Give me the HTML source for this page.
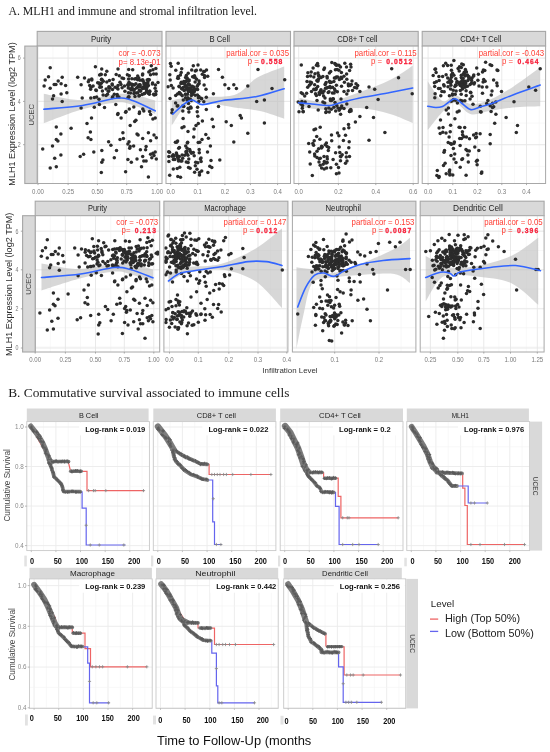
<!DOCTYPE html>
<html><head><meta charset="utf-8"><style>
html,body{margin:0;padding:0;background:#fff;width:550px;height:752px;overflow:hidden}
svg{display:block;filter:blur(0.35px)}
text{font-family:"Liberation Sans",sans-serif}
.serif{font-family:"Liberation Serif",serif}
</style></head><body>
<svg width="550" height="752" viewBox="0 0 550 752" fill="#2b2b2b">
<rect x="0" y="0" width="550" height="752" fill="#fff"/>
<text x="8.4" y="14.9" class="serif" font-size="11.8" fill="#1a1a1a">A. MLH1 and immune and stromal infiltration level.</text>
<rect x="37.2" y="31.4" width="124.8" height="14.700000000000003" fill="#d9d9d9" stroke="#a6a6a6" stroke-width="1.1"/>
<text x="91.1" y="41.8" font-size="8.2" fill="#222" textLength="20.0" lengthAdjust="spacingAndGlyphs">Purity</text>
<rect x="37.2" y="46.1" width="124.8" height="137.4" fill="#fff"/>
<line x1="53.0" y1="46.1" x2="53.0" y2="183.5" stroke="#f3f3f3" stroke-width="0.6"/>
<line x1="83.1" y1="46.1" x2="83.1" y2="183.5" stroke="#f3f3f3" stroke-width="0.6"/>
<line x1="113.2" y1="46.1" x2="113.2" y2="183.5" stroke="#f3f3f3" stroke-width="0.6"/>
<line x1="143.3" y1="46.1" x2="143.3" y2="183.5" stroke="#f3f3f3" stroke-width="0.6"/>
<line x1="37.2" y1="58.1" x2="162.0" y2="58.1" stroke="#f3f3f3" stroke-width="0.6"/>
<line x1="37.2" y1="79.8" x2="162.0" y2="79.8" stroke="#f3f3f3" stroke-width="0.6"/>
<line x1="37.2" y1="101.4" x2="162.0" y2="101.4" stroke="#f3f3f3" stroke-width="0.6"/>
<line x1="37.2" y1="123.1" x2="162.0" y2="123.1" stroke="#f3f3f3" stroke-width="0.6"/>
<line x1="37.2" y1="144.7" x2="162.0" y2="144.7" stroke="#f3f3f3" stroke-width="0.6"/>
<line x1="37.2" y1="166.4" x2="162.0" y2="166.4" stroke="#f3f3f3" stroke-width="0.6"/>
<line x1="38.0" y1="46.1" x2="38.0" y2="183.5" stroke="#e6e6e6" stroke-width="0.9"/>
<line x1="68.1" y1="46.1" x2="68.1" y2="183.5" stroke="#e6e6e6" stroke-width="0.9"/>
<line x1="97.4" y1="46.1" x2="97.4" y2="183.5" stroke="#e6e6e6" stroke-width="0.9"/>
<line x1="126.7" y1="46.1" x2="126.7" y2="183.5" stroke="#e6e6e6" stroke-width="0.9"/>
<line x1="157.2" y1="46.1" x2="157.2" y2="183.5" stroke="#e6e6e6" stroke-width="0.9"/>
<line x1="37.2" y1="58.1" x2="162.0" y2="58.1" stroke="#e6e6e6" stroke-width="0.9"/>
<line x1="37.2" y1="101.4" x2="162.0" y2="101.4" stroke="#e6e6e6" stroke-width="0.9"/>
<line x1="37.2" y1="144.7" x2="162.0" y2="144.7" stroke="#e6e6e6" stroke-width="0.9"/>
<path d="M43.8,93.7 C49.8,94.8 67.9,100.0 80.0,100.0 C92.1,100.0 107.3,94.8 116.5,94.0 C125.7,93.2 128.6,93.9 135.0,95.0 C141.4,96.1 151.8,99.6 155.2,100.5 L155.2,114.0 C151.8,112.7 141.4,107.9 135.0,106.0 C128.6,104.1 125.7,101.8 116.5,102.5 C107.3,103.2 92.1,106.5 80.0,110.0 C67.9,113.5 49.8,121.1 43.8,123.3 Z" fill="#bdbdbd" fill-opacity="0.6"/>
<circle cx="50.2" cy="67.8" r="1.75"/>
<circle cx="48.5" cy="76.7" r="1.75"/>
<circle cx="45.2" cy="80.1" r="1.75"/>
<circle cx="44.1" cy="86.1" r="1.75"/>
<circle cx="50.2" cy="88.2" r="1.75"/>
<circle cx="54.2" cy="84.4" r="1.75"/>
<circle cx="55.9" cy="84.4" r="1.75"/>
<circle cx="58.2" cy="80.9" r="1.75"/>
<circle cx="61.1" cy="83.8" r="1.75"/>
<circle cx="62.2" cy="77.2" r="1.75"/>
<circle cx="65.6" cy="85.5" r="1.75"/>
<circle cx="53.6" cy="95.8" r="1.75"/>
<circle cx="52.5" cy="98.9" r="1.75"/>
<circle cx="61.1" cy="94.1" r="1.75"/>
<circle cx="66.8" cy="92.7" r="1.75"/>
<circle cx="62.2" cy="101.6" r="1.75"/>
<circle cx="77.7" cy="77.2" r="1.75"/>
<circle cx="84.5" cy="78.1" r="1.75"/>
<circle cx="81.1" cy="84.7" r="1.75"/>
<circle cx="88.3" cy="81.7" r="1.75"/>
<circle cx="91.8" cy="80.1" r="1.75"/>
<circle cx="89.7" cy="85.5" r="1.75"/>
<circle cx="93.1" cy="86.1" r="1.75"/>
<circle cx="95.4" cy="66.8" r="1.75"/>
<circle cx="97.7" cy="82.7" r="1.75"/>
<circle cx="82.2" cy="98.1" r="1.75"/>
<circle cx="90.8" cy="98.1" r="1.75"/>
<circle cx="94.3" cy="97.5" r="1.75"/>
<circle cx="96.6" cy="97.0" r="1.75"/>
<circle cx="81.1" cy="107.9" r="1.75"/>
<circle cx="94.3" cy="107.3" r="1.75"/>
<circle cx="99.4" cy="104.4" r="1.75"/>
<circle cx="91.5" cy="118.0" r="1.75"/>
<circle cx="87.0" cy="123.6" r="1.75"/>
<circle cx="56.3" cy="127.0" r="1.75"/>
<circle cx="71.1" cy="128.2" r="1.75"/>
<circle cx="60.9" cy="133.9" r="1.75"/>
<circle cx="90.4" cy="132.0" r="1.75"/>
<circle cx="56.3" cy="139.5" r="1.75"/>
<circle cx="57.9" cy="141.1" r="1.75"/>
<circle cx="88.1" cy="137.7" r="1.75"/>
<circle cx="90.9" cy="139.5" r="1.75"/>
<circle cx="52.5" cy="145.9" r="1.75"/>
<circle cx="42.7" cy="149.1" r="1.75"/>
<circle cx="60.9" cy="155.0" r="1.75"/>
<circle cx="54.7" cy="158.2" r="1.75"/>
<circle cx="50.2" cy="168.0" r="1.75"/>
<circle cx="56.3" cy="166.8" r="1.75"/>
<circle cx="80.2" cy="156.6" r="1.75"/>
<circle cx="83.6" cy="154.3" r="1.75"/>
<circle cx="93.8" cy="152.0" r="1.75"/>
<circle cx="101.8" cy="150.5" r="1.75"/>
<circle cx="108.6" cy="141.8" r="1.75"/>
<circle cx="110.9" cy="145.2" r="1.75"/>
<circle cx="116.5" cy="150.5" r="1.75"/>
<circle cx="114.3" cy="157.7" r="1.75"/>
<circle cx="102.9" cy="160.0" r="1.75"/>
<circle cx="101.8" cy="162.3" r="1.75"/>
<circle cx="101.3" cy="172.5" r="1.75"/>
<circle cx="117.7" cy="114.5" r="1.75"/>
<circle cx="121.1" cy="118.0" r="1.75"/>
<circle cx="125.6" cy="112.3" r="1.75"/>
<circle cx="130.2" cy="125.5" r="1.75"/>
<circle cx="134.7" cy="121.4" r="1.75"/>
<circle cx="135.9" cy="120.2" r="1.75"/>
<circle cx="139.3" cy="113.4" r="1.75"/>
<circle cx="143.8" cy="111.1" r="1.75"/>
<circle cx="150.6" cy="114.5" r="1.75"/>
<circle cx="152.9" cy="119.1" r="1.75"/>
<circle cx="155.2" cy="118.0" r="1.75"/>
<circle cx="122.9" cy="132.7" r="1.75"/>
<circle cx="120.0" cy="139.5" r="1.75"/>
<circle cx="123.4" cy="138.4" r="1.75"/>
<circle cx="137.0" cy="133.9" r="1.75"/>
<circle cx="138.1" cy="135.0" r="1.75"/>
<circle cx="142.7" cy="138.4" r="1.75"/>
<circle cx="148.4" cy="132.7" r="1.75"/>
<circle cx="154.0" cy="135.0" r="1.75"/>
<circle cx="156.3" cy="137.7" r="1.75"/>
<circle cx="129.0" cy="141.8" r="1.75"/>
<circle cx="127.9" cy="144.1" r="1.75"/>
<circle cx="130.2" cy="146.4" r="1.75"/>
<circle cx="133.6" cy="145.9" r="1.75"/>
<circle cx="129.7" cy="148.2" r="1.75"/>
<circle cx="150.6" cy="140.7" r="1.75"/>
<circle cx="146.1" cy="146.4" r="1.75"/>
<circle cx="145.6" cy="149.8" r="1.75"/>
<circle cx="140.4" cy="149.8" r="1.75"/>
<circle cx="142.7" cy="156.6" r="1.75"/>
<circle cx="137.0" cy="158.9" r="1.75"/>
<circle cx="127.9" cy="159.5" r="1.75"/>
<circle cx="131.3" cy="162.3" r="1.75"/>
<circle cx="125.6" cy="171.8" r="1.75"/>
<circle cx="141.5" cy="166.8" r="1.75"/>
<circle cx="143.8" cy="161.1" r="1.75"/>
<circle cx="146.1" cy="161.1" r="1.75"/>
<circle cx="150.6" cy="154.3" r="1.75"/>
<circle cx="152.9" cy="153.2" r="1.75"/>
<circle cx="154.0" cy="155.5" r="1.75"/>
<circle cx="151.8" cy="157.7" r="1.75"/>
<circle cx="155.2" cy="152.0" r="1.75"/>
<circle cx="156.3" cy="158.9" r="1.75"/>
<circle cx="148.4" cy="177.0" r="1.75"/>
<circle cx="101.7" cy="69.1" r="1.75"/>
<circle cx="106.8" cy="71.3" r="1.75"/>
<circle cx="118.0" cy="69.1" r="1.75"/>
<circle cx="128.7" cy="69.4" r="1.75"/>
<circle cx="132.7" cy="69.7" r="1.75"/>
<circle cx="143.4" cy="68.0" r="1.75"/>
<circle cx="151.3" cy="65.7" r="1.75"/>
<circle cx="153.0" cy="69.7" r="1.75"/>
<circle cx="155.8" cy="68.5" r="1.75"/>
<circle cx="150.2" cy="70.8" r="1.75"/>
<circle cx="104.5" cy="107.4" r="1.75"/>
<circle cx="115.8" cy="104.6" r="1.75"/>
<circle cx="126.0" cy="111.4" r="1.75"/>
<circle cx="129.3" cy="109.1" r="1.75"/>
<circle cx="133.8" cy="106.9" r="1.75"/>
<circle cx="139.5" cy="112.0" r="1.75"/>
<circle cx="142.8" cy="109.1" r="1.75"/>
<circle cx="149.6" cy="111.4" r="1.75"/>
<circle cx="118.0" cy="113.6" r="1.75"/>
<circle cx="107.5" cy="94.3" r="1.75"/>
<circle cx="142.8" cy="80.1" r="1.75"/>
<circle cx="127.7" cy="84.8" r="1.75"/>
<circle cx="136.5" cy="92.9" r="1.75"/>
<circle cx="105.3" cy="74.7" r="1.75"/>
<circle cx="146.8" cy="84.4" r="1.75"/>
<circle cx="142.7" cy="74.1" r="1.75"/>
<circle cx="124.9" cy="91.3" r="1.75"/>
<circle cx="112.8" cy="96.7" r="1.75"/>
<circle cx="150.5" cy="74.7" r="1.75"/>
<circle cx="101.4" cy="87.0" r="1.75"/>
<circle cx="152.6" cy="83.1" r="1.75"/>
<circle cx="112.1" cy="84.1" r="1.75"/>
<circle cx="101.6" cy="79.3" r="1.75"/>
<circle cx="124.5" cy="85.9" r="1.75"/>
<circle cx="113.1" cy="79.5" r="1.75"/>
<circle cx="112.3" cy="85.0" r="1.75"/>
<circle cx="116.2" cy="74.5" r="1.75"/>
<circle cx="146.9" cy="87.4" r="1.75"/>
<circle cx="136.0" cy="78.5" r="1.75"/>
<circle cx="155.6" cy="94.6" r="1.75"/>
<circle cx="106.8" cy="82.0" r="1.75"/>
<circle cx="140.4" cy="91.1" r="1.75"/>
<circle cx="152.4" cy="84.1" r="1.75"/>
<circle cx="146.5" cy="90.1" r="1.75"/>
<circle cx="117.0" cy="88.1" r="1.75"/>
<circle cx="149.4" cy="94.3" r="1.75"/>
<circle cx="128.3" cy="88.1" r="1.75"/>
<circle cx="101.9" cy="79.8" r="1.75"/>
<circle cx="144.7" cy="83.9" r="1.75"/>
<circle cx="109.7" cy="87.2" r="1.75"/>
<circle cx="139.4" cy="90.2" r="1.75"/>
<circle cx="121.0" cy="84.5" r="1.75"/>
<circle cx="128.5" cy="92.7" r="1.75"/>
<circle cx="129.2" cy="83.4" r="1.75"/>
<circle cx="127.4" cy="74.7" r="1.75"/>
<circle cx="102.4" cy="90.9" r="1.75"/>
<circle cx="155.1" cy="88.2" r="1.75"/>
<circle cx="122.0" cy="78.1" r="1.75"/>
<circle cx="128.1" cy="97.6" r="1.75"/>
<circle cx="143.1" cy="87.0" r="1.75"/>
<circle cx="148.2" cy="79.6" r="1.75"/>
<circle cx="128.8" cy="96.9" r="1.75"/>
<circle cx="132.4" cy="85.0" r="1.75"/>
<circle cx="115.1" cy="87.2" r="1.75"/>
<circle cx="153.6" cy="74.1" r="1.75"/>
<circle cx="143.9" cy="93.7" r="1.75"/>
<circle cx="149.6" cy="91.8" r="1.75"/>
<circle cx="145.3" cy="86.4" r="1.75"/>
<circle cx="131.4" cy="84.2" r="1.75"/>
<circle cx="103.1" cy="94.9" r="1.75"/>
<circle cx="131.9" cy="78.8" r="1.75"/>
<circle cx="128.3" cy="85.6" r="1.75"/>
<circle cx="120.0" cy="82.3" r="1.75"/>
<circle cx="130.2" cy="89.0" r="1.75"/>
<circle cx="134.3" cy="85.0" r="1.75"/>
<circle cx="101.6" cy="79.5" r="1.75"/>
<circle cx="109.9" cy="88.0" r="1.75"/>
<circle cx="148.2" cy="93.2" r="1.75"/>
<circle cx="144.6" cy="93.6" r="1.75"/>
<circle cx="114.3" cy="94.2" r="1.75"/>
<circle cx="137.7" cy="76.0" r="1.75"/>
<circle cx="100.9" cy="74.3" r="1.75"/>
<circle cx="142.3" cy="80.0" r="1.75"/>
<circle cx="106.1" cy="89.0" r="1.75"/>
<circle cx="119.3" cy="75.7" r="1.75"/>
<circle cx="108.9" cy="86.7" r="1.75"/>
<circle cx="109.4" cy="80.5" r="1.75"/>
<circle cx="139.8" cy="84.9" r="1.75"/>
<circle cx="118.0" cy="85.4" r="1.75"/>
<circle cx="101.3" cy="83.3" r="1.75"/>
<circle cx="123.6" cy="78.5" r="1.75"/>
<circle cx="106.1" cy="95.6" r="1.75"/>
<circle cx="128.6" cy="79.0" r="1.75"/>
<circle cx="133.9" cy="93.6" r="1.75"/>
<circle cx="101.2" cy="74.4" r="1.75"/>
<circle cx="108.2" cy="91.3" r="1.75"/>
<circle cx="109.0" cy="90.9" r="1.75"/>
<circle cx="138.0" cy="87.1" r="1.75"/>
<circle cx="112.4" cy="97.4" r="1.75"/>
<circle cx="144.7" cy="86.4" r="1.75"/>
<circle cx="112.5" cy="89.6" r="1.75"/>
<circle cx="122.1" cy="87.8" r="1.75"/>
<circle cx="118.0" cy="89.1" r="1.75"/>
<circle cx="103.3" cy="81.2" r="1.75"/>
<circle cx="154.2" cy="95.0" r="1.75"/>
<circle cx="117.2" cy="94.6" r="1.75"/>
<circle cx="117.4" cy="96.5" r="1.75"/>
<circle cx="137.6" cy="79.8" r="1.75"/>
<circle cx="138.0" cy="86.8" r="1.75"/>
<circle cx="140.0" cy="84.8" r="1.75"/>
<circle cx="148.8" cy="72.1" r="1.75"/>
<circle cx="132.5" cy="84.4" r="1.75"/>
<circle cx="156.2" cy="74.0" r="1.75"/>
<circle cx="134.6" cy="79.1" r="1.75"/>
<circle cx="131.4" cy="89.8" r="1.75"/>
<circle cx="142.1" cy="94.6" r="1.75"/>
<circle cx="132.0" cy="87.6" r="1.75"/>
<circle cx="149.7" cy="91.4" r="1.75"/>
<circle cx="134.6" cy="92.8" r="1.75"/>
<circle cx="128.8" cy="96.8" r="1.75"/>
<circle cx="139.5" cy="85.3" r="1.75"/>
<circle cx="140.7" cy="91.1" r="1.75"/>
<circle cx="155.4" cy="85.1" r="1.75"/>
<circle cx="134.3" cy="89.5" r="1.75"/>
<circle cx="129.3" cy="75.8" r="1.75"/>
<circle cx="146.4" cy="83.7" r="1.75"/>
<circle cx="149.3" cy="79.8" r="1.75"/>
<circle cx="109.0" cy="87.7" r="1.75"/>
<circle cx="139.5" cy="95.6" r="1.75"/>
<circle cx="143.3" cy="87.9" r="1.75"/>
<circle cx="143.9" cy="83.8" r="1.75"/>
<circle cx="138.8" cy="77.9" r="1.75"/>
<circle cx="143.2" cy="81.2" r="1.75"/>
<circle cx="133.5" cy="90.2" r="1.75"/>
<circle cx="147.2" cy="80.0" r="1.75"/>
<circle cx="158.0" cy="82.5" r="1.75"/>
<circle cx="146.4" cy="91.7" r="1.75"/>
<circle cx="140.2" cy="87.0" r="1.75"/>
<circle cx="156.0" cy="91.3" r="1.75"/>
<circle cx="142.5" cy="75.1" r="1.75"/>
<circle cx="130.5" cy="93.0" r="1.75"/>
<circle cx="139.9" cy="80.3" r="1.75"/>
<circle cx="131.6" cy="84.2" r="1.75"/>
<circle cx="144.9" cy="88.3" r="1.75"/>
<circle cx="148.0" cy="81.1" r="1.75"/>
<circle cx="147.9" cy="83.0" r="1.75"/>
<circle cx="135.0" cy="96.4" r="1.75"/>
<circle cx="138.7" cy="85.2" r="1.75"/>
<circle cx="135.9" cy="83.7" r="1.75"/>
<circle cx="153.6" cy="94.3" r="1.75"/>
<circle cx="145.2" cy="87.1" r="1.75"/>
<circle cx="148.4" cy="85.5" r="1.75"/>
<circle cx="142.5" cy="88.4" r="1.75"/>
<circle cx="138.9" cy="95.9" r="1.75"/>
<circle cx="155.6" cy="93.9" r="1.75"/>
<circle cx="118.9" cy="97.0" r="1.75"/>
<circle cx="145.0" cy="83.3" r="1.75"/>
<circle cx="137.8" cy="92.8" r="1.75"/>
<circle cx="149.7" cy="91.1" r="1.75"/>
<circle cx="139.4" cy="86.2" r="1.75"/>
<circle cx="146.3" cy="85.5" r="1.75"/>
<circle cx="129.0" cy="82.3" r="1.75"/>
<circle cx="136.6" cy="88.0" r="1.75"/>
<circle cx="99.0" cy="99.2" r="1.75"/>
<circle cx="99.6" cy="75.1" r="1.75"/>
<circle cx="90.6" cy="89.3" r="1.75"/>
<circle cx="99.8" cy="87.2" r="1.75"/>
<circle cx="96.3" cy="90.5" r="1.75"/>
<circle cx="91.1" cy="87.2" r="1.75"/>
<circle cx="91.7" cy="78.9" r="1.75"/>
<circle cx="89.0" cy="79.9" r="1.75"/>
<circle cx="99.8" cy="84.5" r="1.75"/>
<circle cx="95.8" cy="90.0" r="1.75"/>
<circle cx="99.3" cy="82.9" r="1.75"/>
<path d="M43.8,109.2 C50.2,108.6 70.4,107.3 82.5,105.5 C94.6,103.7 108.2,99.1 116.5,98.3 C124.8,97.5 126.0,98.4 132.5,100.5 C138.9,102.6 151.4,109.1 155.2,110.8" fill="none" stroke="#3366ff" stroke-width="1.6" stroke-linecap="round"/>
<rect x="37.2" y="46.1" width="124.8" height="137.4" fill="none" stroke="#a8a8a8" stroke-width="1"/>
<text transform="translate(160.5 55.5) scale(0.87 1)" font-size="9" fill="#ff3d33" text-anchor="end">cor = -0.073</text>
<text transform="translate(160.5 64.5) scale(0.87 1)" font-size="9" fill="#ff3333" text-anchor="end">p= 8.13e-01</text>
<text transform="translate(38.0 193.7) scale(0.8 1)" font-size="7.6" fill="#7a7a7a" text-anchor="middle">0.00</text>
<line x1="38.0" y1="183.5" x2="38.0" y2="185.1" stroke="#999" stroke-width="0.8"/>
<text transform="translate(68.1 193.7) scale(0.8 1)" font-size="7.6" fill="#7a7a7a" text-anchor="middle">0.25</text>
<line x1="68.1" y1="183.5" x2="68.1" y2="185.1" stroke="#999" stroke-width="0.8"/>
<text transform="translate(97.4 193.7) scale(0.8 1)" font-size="7.6" fill="#7a7a7a" text-anchor="middle">0.50</text>
<line x1="97.4" y1="183.5" x2="97.4" y2="185.1" stroke="#999" stroke-width="0.8"/>
<text transform="translate(126.7 193.7) scale(0.8 1)" font-size="7.6" fill="#7a7a7a" text-anchor="middle">0.75</text>
<line x1="126.7" y1="183.5" x2="126.7" y2="185.1" stroke="#999" stroke-width="0.8"/>
<text transform="translate(157.2 193.7) scale(0.8 1)" font-size="7.6" fill="#7a7a7a" text-anchor="middle">1.00</text>
<line x1="157.2" y1="183.5" x2="157.2" y2="185.1" stroke="#999" stroke-width="0.8"/>
<rect x="166.0" y="31.4" width="124.5" height="14.700000000000003" fill="#d9d9d9" stroke="#a6a6a6" stroke-width="1.1"/>
<text x="209.6" y="41.8" font-size="8.2" fill="#222" textLength="20.4" lengthAdjust="spacingAndGlyphs">B Cell</text>
<rect x="166.0" y="46.1" width="124.5" height="137.4" fill="#fff"/>
<line x1="184.2" y1="46.1" x2="184.2" y2="183.5" stroke="#f3f3f3" stroke-width="0.6"/>
<line x1="211.2" y1="46.1" x2="211.2" y2="183.5" stroke="#f3f3f3" stroke-width="0.6"/>
<line x1="238.2" y1="46.1" x2="238.2" y2="183.5" stroke="#f3f3f3" stroke-width="0.6"/>
<line x1="265.2" y1="46.1" x2="265.2" y2="183.5" stroke="#f3f3f3" stroke-width="0.6"/>
<line x1="166.0" y1="58.1" x2="290.5" y2="58.1" stroke="#f3f3f3" stroke-width="0.6"/>
<line x1="166.0" y1="79.8" x2="290.5" y2="79.8" stroke="#f3f3f3" stroke-width="0.6"/>
<line x1="166.0" y1="101.4" x2="290.5" y2="101.4" stroke="#f3f3f3" stroke-width="0.6"/>
<line x1="166.0" y1="123.1" x2="290.5" y2="123.1" stroke="#f3f3f3" stroke-width="0.6"/>
<line x1="166.0" y1="144.7" x2="290.5" y2="144.7" stroke="#f3f3f3" stroke-width="0.6"/>
<line x1="166.0" y1="166.4" x2="290.5" y2="166.4" stroke="#f3f3f3" stroke-width="0.6"/>
<line x1="170.7" y1="46.1" x2="170.7" y2="183.5" stroke="#e6e6e6" stroke-width="0.9"/>
<line x1="197.7" y1="46.1" x2="197.7" y2="183.5" stroke="#e6e6e6" stroke-width="0.9"/>
<line x1="224.9" y1="46.1" x2="224.9" y2="183.5" stroke="#e6e6e6" stroke-width="0.9"/>
<line x1="250.4" y1="46.1" x2="250.4" y2="183.5" stroke="#e6e6e6" stroke-width="0.9"/>
<line x1="277.6" y1="46.1" x2="277.6" y2="183.5" stroke="#e6e6e6" stroke-width="0.9"/>
<line x1="166.0" y1="58.1" x2="290.5" y2="58.1" stroke="#e6e6e6" stroke-width="0.9"/>
<line x1="166.0" y1="101.4" x2="290.5" y2="101.4" stroke="#e6e6e6" stroke-width="0.9"/>
<line x1="166.0" y1="144.7" x2="290.5" y2="144.7" stroke="#e6e6e6" stroke-width="0.9"/>
<path d="M171.7,100.5 C175.1,99.9 181.7,97.9 192.1,97.0 C202.5,96.1 223.4,98.1 234.2,94.9 C245.0,91.7 248.6,82.5 256.9,77.8 C265.2,73.1 279.6,68.4 284.2,66.5 L284.2,118.7 C280.2,117.4 268.3,112.9 260.0,111.0 C251.7,109.1 245.5,108.8 234.2,107.4 C222.9,106.0 202.5,99.8 192.1,102.8 C181.7,105.8 175.1,121.7 171.7,125.5 Z" fill="#bdbdbd" fill-opacity="0.6"/>
<circle cx="206.3" cy="109.4" r="1.75"/>
<circle cx="171.2" cy="66.2" r="1.75"/>
<circle cx="201.6" cy="98.8" r="1.75"/>
<circle cx="195.1" cy="77.4" r="1.75"/>
<circle cx="192.6" cy="92.3" r="1.75"/>
<circle cx="191.7" cy="69.9" r="1.75"/>
<circle cx="185.8" cy="81.7" r="1.75"/>
<circle cx="197.2" cy="111.7" r="1.75"/>
<circle cx="206.0" cy="89.2" r="1.75"/>
<circle cx="186.3" cy="75.4" r="1.75"/>
<circle cx="170.4" cy="63.4" r="1.75"/>
<circle cx="187.1" cy="77.9" r="1.75"/>
<circle cx="183.8" cy="106.6" r="1.75"/>
<circle cx="189.5" cy="90.0" r="1.75"/>
<circle cx="178.2" cy="63.2" r="1.75"/>
<circle cx="181.7" cy="68.8" r="1.75"/>
<circle cx="188.9" cy="111.9" r="1.75"/>
<circle cx="195.3" cy="71.1" r="1.75"/>
<circle cx="203.8" cy="101.8" r="1.75"/>
<circle cx="197.6" cy="107.3" r="1.75"/>
<circle cx="198.8" cy="101.5" r="1.75"/>
<circle cx="182.8" cy="111.0" r="1.75"/>
<circle cx="206.5" cy="70.1" r="1.75"/>
<circle cx="198.4" cy="97.8" r="1.75"/>
<circle cx="187.0" cy="88.5" r="1.75"/>
<circle cx="188.1" cy="108.2" r="1.75"/>
<circle cx="188.5" cy="103.6" r="1.75"/>
<circle cx="182.8" cy="106.1" r="1.75"/>
<circle cx="204.1" cy="85.1" r="1.75"/>
<circle cx="191.1" cy="108.0" r="1.75"/>
<circle cx="197.2" cy="86.3" r="1.75"/>
<circle cx="177.7" cy="78.2" r="1.75"/>
<circle cx="196.3" cy="70.3" r="1.75"/>
<circle cx="204.4" cy="75.4" r="1.75"/>
<circle cx="204.5" cy="77.5" r="1.75"/>
<circle cx="206.3" cy="97.3" r="1.75"/>
<circle cx="188.7" cy="87.9" r="1.75"/>
<circle cx="194.4" cy="91.4" r="1.75"/>
<circle cx="181.2" cy="72.4" r="1.75"/>
<circle cx="189.0" cy="108.7" r="1.75"/>
<circle cx="193.3" cy="65.8" r="1.75"/>
<circle cx="201.0" cy="98.3" r="1.75"/>
<circle cx="204.4" cy="71.6" r="1.75"/>
<circle cx="198.0" cy="64.9" r="1.75"/>
<circle cx="194.5" cy="75.7" r="1.75"/>
<circle cx="177.8" cy="105.8" r="1.75"/>
<circle cx="173.1" cy="88.1" r="1.75"/>
<circle cx="202.3" cy="74.2" r="1.75"/>
<circle cx="177.2" cy="106.0" r="1.75"/>
<circle cx="185.5" cy="97.8" r="1.75"/>
<circle cx="170.2" cy="80.1" r="1.75"/>
<circle cx="175.7" cy="95.6" r="1.75"/>
<circle cx="172.2" cy="109.7" r="1.75"/>
<circle cx="170.0" cy="98.5" r="1.75"/>
<circle cx="169.8" cy="74.8" r="1.75"/>
<circle cx="200.7" cy="69.9" r="1.75"/>
<circle cx="191.3" cy="100.6" r="1.75"/>
<circle cx="185.4" cy="89.8" r="1.75"/>
<circle cx="191.0" cy="87.7" r="1.75"/>
<circle cx="193.3" cy="89.9" r="1.75"/>
<circle cx="178.4" cy="78.2" r="1.75"/>
<circle cx="191.8" cy="93.3" r="1.75"/>
<circle cx="194.5" cy="89.9" r="1.75"/>
<circle cx="188.2" cy="73.3" r="1.75"/>
<circle cx="196.6" cy="79.3" r="1.75"/>
<circle cx="194.1" cy="77.3" r="1.75"/>
<circle cx="182.1" cy="89.1" r="1.75"/>
<circle cx="183.8" cy="81.4" r="1.75"/>
<circle cx="193.1" cy="93.9" r="1.75"/>
<circle cx="189.6" cy="84.7" r="1.75"/>
<circle cx="181.0" cy="83.4" r="1.75"/>
<circle cx="183.1" cy="87.5" r="1.75"/>
<circle cx="192.2" cy="86.3" r="1.75"/>
<circle cx="181.3" cy="82.2" r="1.75"/>
<circle cx="195.9" cy="89.3" r="1.75"/>
<circle cx="188.5" cy="90.4" r="1.75"/>
<circle cx="191.1" cy="89.1" r="1.75"/>
<circle cx="195.2" cy="95.2" r="1.75"/>
<circle cx="168.0" cy="86.7" r="1.75"/>
<circle cx="207.7" cy="76.3" r="1.75"/>
<circle cx="187.8" cy="97.7" r="1.75"/>
<circle cx="187.0" cy="100.0" r="1.75"/>
<circle cx="178.1" cy="76.6" r="1.75"/>
<circle cx="185.6" cy="81.3" r="1.75"/>
<circle cx="179.4" cy="93.1" r="1.75"/>
<circle cx="188.9" cy="88.1" r="1.75"/>
<circle cx="184.1" cy="90.4" r="1.75"/>
<circle cx="186.1" cy="81.4" r="1.75"/>
<circle cx="190.6" cy="91.3" r="1.75"/>
<circle cx="187.6" cy="94.3" r="1.75"/>
<circle cx="179.2" cy="86.7" r="1.75"/>
<circle cx="183.3" cy="100.0" r="1.75"/>
<circle cx="190.6" cy="107.1" r="1.75"/>
<circle cx="198.0" cy="84.7" r="1.75"/>
<circle cx="179.3" cy="92.4" r="1.75"/>
<circle cx="185.0" cy="86.6" r="1.75"/>
<circle cx="179.6" cy="93.4" r="1.75"/>
<circle cx="188.3" cy="91.6" r="1.75"/>
<circle cx="189.2" cy="79.9" r="1.75"/>
<circle cx="171.3" cy="85.6" r="1.75"/>
<circle cx="182.6" cy="83.2" r="1.75"/>
<circle cx="193.7" cy="87.1" r="1.75"/>
<circle cx="197.6" cy="89.6" r="1.75"/>
<circle cx="191.8" cy="92.6" r="1.75"/>
<circle cx="192.6" cy="76.7" r="1.75"/>
<circle cx="194.6" cy="89.0" r="1.75"/>
<circle cx="180.2" cy="93.5" r="1.75"/>
<circle cx="189.4" cy="99.6" r="1.75"/>
<circle cx="192.1" cy="91.3" r="1.75"/>
<circle cx="175.6" cy="103.1" r="1.75"/>
<circle cx="197.4" cy="95.0" r="1.75"/>
<circle cx="190.2" cy="99.0" r="1.75"/>
<circle cx="180.9" cy="94.3" r="1.75"/>
<circle cx="187.2" cy="79.0" r="1.75"/>
<circle cx="189.6" cy="91.2" r="1.75"/>
<circle cx="198.9" cy="96.5" r="1.75"/>
<circle cx="175.8" cy="70.3" r="1.75"/>
<circle cx="186.4" cy="86.1" r="1.75"/>
<circle cx="180.4" cy="74.9" r="1.75"/>
<circle cx="185.6" cy="77.6" r="1.75"/>
<circle cx="182.2" cy="95.8" r="1.75"/>
<circle cx="188.7" cy="81.2" r="1.75"/>
<circle cx="179.1" cy="86.3" r="1.75"/>
<circle cx="199.1" cy="83.4" r="1.75"/>
<circle cx="199.1" cy="80.9" r="1.75"/>
<circle cx="185.5" cy="94.3" r="1.75"/>
<circle cx="181.6" cy="88.5" r="1.75"/>
<circle cx="177.5" cy="94.0" r="1.75"/>
<circle cx="195.1" cy="82.1" r="1.75"/>
<circle cx="188.3" cy="84.3" r="1.75"/>
<circle cx="171.9" cy="112.7" r="1.75"/>
<circle cx="191.4" cy="95.4" r="1.75"/>
<circle cx="189.7" cy="89.6" r="1.75"/>
<circle cx="203.6" cy="71.6" r="1.75"/>
<circle cx="184.8" cy="84.2" r="1.75"/>
<circle cx="185.5" cy="94.3" r="1.75"/>
<circle cx="197.8" cy="162.7" r="1.75"/>
<circle cx="187.9" cy="155.2" r="1.75"/>
<circle cx="173.8" cy="156.0" r="1.75"/>
<circle cx="209.8" cy="166.3" r="1.75"/>
<circle cx="173.1" cy="154.8" r="1.75"/>
<circle cx="199.8" cy="142.3" r="1.75"/>
<circle cx="207.5" cy="152.1" r="1.75"/>
<circle cx="199.2" cy="149.4" r="1.75"/>
<circle cx="211.8" cy="167.6" r="1.75"/>
<circle cx="193.7" cy="136.9" r="1.75"/>
<circle cx="188.0" cy="131.4" r="1.75"/>
<circle cx="194.6" cy="172.3" r="1.75"/>
<circle cx="176.8" cy="154.5" r="1.75"/>
<circle cx="189.7" cy="149.4" r="1.75"/>
<circle cx="199.5" cy="175.0" r="1.75"/>
<circle cx="199.3" cy="152.7" r="1.75"/>
<circle cx="210.4" cy="145.9" r="1.75"/>
<circle cx="201.1" cy="161.6" r="1.75"/>
<circle cx="201.7" cy="170.9" r="1.75"/>
<circle cx="178.7" cy="159.8" r="1.75"/>
<circle cx="186.3" cy="162.0" r="1.75"/>
<circle cx="211.0" cy="160.5" r="1.75"/>
<circle cx="169.5" cy="152.3" r="1.75"/>
<circle cx="199.6" cy="172.4" r="1.75"/>
<circle cx="197.0" cy="169.2" r="1.75"/>
<circle cx="169.7" cy="175.3" r="1.75"/>
<circle cx="200.4" cy="159.1" r="1.75"/>
<circle cx="207.9" cy="172.5" r="1.75"/>
<circle cx="173.3" cy="169.1" r="1.75"/>
<circle cx="202.0" cy="139.6" r="1.75"/>
<circle cx="201.0" cy="158.1" r="1.75"/>
<circle cx="177.2" cy="168.6" r="1.75"/>
<circle cx="174.9" cy="159.4" r="1.75"/>
<circle cx="187.7" cy="142.2" r="1.75"/>
<circle cx="193.3" cy="152.4" r="1.75"/>
<circle cx="177.8" cy="176.4" r="1.75"/>
<circle cx="184.6" cy="155.3" r="1.75"/>
<circle cx="168.8" cy="156.6" r="1.75"/>
<circle cx="176.7" cy="142.3" r="1.75"/>
<circle cx="172.1" cy="156.3" r="1.75"/>
<circle cx="180.8" cy="161.1" r="1.75"/>
<circle cx="182.1" cy="155.0" r="1.75"/>
<circle cx="195.7" cy="162.2" r="1.75"/>
<circle cx="190.1" cy="168.3" r="1.75"/>
<circle cx="185.7" cy="146.0" r="1.75"/>
<circle cx="177.6" cy="140.9" r="1.75"/>
<circle cx="186.8" cy="151.3" r="1.75"/>
<circle cx="188.1" cy="162.5" r="1.75"/>
<circle cx="177.5" cy="156.7" r="1.75"/>
<circle cx="194.2" cy="155.8" r="1.75"/>
<circle cx="191.5" cy="153.2" r="1.75"/>
<circle cx="176.4" cy="152.9" r="1.75"/>
<circle cx="168.9" cy="161.4" r="1.75"/>
<circle cx="179.8" cy="167.2" r="1.75"/>
<circle cx="174.1" cy="156.1" r="1.75"/>
<circle cx="186.7" cy="153.2" r="1.75"/>
<circle cx="187.1" cy="148.2" r="1.75"/>
<circle cx="175.4" cy="142.2" r="1.75"/>
<circle cx="179.4" cy="147.6" r="1.75"/>
<circle cx="185.9" cy="151.7" r="1.75"/>
<circle cx="178.7" cy="148.3" r="1.75"/>
<circle cx="168.7" cy="151.7" r="1.75"/>
<circle cx="187.3" cy="142.9" r="1.75"/>
<circle cx="181.9" cy="161.1" r="1.75"/>
<circle cx="178.4" cy="156.7" r="1.75"/>
<circle cx="180.5" cy="177.3" r="1.75"/>
<circle cx="195.3" cy="165.8" r="1.75"/>
<circle cx="178.5" cy="160.9" r="1.75"/>
<circle cx="182.7" cy="158.3" r="1.75"/>
<circle cx="179.3" cy="156.4" r="1.75"/>
<circle cx="177.8" cy="157.7" r="1.75"/>
<circle cx="198.2" cy="142.5" r="1.75"/>
<circle cx="173.3" cy="159.6" r="1.75"/>
<circle cx="190.4" cy="151.6" r="1.75"/>
<circle cx="188.8" cy="158.9" r="1.75"/>
<circle cx="188.5" cy="167.6" r="1.75"/>
<circle cx="183.1" cy="118.4" r="1.75"/>
<circle cx="197.8" cy="116.2" r="1.75"/>
<circle cx="198.3" cy="123.4" r="1.75"/>
<circle cx="184.0" cy="126.8" r="1.75"/>
<circle cx="182.0" cy="127.8" r="1.75"/>
<circle cx="202.4" cy="121.0" r="1.75"/>
<circle cx="194.1" cy="129.1" r="1.75"/>
<circle cx="196.0" cy="125.5" r="1.75"/>
<circle cx="258.0" cy="69.5" r="1.75"/>
<circle cx="284.7" cy="79.7" r="1.75"/>
<circle cx="247.8" cy="86.1" r="1.75"/>
<circle cx="272.0" cy="88.6" r="1.75"/>
<circle cx="256.7" cy="101.4" r="1.75"/>
<circle cx="264.4" cy="100.1" r="1.75"/>
<circle cx="240.2" cy="115.4" r="1.75"/>
<circle cx="241.4" cy="117.9" r="1.75"/>
<circle cx="264.4" cy="123.0" r="1.75"/>
<circle cx="247.8" cy="133.2" r="1.75"/>
<circle cx="233.8" cy="142.1" r="1.75"/>
<circle cx="231.3" cy="125.5" r="1.75"/>
<circle cx="226.2" cy="121.7" r="1.75"/>
<circle cx="224.9" cy="84.8" r="1.75"/>
<circle cx="228.7" cy="88.6" r="1.75"/>
<circle cx="218.5" cy="69.5" r="1.75"/>
<circle cx="222.4" cy="77.2" r="1.75"/>
<circle cx="213.4" cy="93.7" r="1.75"/>
<circle cx="218.5" cy="106.4" r="1.75"/>
<circle cx="212.2" cy="119.2" r="1.75"/>
<circle cx="213.4" cy="126.8" r="1.75"/>
<circle cx="205.8" cy="134.4" r="1.75"/>
<circle cx="208.4" cy="138.3" r="1.75"/>
<circle cx="219.8" cy="159.9" r="1.75"/>
<circle cx="233.8" cy="84.8" r="1.75"/>
<circle cx="236.4" cy="88.6" r="1.75"/>
<path d="M172.8,114.2 C174.5,112.7 179.8,107.4 183.0,105.0 C186.2,102.6 188.9,100.1 192.1,100.0 C195.3,99.9 197.3,104.5 202.4,104.6 C207.5,104.7 213.7,101.8 222.8,100.5 C231.9,99.2 246.7,98.5 256.9,96.5 C267.1,94.5 279.6,90.0 284.2,88.7" fill="none" stroke="#3366ff" stroke-width="1.6" stroke-linecap="round"/>
<rect x="166.0" y="46.1" width="124.5" height="137.4" fill="none" stroke="#a8a8a8" stroke-width="1"/>
<text transform="translate(289.0 55.5) scale(0.87 1)" font-size="9" fill="#ff3d33" text-anchor="end">partial.cor = 0.035</text>
<text transform="translate(283.3 63.7) scale(0.87 1)" font-size="9" fill="#ff3d33" text-anchor="end" xml:space="preserve">p = <tspan font-weight="bold" font-size="7.8" letter-spacing="1.2" fill="#f8203a" stroke="#f8203a" stroke-width="0.3">0.558</tspan></text>
<text transform="translate(170.7 193.7) scale(0.8 1)" font-size="7.6" fill="#7a7a7a" text-anchor="middle">0.0</text>
<line x1="170.7" y1="183.5" x2="170.7" y2="185.1" stroke="#999" stroke-width="0.8"/>
<text transform="translate(197.7 193.7) scale(0.8 1)" font-size="7.6" fill="#7a7a7a" text-anchor="middle">0.1</text>
<line x1="197.7" y1="183.5" x2="197.7" y2="185.1" stroke="#999" stroke-width="0.8"/>
<text transform="translate(224.9 193.7) scale(0.8 1)" font-size="7.6" fill="#7a7a7a" text-anchor="middle">0.2</text>
<line x1="224.9" y1="183.5" x2="224.9" y2="185.1" stroke="#999" stroke-width="0.8"/>
<text transform="translate(250.4 193.7) scale(0.8 1)" font-size="7.6" fill="#7a7a7a" text-anchor="middle">0.3</text>
<line x1="250.4" y1="183.5" x2="250.4" y2="185.1" stroke="#999" stroke-width="0.8"/>
<text transform="translate(277.6 193.7) scale(0.8 1)" font-size="7.6" fill="#7a7a7a" text-anchor="middle">0.4</text>
<line x1="277.6" y1="183.5" x2="277.6" y2="185.1" stroke="#999" stroke-width="0.8"/>
<rect x="294.0" y="31.4" width="124.19999999999999" height="14.700000000000003" fill="#d9d9d9" stroke="#a6a6a6" stroke-width="1.1"/>
<text x="337.3" y="41.8" font-size="8.2" fill="#222" textLength="40.2" lengthAdjust="spacingAndGlyphs">CD8+ T cell</text>
<rect x="294.0" y="46.1" width="124.19999999999999" height="137.4" fill="#fff"/>
<line x1="318.6" y1="46.1" x2="318.6" y2="183.5" stroke="#f3f3f3" stroke-width="0.6"/>
<line x1="358.2" y1="46.1" x2="358.2" y2="183.5" stroke="#f3f3f3" stroke-width="0.6"/>
<line x1="397.9" y1="46.1" x2="397.9" y2="183.5" stroke="#f3f3f3" stroke-width="0.6"/>
<line x1="294.0" y1="58.1" x2="418.2" y2="58.1" stroke="#f3f3f3" stroke-width="0.6"/>
<line x1="294.0" y1="79.8" x2="418.2" y2="79.8" stroke="#f3f3f3" stroke-width="0.6"/>
<line x1="294.0" y1="101.4" x2="418.2" y2="101.4" stroke="#f3f3f3" stroke-width="0.6"/>
<line x1="294.0" y1="123.1" x2="418.2" y2="123.1" stroke="#f3f3f3" stroke-width="0.6"/>
<line x1="294.0" y1="144.7" x2="418.2" y2="144.7" stroke="#f3f3f3" stroke-width="0.6"/>
<line x1="294.0" y1="166.4" x2="418.2" y2="166.4" stroke="#f3f3f3" stroke-width="0.6"/>
<line x1="298.7" y1="46.1" x2="298.7" y2="183.5" stroke="#e6e6e6" stroke-width="0.9"/>
<line x1="338.4" y1="46.1" x2="338.4" y2="183.5" stroke="#e6e6e6" stroke-width="0.9"/>
<line x1="375.8" y1="46.1" x2="375.8" y2="183.5" stroke="#e6e6e6" stroke-width="0.9"/>
<line x1="413.2" y1="46.1" x2="413.2" y2="183.5" stroke="#e6e6e6" stroke-width="0.9"/>
<line x1="294.0" y1="58.1" x2="418.2" y2="58.1" stroke="#e6e6e6" stroke-width="0.9"/>
<line x1="294.0" y1="101.4" x2="418.2" y2="101.4" stroke="#e6e6e6" stroke-width="0.9"/>
<line x1="294.0" y1="144.7" x2="418.2" y2="144.7" stroke="#e6e6e6" stroke-width="0.9"/>
<path d="M299.5,98.0 C304.2,98.7 317.4,103.0 327.5,102.0 C337.6,101.0 349.6,95.7 360.0,92.0 C370.4,88.3 381.2,84.4 390.0,80.0 C398.8,75.6 408.9,68.1 412.7,65.7 L412.7,123.0 C408.9,121.5 398.8,116.5 390.0,114.0 C381.2,111.5 370.4,108.7 360.0,108.0 C349.6,107.3 337.6,110.2 327.5,110.0 C317.4,109.8 304.2,107.5 299.5,107.0 Z" fill="#bdbdbd" fill-opacity="0.6"/>
<circle cx="313.8" cy="89.2" r="1.75"/>
<circle cx="321.5" cy="92.2" r="1.75"/>
<circle cx="336.3" cy="65.3" r="1.75"/>
<circle cx="300.8" cy="103.9" r="1.75"/>
<circle cx="315.0" cy="73.7" r="1.75"/>
<circle cx="357.7" cy="85.5" r="1.75"/>
<circle cx="348.5" cy="85.8" r="1.75"/>
<circle cx="337.1" cy="69.5" r="1.75"/>
<circle cx="336.8" cy="105.4" r="1.75"/>
<circle cx="330.3" cy="99.1" r="1.75"/>
<circle cx="338.9" cy="65.2" r="1.75"/>
<circle cx="344.0" cy="91.6" r="1.75"/>
<circle cx="317.5" cy="63.6" r="1.75"/>
<circle cx="350.2" cy="85.6" r="1.75"/>
<circle cx="341.7" cy="105.9" r="1.75"/>
<circle cx="341.4" cy="108.1" r="1.75"/>
<circle cx="322.9" cy="102.0" r="1.75"/>
<circle cx="325.8" cy="108.8" r="1.75"/>
<circle cx="351.0" cy="66.9" r="1.75"/>
<circle cx="307.9" cy="72.8" r="1.75"/>
<circle cx="356.0" cy="83.8" r="1.75"/>
<circle cx="336.3" cy="77.1" r="1.75"/>
<circle cx="329.4" cy="81.3" r="1.75"/>
<circle cx="320.4" cy="91.3" r="1.75"/>
<circle cx="333.9" cy="107.2" r="1.75"/>
<circle cx="339.6" cy="108.4" r="1.75"/>
<circle cx="349.7" cy="111.5" r="1.75"/>
<circle cx="338.9" cy="70.2" r="1.75"/>
<circle cx="349.9" cy="110.2" r="1.75"/>
<circle cx="352.5" cy="90.5" r="1.75"/>
<circle cx="341.4" cy="72.6" r="1.75"/>
<circle cx="348.2" cy="90.7" r="1.75"/>
<circle cx="316.5" cy="65.2" r="1.75"/>
<circle cx="349.5" cy="111.5" r="1.75"/>
<circle cx="305.1" cy="102.0" r="1.75"/>
<circle cx="323.8" cy="69.5" r="1.75"/>
<circle cx="317.0" cy="100.4" r="1.75"/>
<circle cx="350.6" cy="64.2" r="1.75"/>
<circle cx="335.6" cy="64.2" r="1.75"/>
<circle cx="341.7" cy="78.5" r="1.75"/>
<circle cx="351.1" cy="111.0" r="1.75"/>
<circle cx="329.3" cy="111.9" r="1.75"/>
<circle cx="318.0" cy="65.8" r="1.75"/>
<circle cx="334.8" cy="63.6" r="1.75"/>
<circle cx="311.4" cy="82.4" r="1.75"/>
<circle cx="335.4" cy="69.8" r="1.75"/>
<circle cx="302.5" cy="105.4" r="1.75"/>
<circle cx="318.2" cy="109.9" r="1.75"/>
<circle cx="352.0" cy="80.9" r="1.75"/>
<circle cx="326.7" cy="88.0" r="1.75"/>
<circle cx="337.3" cy="91.8" r="1.75"/>
<circle cx="332.4" cy="93.0" r="1.75"/>
<circle cx="354.6" cy="87.4" r="1.75"/>
<circle cx="325.0" cy="98.0" r="1.75"/>
<circle cx="313.8" cy="77.1" r="1.75"/>
<circle cx="356.7" cy="88.1" r="1.75"/>
<circle cx="331.8" cy="62.6" r="1.75"/>
<circle cx="324.1" cy="91.0" r="1.75"/>
<circle cx="301.2" cy="92.8" r="1.75"/>
<circle cx="336.7" cy="65.0" r="1.75"/>
<circle cx="336.4" cy="85.3" r="1.75"/>
<circle cx="339.4" cy="79.6" r="1.75"/>
<circle cx="341.0" cy="98.9" r="1.75"/>
<circle cx="301.3" cy="65.0" r="1.75"/>
<circle cx="339.2" cy="110.2" r="1.75"/>
<circle cx="314.6" cy="84.8" r="1.75"/>
<circle cx="334.4" cy="78.0" r="1.75"/>
<circle cx="321.1" cy="77.6" r="1.75"/>
<circle cx="321.4" cy="91.8" r="1.75"/>
<circle cx="317.4" cy="80.9" r="1.75"/>
<circle cx="344.8" cy="63.3" r="1.75"/>
<circle cx="333.0" cy="98.8" r="1.75"/>
<circle cx="318.0" cy="73.1" r="1.75"/>
<circle cx="346.6" cy="73.9" r="1.75"/>
<circle cx="310.9" cy="83.8" r="1.75"/>
<circle cx="340.5" cy="67.1" r="1.75"/>
<circle cx="318.7" cy="78.7" r="1.75"/>
<circle cx="348.3" cy="83.9" r="1.75"/>
<circle cx="349.6" cy="70.5" r="1.75"/>
<circle cx="319.5" cy="94.5" r="1.75"/>
<circle cx="351.3" cy="84.6" r="1.75"/>
<circle cx="313.1" cy="68.0" r="1.75"/>
<circle cx="330.7" cy="71.5" r="1.75"/>
<circle cx="346.8" cy="103.9" r="1.75"/>
<circle cx="310.6" cy="75.9" r="1.75"/>
<circle cx="346.8" cy="94.1" r="1.75"/>
<circle cx="346.8" cy="79.3" r="1.75"/>
<circle cx="307.5" cy="76.6" r="1.75"/>
<circle cx="327.2" cy="78.1" r="1.75"/>
<circle cx="319.1" cy="92.7" r="1.75"/>
<circle cx="316.0" cy="89.5" r="1.75"/>
<circle cx="330.1" cy="82.5" r="1.75"/>
<circle cx="348.9" cy="85.6" r="1.75"/>
<circle cx="346.5" cy="66.9" r="1.75"/>
<circle cx="302.6" cy="93.8" r="1.75"/>
<circle cx="331.4" cy="82.2" r="1.75"/>
<circle cx="324.5" cy="67.9" r="1.75"/>
<circle cx="318.7" cy="75.7" r="1.75"/>
<circle cx="322.8" cy="93.0" r="1.75"/>
<circle cx="325.5" cy="88.3" r="1.75"/>
<circle cx="318.0" cy="81.1" r="1.75"/>
<circle cx="326.1" cy="82.5" r="1.75"/>
<circle cx="337.6" cy="77.1" r="1.75"/>
<circle cx="343.9" cy="76.2" r="1.75"/>
<circle cx="335.6" cy="78.0" r="1.75"/>
<circle cx="341.5" cy="86.2" r="1.75"/>
<circle cx="329.0" cy="91.7" r="1.75"/>
<circle cx="318.7" cy="75.6" r="1.75"/>
<circle cx="304.7" cy="96.0" r="1.75"/>
<circle cx="318.0" cy="79.7" r="1.75"/>
<circle cx="324.7" cy="102.9" r="1.75"/>
<circle cx="307.7" cy="87.2" r="1.75"/>
<circle cx="321.0" cy="89.8" r="1.75"/>
<circle cx="307.0" cy="81.4" r="1.75"/>
<circle cx="333.4" cy="99.0" r="1.75"/>
<circle cx="341.0" cy="77.3" r="1.75"/>
<circle cx="325.5" cy="84.0" r="1.75"/>
<circle cx="311.2" cy="72.0" r="1.75"/>
<circle cx="332.6" cy="87.2" r="1.75"/>
<circle cx="323.6" cy="95.9" r="1.75"/>
<circle cx="315.0" cy="89.7" r="1.75"/>
<circle cx="325.1" cy="84.5" r="1.75"/>
<circle cx="329.9" cy="86.6" r="1.75"/>
<circle cx="327.7" cy="87.4" r="1.75"/>
<circle cx="344.4" cy="82.2" r="1.75"/>
<circle cx="335.1" cy="90.5" r="1.75"/>
<circle cx="321.5" cy="92.2" r="1.75"/>
<circle cx="316.4" cy="95.4" r="1.75"/>
<circle cx="316.9" cy="80.6" r="1.75"/>
<circle cx="328.2" cy="92.5" r="1.75"/>
<circle cx="334.1" cy="93.0" r="1.75"/>
<circle cx="322.9" cy="76.4" r="1.75"/>
<circle cx="330.5" cy="87.7" r="1.75"/>
<circle cx="315.5" cy="93.8" r="1.75"/>
<circle cx="327.0" cy="76.4" r="1.75"/>
<circle cx="329.4" cy="73.1" r="1.75"/>
<circle cx="316.2" cy="88.6" r="1.75"/>
<circle cx="309.4" cy="85.3" r="1.75"/>
<circle cx="311.5" cy="91.6" r="1.75"/>
<circle cx="317.7" cy="86.6" r="1.75"/>
<circle cx="310.0" cy="81.9" r="1.75"/>
<circle cx="334.5" cy="89.1" r="1.75"/>
<circle cx="306.6" cy="93.3" r="1.75"/>
<circle cx="333.9" cy="81.6" r="1.75"/>
<circle cx="335.7" cy="111.1" r="1.75"/>
<circle cx="309.0" cy="106.5" r="1.75"/>
<circle cx="303.2" cy="111.4" r="1.75"/>
<circle cx="325.8" cy="112.4" r="1.75"/>
<circle cx="331.3" cy="109.3" r="1.75"/>
<circle cx="328.8" cy="107.9" r="1.75"/>
<circle cx="302.3" cy="108.2" r="1.75"/>
<circle cx="298.2" cy="102.0" r="1.75"/>
<circle cx="330.5" cy="100.6" r="1.75"/>
<circle cx="301.9" cy="101.4" r="1.75"/>
<circle cx="335.0" cy="102.5" r="1.75"/>
<circle cx="299.0" cy="111.8" r="1.75"/>
<circle cx="303.1" cy="111.8" r="1.75"/>
<circle cx="326.3" cy="111.7" r="1.75"/>
<circle cx="338.0" cy="108.1" r="1.75"/>
<circle cx="331.5" cy="100.5" r="1.75"/>
<circle cx="339.8" cy="152.5" r="1.75"/>
<circle cx="337.5" cy="133.1" r="1.75"/>
<circle cx="339.0" cy="172.9" r="1.75"/>
<circle cx="308.7" cy="143.6" r="1.75"/>
<circle cx="330.8" cy="167.7" r="1.75"/>
<circle cx="316.7" cy="136.6" r="1.75"/>
<circle cx="317.0" cy="157.6" r="1.75"/>
<circle cx="339.2" cy="146.9" r="1.75"/>
<circle cx="322.2" cy="147.0" r="1.75"/>
<circle cx="321.4" cy="148.1" r="1.75"/>
<circle cx="309.7" cy="152.0" r="1.75"/>
<circle cx="348.8" cy="147.8" r="1.75"/>
<circle cx="338.9" cy="135.7" r="1.75"/>
<circle cx="336.4" cy="164.3" r="1.75"/>
<circle cx="335.6" cy="152.8" r="1.75"/>
<circle cx="327.3" cy="158.9" r="1.75"/>
<circle cx="345.5" cy="135.2" r="1.75"/>
<circle cx="310.2" cy="163.9" r="1.75"/>
<circle cx="346.3" cy="152.8" r="1.75"/>
<circle cx="325.5" cy="162.5" r="1.75"/>
<circle cx="314.2" cy="140.8" r="1.75"/>
<circle cx="314.8" cy="156.1" r="1.75"/>
<circle cx="319.9" cy="139.2" r="1.75"/>
<circle cx="336.4" cy="173.8" r="1.75"/>
<circle cx="319.0" cy="161.9" r="1.75"/>
<circle cx="324.2" cy="169.0" r="1.75"/>
<circle cx="331.7" cy="140.8" r="1.75"/>
<circle cx="315.6" cy="129.1" r="1.75"/>
<circle cx="327.1" cy="146.4" r="1.75"/>
<circle cx="313.6" cy="145.3" r="1.75"/>
<circle cx="320.2" cy="165.2" r="1.75"/>
<circle cx="312.3" cy="175.6" r="1.75"/>
<circle cx="327.1" cy="156.8" r="1.75"/>
<circle cx="326.6" cy="168.1" r="1.75"/>
<circle cx="342.2" cy="154.7" r="1.75"/>
<circle cx="327.2" cy="162.6" r="1.75"/>
<circle cx="326.4" cy="142.9" r="1.75"/>
<circle cx="320.2" cy="127.3" r="1.75"/>
<circle cx="317.0" cy="151.3" r="1.75"/>
<circle cx="323.1" cy="164.2" r="1.75"/>
<circle cx="314.0" cy="129.7" r="1.75"/>
<circle cx="325.2" cy="144.7" r="1.75"/>
<circle cx="324.0" cy="156.5" r="1.75"/>
<circle cx="326.2" cy="163.0" r="1.75"/>
<circle cx="331.5" cy="135.0" r="1.75"/>
<circle cx="321.6" cy="168.0" r="1.75"/>
<circle cx="319.2" cy="158.7" r="1.75"/>
<circle cx="321.6" cy="146.2" r="1.75"/>
<circle cx="333.1" cy="159.4" r="1.75"/>
<circle cx="320.3" cy="158.2" r="1.75"/>
<circle cx="312.8" cy="143.5" r="1.75"/>
<circle cx="328.3" cy="150.4" r="1.75"/>
<circle cx="314.6" cy="154.0" r="1.75"/>
<circle cx="324.3" cy="161.6" r="1.75"/>
<circle cx="328.7" cy="147.5" r="1.75"/>
<circle cx="318.6" cy="148.8" r="1.75"/>
<circle cx="340.6" cy="156.3" r="1.75"/>
<circle cx="338.5" cy="167.4" r="1.75"/>
<circle cx="348.8" cy="127.8" r="1.75"/>
<circle cx="349.2" cy="141.7" r="1.75"/>
<circle cx="347.0" cy="160.9" r="1.75"/>
<circle cx="340.8" cy="156.8" r="1.75"/>
<circle cx="345.5" cy="163.3" r="1.75"/>
<circle cx="340.5" cy="160.7" r="1.75"/>
<circle cx="349.5" cy="156.6" r="1.75"/>
<circle cx="344.0" cy="128.7" r="1.75"/>
<circle cx="343.4" cy="140.6" r="1.75"/>
<circle cx="346.3" cy="156.9" r="1.75"/>
<circle cx="391.7" cy="68.7" r="1.75"/>
<circle cx="398.5" cy="77.8" r="1.75"/>
<circle cx="412.2" cy="93.7" r="1.75"/>
<circle cx="369.0" cy="86.9" r="1.75"/>
<circle cx="374.7" cy="89.2" r="1.75"/>
<circle cx="378.1" cy="99.4" r="1.75"/>
<circle cx="359.9" cy="116.5" r="1.75"/>
<circle cx="373.5" cy="117.6" r="1.75"/>
<circle cx="384.9" cy="132.4" r="1.75"/>
<circle cx="369.0" cy="140.3" r="1.75"/>
<circle cx="348.5" cy="124.4" r="1.75"/>
<circle cx="355.4" cy="122.1" r="1.75"/>
<circle cx="359.9" cy="91.5" r="1.75"/>
<circle cx="350.8" cy="109.6" r="1.75"/>
<circle cx="366.7" cy="107.4" r="1.75"/>
<circle cx="344.0" cy="108.5" r="1.75"/>
<circle cx="340.6" cy="114.2" r="1.75"/>
<path d="M298.5,102.8 C300.4,103.0 306.2,103.4 310.0,103.8 C313.8,104.2 317.7,104.7 321.0,105.0 C324.3,105.3 326.9,105.8 330.0,105.5 C333.1,105.2 334.2,104.3 339.5,103.0 C344.8,101.7 353.6,99.2 362.0,97.5 C370.4,95.8 381.6,94.1 390.0,92.5 C398.4,90.9 408.9,88.8 412.7,88.0" fill="none" stroke="#3366ff" stroke-width="1.6" stroke-linecap="round"/>
<rect x="294.0" y="46.1" width="124.19999999999999" height="137.4" fill="none" stroke="#a8a8a8" stroke-width="1"/>
<text transform="translate(416.7 55.5) scale(0.87 1)" font-size="9" fill="#ff3d33" text-anchor="end">partial.cor = 0.115</text>
<text transform="translate(413.3 63.7) scale(0.87 1)" font-size="9" fill="#ff3d33" text-anchor="end" xml:space="preserve">p =  <tspan font-weight="bold" font-size="7.8" letter-spacing="1.2" fill="#f8203a" stroke="#f8203a" stroke-width="0.3">0.0512</tspan></text>
<text transform="translate(298.7 193.7) scale(0.8 1)" font-size="7.6" fill="#7a7a7a" text-anchor="middle">0.0</text>
<line x1="298.7" y1="183.5" x2="298.7" y2="185.1" stroke="#999" stroke-width="0.8"/>
<text transform="translate(338.4 193.7) scale(0.8 1)" font-size="7.6" fill="#7a7a7a" text-anchor="middle">0.2</text>
<line x1="338.4" y1="183.5" x2="338.4" y2="185.1" stroke="#999" stroke-width="0.8"/>
<text transform="translate(375.8 193.7) scale(0.8 1)" font-size="7.6" fill="#7a7a7a" text-anchor="middle">0.4</text>
<line x1="375.8" y1="183.5" x2="375.8" y2="185.1" stroke="#999" stroke-width="0.8"/>
<text transform="translate(413.2 193.7) scale(0.8 1)" font-size="7.6" fill="#7a7a7a" text-anchor="middle">0.6</text>
<line x1="413.2" y1="183.5" x2="413.2" y2="185.1" stroke="#999" stroke-width="0.8"/>
<rect x="422.2" y="31.4" width="123.40000000000003" height="14.700000000000003" fill="#d9d9d9" stroke="#a6a6a6" stroke-width="1.1"/>
<text x="460.2" y="41.8" font-size="8.2" fill="#222" textLength="41.1" lengthAdjust="spacingAndGlyphs">CD4+ T Cell</text>
<rect x="422.2" y="46.1" width="123.40000000000003" height="137.4" fill="#fff"/>
<line x1="440.4" y1="46.1" x2="440.4" y2="183.5" stroke="#f3f3f3" stroke-width="0.6"/>
<line x1="465.1" y1="46.1" x2="465.1" y2="183.5" stroke="#f3f3f3" stroke-width="0.6"/>
<line x1="489.8" y1="46.1" x2="489.8" y2="183.5" stroke="#f3f3f3" stroke-width="0.6"/>
<line x1="514.5" y1="46.1" x2="514.5" y2="183.5" stroke="#f3f3f3" stroke-width="0.6"/>
<line x1="539.2" y1="46.1" x2="539.2" y2="183.5" stroke="#f3f3f3" stroke-width="0.6"/>
<line x1="422.2" y1="58.1" x2="545.6" y2="58.1" stroke="#f3f3f3" stroke-width="0.6"/>
<line x1="422.2" y1="79.8" x2="545.6" y2="79.8" stroke="#f3f3f3" stroke-width="0.6"/>
<line x1="422.2" y1="101.4" x2="545.6" y2="101.4" stroke="#f3f3f3" stroke-width="0.6"/>
<line x1="422.2" y1="123.1" x2="545.6" y2="123.1" stroke="#f3f3f3" stroke-width="0.6"/>
<line x1="422.2" y1="144.7" x2="545.6" y2="144.7" stroke="#f3f3f3" stroke-width="0.6"/>
<line x1="422.2" y1="166.4" x2="545.6" y2="166.4" stroke="#f3f3f3" stroke-width="0.6"/>
<line x1="428.1" y1="46.1" x2="428.1" y2="183.5" stroke="#e6e6e6" stroke-width="0.9"/>
<line x1="452.8" y1="46.1" x2="452.8" y2="183.5" stroke="#e6e6e6" stroke-width="0.9"/>
<line x1="477.5" y1="46.1" x2="477.5" y2="183.5" stroke="#e6e6e6" stroke-width="0.9"/>
<line x1="501.8" y1="46.1" x2="501.8" y2="183.5" stroke="#e6e6e6" stroke-width="0.9"/>
<line x1="526.5" y1="46.1" x2="526.5" y2="183.5" stroke="#e6e6e6" stroke-width="0.9"/>
<line x1="422.2" y1="58.1" x2="545.6" y2="58.1" stroke="#e6e6e6" stroke-width="0.9"/>
<line x1="422.2" y1="101.4" x2="545.6" y2="101.4" stroke="#e6e6e6" stroke-width="0.9"/>
<line x1="422.2" y1="144.7" x2="545.6" y2="144.7" stroke="#e6e6e6" stroke-width="0.9"/>
<path d="M427.7,81.2 C430.2,84.5 437.9,98.7 442.5,101.0 C447.1,103.3 450.3,94.4 455.0,94.9 C459.7,95.4 465.0,103.2 470.9,104.0 C476.8,104.8 483.2,102.2 490.2,99.4 C497.2,96.6 504.6,92.2 512.9,86.9 C521.2,81.6 535.7,70.8 540.2,67.6 L540.2,106.2 C535.7,106.4 521.2,106.6 512.9,107.4 C504.6,108.2 497.2,109.7 490.2,110.8 C483.2,111.9 476.8,115.5 470.9,114.2 C465.0,112.9 459.7,103.2 455.0,102.8 C450.3,102.4 447.1,107.4 442.5,111.9 C437.9,116.5 430.2,127.1 427.7,130.1 Z" fill="#bdbdbd" fill-opacity="0.6"/>
<circle cx="447.6" cy="65.6" r="1.75"/>
<circle cx="458.1" cy="68.4" r="1.75"/>
<circle cx="436.4" cy="81.7" r="1.75"/>
<circle cx="492.6" cy="103.2" r="1.75"/>
<circle cx="482.5" cy="72.0" r="1.75"/>
<circle cx="467.4" cy="74.9" r="1.75"/>
<circle cx="443.4" cy="65.7" r="1.75"/>
<circle cx="446.2" cy="110.1" r="1.75"/>
<circle cx="486.7" cy="103.6" r="1.75"/>
<circle cx="484.8" cy="70.4" r="1.75"/>
<circle cx="452.5" cy="93.9" r="1.75"/>
<circle cx="480.3" cy="106.2" r="1.75"/>
<circle cx="490.1" cy="64.7" r="1.75"/>
<circle cx="472.0" cy="96.3" r="1.75"/>
<circle cx="465.4" cy="69.6" r="1.75"/>
<circle cx="463.3" cy="64.8" r="1.75"/>
<circle cx="493.7" cy="106.7" r="1.75"/>
<circle cx="468.1" cy="76.2" r="1.75"/>
<circle cx="492.0" cy="90.9" r="1.75"/>
<circle cx="490.2" cy="105.8" r="1.75"/>
<circle cx="465.6" cy="82.4" r="1.75"/>
<circle cx="471.5" cy="83.3" r="1.75"/>
<circle cx="442.6" cy="76.5" r="1.75"/>
<circle cx="485.6" cy="62.3" r="1.75"/>
<circle cx="435.1" cy="93.8" r="1.75"/>
<circle cx="450.5" cy="88.9" r="1.75"/>
<circle cx="463.1" cy="78.5" r="1.75"/>
<circle cx="497.8" cy="70.6" r="1.75"/>
<circle cx="459.2" cy="70.9" r="1.75"/>
<circle cx="473.8" cy="74.9" r="1.75"/>
<circle cx="455.5" cy="100.3" r="1.75"/>
<circle cx="453.2" cy="90.2" r="1.75"/>
<circle cx="491.7" cy="65.5" r="1.75"/>
<circle cx="436.1" cy="72.4" r="1.75"/>
<circle cx="482.5" cy="93.2" r="1.75"/>
<circle cx="447.7" cy="77.9" r="1.75"/>
<circle cx="443.7" cy="84.8" r="1.75"/>
<circle cx="434.8" cy="97.7" r="1.75"/>
<circle cx="491.1" cy="111.6" r="1.75"/>
<circle cx="480.5" cy="111.8" r="1.75"/>
<circle cx="433.2" cy="75.6" r="1.75"/>
<circle cx="495.8" cy="101.9" r="1.75"/>
<circle cx="459.1" cy="110.9" r="1.75"/>
<circle cx="473.0" cy="104.2" r="1.75"/>
<circle cx="451.4" cy="70.3" r="1.75"/>
<circle cx="461.3" cy="67.4" r="1.75"/>
<circle cx="457.2" cy="111.9" r="1.75"/>
<circle cx="453.9" cy="60.5" r="1.75"/>
<circle cx="435.0" cy="69.2" r="1.75"/>
<circle cx="483.7" cy="79.6" r="1.75"/>
<circle cx="451.2" cy="65.2" r="1.75"/>
<circle cx="496.8" cy="82.9" r="1.75"/>
<circle cx="445.7" cy="63.2" r="1.75"/>
<circle cx="435.6" cy="69.1" r="1.75"/>
<circle cx="476.7" cy="68.1" r="1.75"/>
<circle cx="434.7" cy="86.5" r="1.75"/>
<circle cx="448.4" cy="113.9" r="1.75"/>
<circle cx="440.1" cy="88.6" r="1.75"/>
<circle cx="483.1" cy="82.1" r="1.75"/>
<circle cx="497.2" cy="85.8" r="1.75"/>
<circle cx="448.0" cy="82.2" r="1.75"/>
<circle cx="434.4" cy="82.7" r="1.75"/>
<circle cx="448.4" cy="108.0" r="1.75"/>
<circle cx="486.8" cy="86.9" r="1.75"/>
<circle cx="467.5" cy="86.2" r="1.75"/>
<circle cx="460.3" cy="90.5" r="1.75"/>
<circle cx="462.3" cy="101.0" r="1.75"/>
<circle cx="462.0" cy="87.0" r="1.75"/>
<circle cx="471.6" cy="80.5" r="1.75"/>
<circle cx="470.1" cy="84.5" r="1.75"/>
<circle cx="471.8" cy="78.2" r="1.75"/>
<circle cx="464.2" cy="72.2" r="1.75"/>
<circle cx="455.6" cy="85.1" r="1.75"/>
<circle cx="464.9" cy="100.8" r="1.75"/>
<circle cx="478.4" cy="74.3" r="1.75"/>
<circle cx="452.4" cy="95.0" r="1.75"/>
<circle cx="464.4" cy="74.1" r="1.75"/>
<circle cx="464.9" cy="76.0" r="1.75"/>
<circle cx="451.4" cy="74.9" r="1.75"/>
<circle cx="457.4" cy="103.0" r="1.75"/>
<circle cx="463.8" cy="84.1" r="1.75"/>
<circle cx="485.1" cy="81.3" r="1.75"/>
<circle cx="458.5" cy="82.9" r="1.75"/>
<circle cx="464.2" cy="82.5" r="1.75"/>
<circle cx="474.5" cy="82.7" r="1.75"/>
<circle cx="465.6" cy="86.8" r="1.75"/>
<circle cx="451.4" cy="77.2" r="1.75"/>
<circle cx="459.5" cy="66.7" r="1.75"/>
<circle cx="460.2" cy="85.6" r="1.75"/>
<circle cx="461.4" cy="84.4" r="1.75"/>
<circle cx="463.5" cy="82.2" r="1.75"/>
<circle cx="466.4" cy="72.0" r="1.75"/>
<circle cx="469.1" cy="78.0" r="1.75"/>
<circle cx="464.9" cy="81.3" r="1.75"/>
<circle cx="455.8" cy="78.7" r="1.75"/>
<circle cx="473.4" cy="76.3" r="1.75"/>
<circle cx="448.0" cy="86.7" r="1.75"/>
<circle cx="462.6" cy="85.3" r="1.75"/>
<circle cx="450.4" cy="79.8" r="1.75"/>
<circle cx="469.0" cy="76.8" r="1.75"/>
<circle cx="466.1" cy="90.8" r="1.75"/>
<circle cx="461.3" cy="75.3" r="1.75"/>
<circle cx="479.0" cy="86.0" r="1.75"/>
<circle cx="462.0" cy="82.0" r="1.75"/>
<circle cx="450.6" cy="82.9" r="1.75"/>
<circle cx="462.0" cy="78.3" r="1.75"/>
<circle cx="461.2" cy="94.2" r="1.75"/>
<circle cx="464.4" cy="84.2" r="1.75"/>
<circle cx="470.5" cy="92.3" r="1.75"/>
<circle cx="469.0" cy="78.7" r="1.75"/>
<circle cx="441.9" cy="91.4" r="1.75"/>
<circle cx="460.6" cy="82.1" r="1.75"/>
<circle cx="464.9" cy="81.4" r="1.75"/>
<circle cx="453.9" cy="99.4" r="1.75"/>
<circle cx="444.2" cy="91.7" r="1.75"/>
<circle cx="470.1" cy="99.1" r="1.75"/>
<circle cx="462.5" cy="89.1" r="1.75"/>
<circle cx="450.9" cy="85.3" r="1.75"/>
<circle cx="439.1" cy="80.5" r="1.75"/>
<circle cx="459.7" cy="84.2" r="1.75"/>
<circle cx="455.2" cy="94.3" r="1.75"/>
<circle cx="444.2" cy="86.1" r="1.75"/>
<circle cx="456.1" cy="85.3" r="1.75"/>
<circle cx="460.6" cy="100.5" r="1.75"/>
<circle cx="449.4" cy="95.7" r="1.75"/>
<circle cx="474.0" cy="84.0" r="1.75"/>
<circle cx="453.9" cy="75.2" r="1.75"/>
<circle cx="451.4" cy="101.3" r="1.75"/>
<circle cx="438.5" cy="88.6" r="1.75"/>
<circle cx="453.1" cy="100.1" r="1.75"/>
<circle cx="463.2" cy="74.3" r="1.75"/>
<circle cx="454.9" cy="86.6" r="1.75"/>
<circle cx="461.3" cy="77.5" r="1.75"/>
<circle cx="457.2" cy="81.4" r="1.75"/>
<circle cx="464.8" cy="87.2" r="1.75"/>
<circle cx="462.3" cy="80.3" r="1.75"/>
<circle cx="467.9" cy="80.5" r="1.75"/>
<circle cx="451.7" cy="81.6" r="1.75"/>
<circle cx="456.8" cy="82.6" r="1.75"/>
<circle cx="440.8" cy="95.8" r="1.75"/>
<circle cx="466.2" cy="95.5" r="1.75"/>
<circle cx="456.1" cy="91.0" r="1.75"/>
<circle cx="462.0" cy="85.2" r="1.75"/>
<circle cx="477.9" cy="80.3" r="1.75"/>
<circle cx="465.7" cy="71.2" r="1.75"/>
<circle cx="465.6" cy="83.6" r="1.75"/>
<circle cx="449.9" cy="80.3" r="1.75"/>
<circle cx="438.9" cy="76.6" r="1.75"/>
<circle cx="461.7" cy="64.0" r="1.75"/>
<circle cx="470.8" cy="92.8" r="1.75"/>
<circle cx="452.5" cy="73.2" r="1.75"/>
<circle cx="446.1" cy="74.8" r="1.75"/>
<circle cx="449.9" cy="173.7" r="1.75"/>
<circle cx="454.7" cy="153.9" r="1.75"/>
<circle cx="477.3" cy="160.2" r="1.75"/>
<circle cx="450.2" cy="131.8" r="1.75"/>
<circle cx="451.0" cy="155.6" r="1.75"/>
<circle cx="481.8" cy="171.9" r="1.75"/>
<circle cx="454.4" cy="142.0" r="1.75"/>
<circle cx="473.6" cy="135.0" r="1.75"/>
<circle cx="454.9" cy="118.8" r="1.75"/>
<circle cx="444.5" cy="150.4" r="1.75"/>
<circle cx="467.9" cy="154.9" r="1.75"/>
<circle cx="452.8" cy="175.1" r="1.75"/>
<circle cx="464.7" cy="127.4" r="1.75"/>
<circle cx="439.1" cy="176.4" r="1.75"/>
<circle cx="481.4" cy="173.2" r="1.75"/>
<circle cx="463.8" cy="136.7" r="1.75"/>
<circle cx="440.2" cy="133.5" r="1.75"/>
<circle cx="446.2" cy="173.7" r="1.75"/>
<circle cx="477.1" cy="164.7" r="1.75"/>
<circle cx="442.8" cy="132.3" r="1.75"/>
<circle cx="449.8" cy="174.9" r="1.75"/>
<circle cx="443.5" cy="165.4" r="1.75"/>
<circle cx="467.3" cy="150.8" r="1.75"/>
<circle cx="480.1" cy="133.7" r="1.75"/>
<circle cx="460.1" cy="127.5" r="1.75"/>
<circle cx="440.5" cy="119.9" r="1.75"/>
<circle cx="450.6" cy="125.3" r="1.75"/>
<circle cx="438.8" cy="177.6" r="1.75"/>
<circle cx="449.3" cy="171.4" r="1.75"/>
<circle cx="468.3" cy="161.9" r="1.75"/>
<circle cx="466.1" cy="175.2" r="1.75"/>
<circle cx="476.4" cy="161.2" r="1.75"/>
<circle cx="461.8" cy="159.6" r="1.75"/>
<circle cx="469.3" cy="151.1" r="1.75"/>
<circle cx="459.1" cy="127.3" r="1.75"/>
<circle cx="474.8" cy="147.1" r="1.75"/>
<circle cx="439.1" cy="128.1" r="1.75"/>
<circle cx="476.2" cy="133.4" r="1.75"/>
<circle cx="454.0" cy="158.9" r="1.75"/>
<circle cx="475.6" cy="137.7" r="1.75"/>
<circle cx="453.8" cy="143.4" r="1.75"/>
<circle cx="437.3" cy="170.6" r="1.75"/>
<circle cx="436.9" cy="175.6" r="1.75"/>
<circle cx="443.0" cy="127.4" r="1.75"/>
<circle cx="462.6" cy="134.8" r="1.75"/>
<circle cx="456.0" cy="162.6" r="1.75"/>
<circle cx="444.0" cy="152.3" r="1.75"/>
<circle cx="460.2" cy="167.2" r="1.75"/>
<circle cx="466.0" cy="149.6" r="1.75"/>
<circle cx="469.5" cy="138.8" r="1.75"/>
<circle cx="445.1" cy="163.3" r="1.75"/>
<circle cx="459.7" cy="138.5" r="1.75"/>
<circle cx="462.6" cy="158.7" r="1.75"/>
<circle cx="460.1" cy="145.5" r="1.75"/>
<circle cx="446.0" cy="133.0" r="1.75"/>
<circle cx="453.4" cy="148.4" r="1.75"/>
<circle cx="451.4" cy="144.3" r="1.75"/>
<circle cx="461.5" cy="138.5" r="1.75"/>
<circle cx="449.7" cy="169.9" r="1.75"/>
<circle cx="450.5" cy="143.6" r="1.75"/>
<circle cx="462.4" cy="131.8" r="1.75"/>
<circle cx="466.4" cy="137.1" r="1.75"/>
<circle cx="449.1" cy="137.0" r="1.75"/>
<circle cx="448.2" cy="142.5" r="1.75"/>
<circle cx="540.2" cy="68.7" r="1.75"/>
<circle cx="535.6" cy="90.3" r="1.75"/>
<circle cx="528.8" cy="86.9" r="1.75"/>
<circle cx="514.0" cy="101.7" r="1.75"/>
<circle cx="501.5" cy="91.5" r="1.75"/>
<circle cx="506.1" cy="117.6" r="1.75"/>
<circle cx="517.5" cy="125.5" r="1.75"/>
<circle cx="516.3" cy="132.4" r="1.75"/>
<circle cx="490.2" cy="134.6" r="1.75"/>
<circle cx="494.7" cy="123.3" r="1.75"/>
<circle cx="495.9" cy="114.2" r="1.75"/>
<circle cx="497.0" cy="69.9" r="1.75"/>
<circle cx="493.6" cy="80.1" r="1.75"/>
<circle cx="491.3" cy="94.9" r="1.75"/>
<circle cx="487.9" cy="100.5" r="1.75"/>
<circle cx="481.1" cy="111.9" r="1.75"/>
<circle cx="492.5" cy="107.4" r="1.75"/>
<circle cx="483.4" cy="69.9" r="1.75"/>
<circle cx="482.2" cy="86.9" r="1.75"/>
<circle cx="490.2" cy="143.7" r="1.75"/>
<circle cx="476.5" cy="136.9" r="1.75"/>
<circle cx="478.8" cy="150.5" r="1.75"/>
<path d="M427.7,106.2 C429.1,106.4 433.5,107.5 436.0,107.5 C438.5,107.5 440.3,107.4 442.5,106.5 C444.7,105.6 446.9,103.3 449.0,102.0 C451.1,100.7 452.8,98.5 455.0,98.7 C457.2,99.0 459.4,101.7 462.0,103.5 C464.6,105.3 467.9,109.0 470.9,109.6 C473.9,110.2 476.8,107.9 480.0,107.0 C483.2,106.1 484.7,106.0 490.2,104.0 C495.7,102.0 504.6,98.1 512.9,94.9 C521.2,91.7 535.7,86.7 540.2,85.0" fill="none" stroke="#3366ff" stroke-width="1.6" stroke-linecap="round"/>
<rect x="422.2" y="46.1" width="123.40000000000003" height="137.4" fill="none" stroke="#a8a8a8" stroke-width="1"/>
<text transform="translate(544.1 55.5) scale(0.87 1)" font-size="9" fill="#ff3d33" text-anchor="end">partial.cor = -0.043</text>
<text transform="translate(539.6 63.7) scale(0.87 1)" font-size="9" fill="#ff3d33" text-anchor="end" xml:space="preserve">p =  <tspan font-weight="bold" font-size="7.8" letter-spacing="1.2" fill="#f8203a" stroke="#f8203a" stroke-width="0.3">0.464</tspan></text>
<text transform="translate(428.1 193.7) scale(0.8 1)" font-size="7.6" fill="#7a7a7a" text-anchor="middle">0.0</text>
<line x1="428.1" y1="183.5" x2="428.1" y2="185.1" stroke="#999" stroke-width="0.8"/>
<text transform="translate(452.8 193.7) scale(0.8 1)" font-size="7.6" fill="#7a7a7a" text-anchor="middle">0.1</text>
<line x1="452.8" y1="183.5" x2="452.8" y2="185.1" stroke="#999" stroke-width="0.8"/>
<text transform="translate(477.5 193.7) scale(0.8 1)" font-size="7.6" fill="#7a7a7a" text-anchor="middle">0.2</text>
<line x1="477.5" y1="183.5" x2="477.5" y2="185.1" stroke="#999" stroke-width="0.8"/>
<text transform="translate(501.8 193.7) scale(0.8 1)" font-size="7.6" fill="#7a7a7a" text-anchor="middle">0.3</text>
<line x1="501.8" y1="183.5" x2="501.8" y2="185.1" stroke="#999" stroke-width="0.8"/>
<text transform="translate(526.5 193.7) scale(0.8 1)" font-size="7.6" fill="#7a7a7a" text-anchor="middle">0.4</text>
<line x1="526.5" y1="183.5" x2="526.5" y2="185.1" stroke="#999" stroke-width="0.8"/>
<rect x="24.8" y="46.1" width="12.400000000000002" height="137.4" fill="#d9d9d9" stroke="#a6a6a6" stroke-width="1.1"/>
<text x="33.6" y="114.8" font-size="7.6" fill="#444" text-anchor="middle" transform="rotate(-90 33.6 114.8)">UCEC</text>
<line x1="23.0" y1="58.1" x2="24.8" y2="58.1" stroke="#999" stroke-width="0.8"/>
<text x="19.2" y="60.5" font-size="6.6" fill="#7a7a7a" text-anchor="middle" transform="translate(19.2 0) scale(0.8 1) translate(-19.2 0)">6</text>
<line x1="23.0" y1="101.4" x2="24.8" y2="101.4" stroke="#999" stroke-width="0.8"/>
<text x="19.2" y="103.8" font-size="6.6" fill="#7a7a7a" text-anchor="middle" transform="translate(19.2 0) scale(0.8 1) translate(-19.2 0)">4</text>
<line x1="23.0" y1="144.7" x2="24.8" y2="144.7" stroke="#999" stroke-width="0.8"/>
<text x="19.2" y="147.1" font-size="6.6" fill="#7a7a7a" text-anchor="middle" transform="translate(19.2 0) scale(0.8 1) translate(-19.2 0)">2</text>
<rect x="35.2" y="201.2" width="124.49999999999999" height="14.5" fill="#d9d9d9" stroke="#a6a6a6" stroke-width="1.1"/>
<text x="88.0" y="211.4" font-size="8.2" fill="#222" textLength="19.0" lengthAdjust="spacingAndGlyphs">Purity</text>
<rect x="35.2" y="215.7" width="124.49999999999999" height="136.3" fill="#fff"/>
<line x1="50.3" y1="215.7" x2="50.3" y2="352.0" stroke="#f3f3f3" stroke-width="0.6"/>
<line x1="80.5" y1="215.7" x2="80.5" y2="352.0" stroke="#f3f3f3" stroke-width="0.6"/>
<line x1="110.7" y1="215.7" x2="110.7" y2="352.0" stroke="#f3f3f3" stroke-width="0.6"/>
<line x1="140.9" y1="215.7" x2="140.9" y2="352.0" stroke="#f3f3f3" stroke-width="0.6"/>
<line x1="35.2" y1="231.2" x2="159.7" y2="231.2" stroke="#f3f3f3" stroke-width="0.6"/>
<line x1="35.2" y1="250.5" x2="159.7" y2="250.5" stroke="#f3f3f3" stroke-width="0.6"/>
<line x1="35.2" y1="269.8" x2="159.7" y2="269.8" stroke="#f3f3f3" stroke-width="0.6"/>
<line x1="35.2" y1="289.1" x2="159.7" y2="289.1" stroke="#f3f3f3" stroke-width="0.6"/>
<line x1="35.2" y1="308.4" x2="159.7" y2="308.4" stroke="#f3f3f3" stroke-width="0.6"/>
<line x1="35.2" y1="327.7" x2="159.7" y2="327.7" stroke="#f3f3f3" stroke-width="0.6"/>
<line x1="35.2" y1="347.0" x2="159.7" y2="347.0" stroke="#f3f3f3" stroke-width="0.6"/>
<line x1="65.4" y1="215.7" x2="65.4" y2="352.0" stroke="#e6e6e6" stroke-width="0.9"/>
<line x1="95.5" y1="215.7" x2="95.5" y2="352.0" stroke="#e6e6e6" stroke-width="0.9"/>
<line x1="124.3" y1="215.7" x2="124.3" y2="352.0" stroke="#e6e6e6" stroke-width="0.9"/>
<line x1="153.8" y1="215.7" x2="153.8" y2="352.0" stroke="#e6e6e6" stroke-width="0.9"/>
<line x1="35.2" y1="231.2" x2="159.7" y2="231.2" stroke="#e6e6e6" stroke-width="0.9"/>
<line x1="35.2" y1="269.8" x2="159.7" y2="269.8" stroke="#e6e6e6" stroke-width="0.9"/>
<line x1="35.2" y1="308.8" x2="159.7" y2="308.8" stroke="#e6e6e6" stroke-width="0.9"/>
<line x1="35.2" y1="348.0" x2="159.7" y2="348.0" stroke="#e6e6e6" stroke-width="0.9"/>
<path d="M41.5,263.5 C47.6,264.4 65.8,269.0 78.0,269.0 C90.2,269.0 105.3,264.2 114.5,263.5 C123.7,262.8 126.6,263.5 133.0,264.5 C139.4,265.5 149.7,268.7 153.0,269.5 L153.0,281.0 C149.7,280.0 139.4,276.6 133.0,275.0 C126.6,273.4 123.7,270.8 114.5,271.5 C105.3,272.2 90.2,275.8 78.0,279.0 C65.8,282.2 47.6,288.6 41.5,290.5 Z" fill="#bdbdbd" fill-opacity="0.6"/>
<circle cx="47.3" cy="239.7" r="1.75"/>
<circle cx="45.6" cy="247.7" r="1.75"/>
<circle cx="42.4" cy="250.8" r="1.75"/>
<circle cx="41.3" cy="256.2" r="1.75"/>
<circle cx="47.3" cy="258.1" r="1.75"/>
<circle cx="51.3" cy="254.6" r="1.75"/>
<circle cx="53.0" cy="254.6" r="1.75"/>
<circle cx="55.3" cy="251.5" r="1.75"/>
<circle cx="58.2" cy="254.1" r="1.75"/>
<circle cx="59.3" cy="248.1" r="1.75"/>
<circle cx="62.7" cy="255.6" r="1.75"/>
<circle cx="50.7" cy="264.9" r="1.75"/>
<circle cx="49.6" cy="267.7" r="1.75"/>
<circle cx="58.2" cy="263.4" r="1.75"/>
<circle cx="63.9" cy="262.1" r="1.75"/>
<circle cx="59.3" cy="270.2" r="1.75"/>
<circle cx="74.7" cy="248.1" r="1.75"/>
<circle cx="81.5" cy="249.0" r="1.75"/>
<circle cx="78.1" cy="254.9" r="1.75"/>
<circle cx="85.2" cy="252.2" r="1.75"/>
<circle cx="88.7" cy="250.8" r="1.75"/>
<circle cx="86.6" cy="255.6" r="1.75"/>
<circle cx="90.0" cy="256.2" r="1.75"/>
<circle cx="92.3" cy="238.8" r="1.75"/>
<circle cx="94.6" cy="253.1" r="1.75"/>
<circle cx="79.2" cy="267.0" r="1.75"/>
<circle cx="87.7" cy="267.0" r="1.75"/>
<circle cx="91.2" cy="266.5" r="1.75"/>
<circle cx="93.5" cy="266.0" r="1.75"/>
<circle cx="78.1" cy="275.8" r="1.75"/>
<circle cx="91.2" cy="275.3" r="1.75"/>
<circle cx="96.3" cy="272.7" r="1.75"/>
<circle cx="88.4" cy="284.9" r="1.75"/>
<circle cx="84.0" cy="290.0" r="1.75"/>
<circle cx="53.4" cy="293.1" r="1.75"/>
<circle cx="68.1" cy="294.1" r="1.75"/>
<circle cx="58.0" cy="299.3" r="1.75"/>
<circle cx="87.3" cy="297.6" r="1.75"/>
<circle cx="53.4" cy="304.3" r="1.75"/>
<circle cx="55.0" cy="305.8" r="1.75"/>
<circle cx="85.0" cy="302.7" r="1.75"/>
<circle cx="87.8" cy="304.3" r="1.75"/>
<circle cx="49.6" cy="310.1" r="1.75"/>
<circle cx="39.9" cy="313.0" r="1.75"/>
<circle cx="58.0" cy="318.3" r="1.75"/>
<circle cx="51.8" cy="321.2" r="1.75"/>
<circle cx="47.3" cy="330.0" r="1.75"/>
<circle cx="53.4" cy="329.0" r="1.75"/>
<circle cx="77.2" cy="319.8" r="1.75"/>
<circle cx="80.6" cy="317.7" r="1.75"/>
<circle cx="90.7" cy="315.6" r="1.75"/>
<circle cx="98.7" cy="314.3" r="1.75"/>
<circle cx="105.4" cy="306.4" r="1.75"/>
<circle cx="107.7" cy="309.5" r="1.75"/>
<circle cx="113.3" cy="314.3" r="1.75"/>
<circle cx="111.1" cy="320.8" r="1.75"/>
<circle cx="99.8" cy="322.8" r="1.75"/>
<circle cx="98.7" cy="324.9" r="1.75"/>
<circle cx="98.2" cy="334.1" r="1.75"/>
<circle cx="114.5" cy="281.8" r="1.75"/>
<circle cx="117.9" cy="284.9" r="1.75"/>
<circle cx="122.4" cy="279.8" r="1.75"/>
<circle cx="126.9" cy="291.7" r="1.75"/>
<circle cx="131.4" cy="288.0" r="1.75"/>
<circle cx="132.6" cy="286.9" r="1.75"/>
<circle cx="136.0" cy="280.8" r="1.75"/>
<circle cx="140.5" cy="278.7" r="1.75"/>
<circle cx="147.2" cy="281.8" r="1.75"/>
<circle cx="149.5" cy="285.9" r="1.75"/>
<circle cx="151.8" cy="284.9" r="1.75"/>
<circle cx="119.7" cy="298.2" r="1.75"/>
<circle cx="116.8" cy="304.3" r="1.75"/>
<circle cx="120.2" cy="303.3" r="1.75"/>
<circle cx="133.7" cy="299.3" r="1.75"/>
<circle cx="134.8" cy="300.3" r="1.75"/>
<circle cx="139.4" cy="303.3" r="1.75"/>
<circle cx="145.0" cy="298.2" r="1.75"/>
<circle cx="150.6" cy="300.3" r="1.75"/>
<circle cx="152.9" cy="302.7" r="1.75"/>
<circle cx="125.7" cy="306.4" r="1.75"/>
<circle cx="124.6" cy="308.5" r="1.75"/>
<circle cx="126.9" cy="310.6" r="1.75"/>
<circle cx="130.3" cy="310.1" r="1.75"/>
<circle cx="126.4" cy="312.2" r="1.75"/>
<circle cx="147.2" cy="305.4" r="1.75"/>
<circle cx="142.8" cy="310.6" r="1.75"/>
<circle cx="142.3" cy="313.6" r="1.75"/>
<circle cx="137.1" cy="313.6" r="1.75"/>
<circle cx="139.4" cy="319.8" r="1.75"/>
<circle cx="133.7" cy="321.8" r="1.75"/>
<circle cx="124.6" cy="322.4" r="1.75"/>
<circle cx="128.0" cy="324.9" r="1.75"/>
<circle cx="122.4" cy="333.5" r="1.75"/>
<circle cx="138.2" cy="329.0" r="1.75"/>
<circle cx="140.5" cy="323.8" r="1.75"/>
<circle cx="142.8" cy="323.8" r="1.75"/>
<circle cx="147.2" cy="317.7" r="1.75"/>
<circle cx="149.5" cy="316.7" r="1.75"/>
<circle cx="150.6" cy="318.8" r="1.75"/>
<circle cx="148.4" cy="320.8" r="1.75"/>
<circle cx="151.8" cy="315.6" r="1.75"/>
<circle cx="152.9" cy="321.8" r="1.75"/>
<circle cx="145.0" cy="338.2" r="1.75"/>
<circle cx="98.6" cy="240.8" r="1.75"/>
<circle cx="103.7" cy="242.8" r="1.75"/>
<circle cx="114.8" cy="240.8" r="1.75"/>
<circle cx="125.4" cy="241.1" r="1.75"/>
<circle cx="129.4" cy="241.4" r="1.75"/>
<circle cx="140.1" cy="239.8" r="1.75"/>
<circle cx="147.9" cy="237.8" r="1.75"/>
<circle cx="149.6" cy="241.4" r="1.75"/>
<circle cx="152.4" cy="240.3" r="1.75"/>
<circle cx="146.8" cy="242.4" r="1.75"/>
<circle cx="101.4" cy="275.4" r="1.75"/>
<circle cx="112.6" cy="272.9" r="1.75"/>
<circle cx="122.8" cy="279.0" r="1.75"/>
<circle cx="126.0" cy="276.9" r="1.75"/>
<circle cx="130.5" cy="274.9" r="1.75"/>
<circle cx="136.2" cy="279.5" r="1.75"/>
<circle cx="139.5" cy="276.9" r="1.75"/>
<circle cx="146.2" cy="279.0" r="1.75"/>
<circle cx="114.8" cy="281.0" r="1.75"/>
<circle cx="131.6" cy="261.3" r="1.75"/>
<circle cx="141.2" cy="265.7" r="1.75"/>
<circle cx="138.1" cy="265.2" r="1.75"/>
<circle cx="98.5" cy="255.3" r="1.75"/>
<circle cx="149.4" cy="259.3" r="1.75"/>
<circle cx="147.1" cy="247.7" r="1.75"/>
<circle cx="123.0" cy="250.6" r="1.75"/>
<circle cx="127.2" cy="257.7" r="1.75"/>
<circle cx="97.6" cy="249.9" r="1.75"/>
<circle cx="112.5" cy="265.1" r="1.75"/>
<circle cx="139.6" cy="248.7" r="1.75"/>
<circle cx="141.3" cy="248.3" r="1.75"/>
<circle cx="131.3" cy="248.0" r="1.75"/>
<circle cx="97.0" cy="264.1" r="1.75"/>
<circle cx="108.6" cy="249.9" r="1.75"/>
<circle cx="151.6" cy="264.1" r="1.75"/>
<circle cx="113.0" cy="266.1" r="1.75"/>
<circle cx="126.9" cy="259.9" r="1.75"/>
<circle cx="108.3" cy="265.6" r="1.75"/>
<circle cx="135.4" cy="266.2" r="1.75"/>
<circle cx="146.7" cy="251.7" r="1.75"/>
<circle cx="117.0" cy="248.8" r="1.75"/>
<circle cx="105.0" cy="246.7" r="1.75"/>
<circle cx="113.7" cy="258.3" r="1.75"/>
<circle cx="97.1" cy="259.9" r="1.75"/>
<circle cx="115.7" cy="252.0" r="1.75"/>
<circle cx="142.5" cy="255.7" r="1.75"/>
<circle cx="114.5" cy="255.7" r="1.75"/>
<circle cx="136.2" cy="246.5" r="1.75"/>
<circle cx="151.2" cy="245.7" r="1.75"/>
<circle cx="138.7" cy="263.5" r="1.75"/>
<circle cx="97.9" cy="262.3" r="1.75"/>
<circle cx="117.3" cy="257.8" r="1.75"/>
<circle cx="97.4" cy="246.3" r="1.75"/>
<circle cx="107.0" cy="265.9" r="1.75"/>
<circle cx="107.8" cy="261.6" r="1.75"/>
<circle cx="148.7" cy="265.6" r="1.75"/>
<circle cx="116.1" cy="252.9" r="1.75"/>
<circle cx="126.1" cy="262.0" r="1.75"/>
<circle cx="102.9" cy="261.5" r="1.75"/>
<circle cx="141.3" cy="263.9" r="1.75"/>
<circle cx="98.9" cy="265.7" r="1.75"/>
<circle cx="102.0" cy="252.6" r="1.75"/>
<circle cx="130.9" cy="265.1" r="1.75"/>
<circle cx="115.8" cy="265.3" r="1.75"/>
<circle cx="127.3" cy="252.0" r="1.75"/>
<circle cx="114.5" cy="249.1" r="1.75"/>
<circle cx="101.2" cy="248.5" r="1.75"/>
<circle cx="135.3" cy="266.8" r="1.75"/>
<circle cx="105.9" cy="246.3" r="1.75"/>
<circle cx="151.9" cy="256.8" r="1.75"/>
<circle cx="119.5" cy="250.4" r="1.75"/>
<circle cx="130.0" cy="263.1" r="1.75"/>
<circle cx="122.3" cy="254.4" r="1.75"/>
<circle cx="100.0" cy="265.1" r="1.75"/>
<circle cx="98.7" cy="255.9" r="1.75"/>
<circle cx="143.6" cy="248.1" r="1.75"/>
<circle cx="137.7" cy="265.8" r="1.75"/>
<circle cx="132.0" cy="262.3" r="1.75"/>
<circle cx="102.8" cy="254.7" r="1.75"/>
<circle cx="105.2" cy="263.5" r="1.75"/>
<circle cx="113.3" cy="255.1" r="1.75"/>
<circle cx="152.6" cy="263.7" r="1.75"/>
<circle cx="151.3" cy="255.1" r="1.75"/>
<circle cx="124.1" cy="261.0" r="1.75"/>
<circle cx="123.6" cy="251.6" r="1.75"/>
<circle cx="119.4" cy="248.4" r="1.75"/>
<circle cx="117.9" cy="266.7" r="1.75"/>
<circle cx="150.4" cy="258.8" r="1.75"/>
<circle cx="124.7" cy="252.6" r="1.75"/>
<circle cx="101.9" cy="251.1" r="1.75"/>
<circle cx="140.5" cy="264.0" r="1.75"/>
<circle cx="117.0" cy="262.3" r="1.75"/>
<circle cx="140.1" cy="260.3" r="1.75"/>
<circle cx="133.9" cy="261.7" r="1.75"/>
<circle cx="117.1" cy="260.5" r="1.75"/>
<circle cx="112.5" cy="255.8" r="1.75"/>
<circle cx="139.8" cy="260.2" r="1.75"/>
<circle cx="113.3" cy="265.7" r="1.75"/>
<circle cx="133.1" cy="257.8" r="1.75"/>
<circle cx="97.5" cy="257.1" r="1.75"/>
<circle cx="110.9" cy="259.8" r="1.75"/>
<circle cx="122.7" cy="262.9" r="1.75"/>
<circle cx="133.0" cy="262.5" r="1.75"/>
<circle cx="116.3" cy="259.2" r="1.75"/>
<circle cx="138.0" cy="263.2" r="1.75"/>
<circle cx="116.4" cy="263.5" r="1.75"/>
<circle cx="145.4" cy="260.2" r="1.75"/>
<circle cx="157.7" cy="254.1" r="1.75"/>
<circle cx="122.5" cy="255.3" r="1.75"/>
<circle cx="144.3" cy="265.0" r="1.75"/>
<circle cx="145.2" cy="253.7" r="1.75"/>
<circle cx="129.0" cy="248.0" r="1.75"/>
<circle cx="133.9" cy="252.8" r="1.75"/>
<circle cx="137.2" cy="249.1" r="1.75"/>
<circle cx="129.4" cy="251.2" r="1.75"/>
<circle cx="122.4" cy="249.5" r="1.75"/>
<circle cx="124.3" cy="249.5" r="1.75"/>
<circle cx="140.5" cy="256.6" r="1.75"/>
<circle cx="121.2" cy="258.9" r="1.75"/>
<circle cx="137.6" cy="264.2" r="1.75"/>
<circle cx="132.7" cy="254.9" r="1.75"/>
<circle cx="127.6" cy="256.8" r="1.75"/>
<circle cx="139.7" cy="257.0" r="1.75"/>
<circle cx="132.1" cy="259.2" r="1.75"/>
<circle cx="135.6" cy="257.4" r="1.75"/>
<circle cx="125.1" cy="257.2" r="1.75"/>
<circle cx="124.5" cy="251.4" r="1.75"/>
<circle cx="136.3" cy="267.7" r="1.75"/>
<circle cx="144.9" cy="256.1" r="1.75"/>
<circle cx="132.9" cy="261.5" r="1.75"/>
<circle cx="148.8" cy="262.8" r="1.75"/>
<circle cx="132.8" cy="257.1" r="1.75"/>
<circle cx="131.3" cy="254.5" r="1.75"/>
<circle cx="126.0" cy="254.7" r="1.75"/>
<circle cx="112.7" cy="249.4" r="1.75"/>
<circle cx="139.0" cy="251.0" r="1.75"/>
<circle cx="140.2" cy="248.9" r="1.75"/>
<circle cx="130.9" cy="258.3" r="1.75"/>
<circle cx="124.1" cy="252.1" r="1.75"/>
<circle cx="157.7" cy="252.3" r="1.75"/>
<circle cx="127.5" cy="252.9" r="1.75"/>
<circle cx="135.0" cy="255.9" r="1.75"/>
<circle cx="144.8" cy="260.5" r="1.75"/>
<circle cx="130.6" cy="254.1" r="1.75"/>
<circle cx="120.2" cy="247.8" r="1.75"/>
<circle cx="127.1" cy="260.1" r="1.75"/>
<circle cx="135.9" cy="260.5" r="1.75"/>
<circle cx="144.3" cy="255.2" r="1.75"/>
<circle cx="156.2" cy="253.2" r="1.75"/>
<circle cx="128.3" cy="253.7" r="1.75"/>
<circle cx="146.3" cy="255.3" r="1.75"/>
<circle cx="127.1" cy="258.5" r="1.75"/>
<circle cx="146.3" cy="255.5" r="1.75"/>
<circle cx="132.1" cy="262.1" r="1.75"/>
<circle cx="144.7" cy="261.3" r="1.75"/>
<circle cx="126.9" cy="257.6" r="1.75"/>
<circle cx="138.4" cy="246.1" r="1.75"/>
<circle cx="147.0" cy="256.6" r="1.75"/>
<circle cx="131.2" cy="268.6" r="1.75"/>
<circle cx="136.2" cy="252.1" r="1.75"/>
<circle cx="134.1" cy="259.2" r="1.75"/>
<circle cx="143.0" cy="255.8" r="1.75"/>
<circle cx="125.9" cy="252.2" r="1.75"/>
<circle cx="92.6" cy="258.7" r="1.75"/>
<circle cx="93.8" cy="246.4" r="1.75"/>
<circle cx="94.0" cy="251.0" r="1.75"/>
<circle cx="91.3" cy="251.9" r="1.75"/>
<circle cx="88.5" cy="256.8" r="1.75"/>
<circle cx="90.5" cy="252.6" r="1.75"/>
<circle cx="93.8" cy="258.4" r="1.75"/>
<circle cx="85.4" cy="249.8" r="1.75"/>
<circle cx="90.4" cy="266.6" r="1.75"/>
<circle cx="95.5" cy="257.2" r="1.75"/>
<circle cx="85.1" cy="263.1" r="1.75"/>
<path d="M41.5,277.5 C48.0,276.9 68.3,275.7 80.5,274.0 C92.7,272.3 106.2,268.2 114.5,267.5 C122.8,266.8 124.1,267.8 130.5,269.5 C136.9,271.2 149.2,276.4 153.0,277.8" fill="none" stroke="#3366ff" stroke-width="1.6" stroke-linecap="round"/>
<rect x="35.2" y="215.7" width="124.49999999999999" height="136.3" fill="none" stroke="#a8a8a8" stroke-width="1"/>
<text transform="translate(158.2 225.1) scale(0.87 1)" font-size="9" fill="#ff3d33" text-anchor="end">cor = -0.073</text>
<text transform="translate(157.0 233.3) scale(0.87 1)" font-size="9" fill="#ff3d33" text-anchor="end" xml:space="preserve">p=  <tspan font-weight="bold" font-size="7.8" letter-spacing="1.2" fill="#f8203a" stroke="#f8203a" stroke-width="0.3">0.213</tspan></text>
<text transform="translate(35.2 362.2) scale(0.8 1)" font-size="7.6" fill="#7a7a7a" text-anchor="middle">0.00</text>
<line x1="35.2" y1="352.0" x2="35.2" y2="353.6" stroke="#999" stroke-width="0.8"/>
<text transform="translate(65.4 362.2) scale(0.8 1)" font-size="7.6" fill="#7a7a7a" text-anchor="middle">0.25</text>
<line x1="65.4" y1="352.0" x2="65.4" y2="353.6" stroke="#999" stroke-width="0.8"/>
<text transform="translate(95.5 362.2) scale(0.8 1)" font-size="7.6" fill="#7a7a7a" text-anchor="middle">0.50</text>
<line x1="95.5" y1="352.0" x2="95.5" y2="353.6" stroke="#999" stroke-width="0.8"/>
<text transform="translate(124.3 362.2) scale(0.8 1)" font-size="7.6" fill="#7a7a7a" text-anchor="middle">0.75</text>
<line x1="124.3" y1="352.0" x2="124.3" y2="353.6" stroke="#999" stroke-width="0.8"/>
<text transform="translate(153.8 362.2) scale(0.8 1)" font-size="7.6" fill="#7a7a7a" text-anchor="middle">1.00</text>
<line x1="153.8" y1="352.0" x2="153.8" y2="353.6" stroke="#999" stroke-width="0.8"/>
<rect x="163.9" y="201.2" width="123.99999999999997" height="14.5" fill="#d9d9d9" stroke="#a6a6a6" stroke-width="1.1"/>
<text x="204.3" y="211.4" font-size="8.2" fill="#222" textLength="41.7" lengthAdjust="spacingAndGlyphs">Macrophage</text>
<rect x="163.9" y="215.7" width="123.99999999999997" height="136.3" fill="#fff"/>
<line x1="183.9" y1="215.7" x2="183.9" y2="352.0" stroke="#f3f3f3" stroke-width="0.6"/>
<line x1="212.7" y1="215.7" x2="212.7" y2="352.0" stroke="#f3f3f3" stroke-width="0.6"/>
<line x1="241.5" y1="215.7" x2="241.5" y2="352.0" stroke="#f3f3f3" stroke-width="0.6"/>
<line x1="270.3" y1="215.7" x2="270.3" y2="352.0" stroke="#f3f3f3" stroke-width="0.6"/>
<line x1="163.9" y1="231.2" x2="287.9" y2="231.2" stroke="#f3f3f3" stroke-width="0.6"/>
<line x1="163.9" y1="250.5" x2="287.9" y2="250.5" stroke="#f3f3f3" stroke-width="0.6"/>
<line x1="163.9" y1="269.8" x2="287.9" y2="269.8" stroke="#f3f3f3" stroke-width="0.6"/>
<line x1="163.9" y1="289.1" x2="287.9" y2="289.1" stroke="#f3f3f3" stroke-width="0.6"/>
<line x1="163.9" y1="308.4" x2="287.9" y2="308.4" stroke="#f3f3f3" stroke-width="0.6"/>
<line x1="163.9" y1="327.7" x2="287.9" y2="327.7" stroke="#f3f3f3" stroke-width="0.6"/>
<line x1="163.9" y1="347.0" x2="287.9" y2="347.0" stroke="#f3f3f3" stroke-width="0.6"/>
<line x1="169.5" y1="215.7" x2="169.5" y2="352.0" stroke="#e6e6e6" stroke-width="0.9"/>
<line x1="198.3" y1="215.7" x2="198.3" y2="352.0" stroke="#e6e6e6" stroke-width="0.9"/>
<line x1="228.8" y1="215.7" x2="228.8" y2="352.0" stroke="#e6e6e6" stroke-width="0.9"/>
<line x1="258.0" y1="215.7" x2="258.0" y2="352.0" stroke="#e6e6e6" stroke-width="0.9"/>
<line x1="286.8" y1="215.7" x2="286.8" y2="352.0" stroke="#e6e6e6" stroke-width="0.9"/>
<line x1="163.9" y1="231.2" x2="287.9" y2="231.2" stroke="#e6e6e6" stroke-width="0.9"/>
<line x1="163.9" y1="269.8" x2="287.9" y2="269.8" stroke="#e6e6e6" stroke-width="0.9"/>
<line x1="163.9" y1="308.8" x2="287.9" y2="308.8" stroke="#e6e6e6" stroke-width="0.9"/>
<line x1="163.9" y1="348.0" x2="287.9" y2="348.0" stroke="#e6e6e6" stroke-width="0.9"/>
<path d="M168.5,274.0 C171.5,272.9 178.0,269.0 186.7,267.3 C195.4,265.6 209.4,267.1 220.8,264.0 C232.2,260.9 244.8,254.9 255.0,249.0 C265.2,243.1 277.5,232.0 282.0,228.6 L282.0,308.0 C277.5,303.5 265.2,287.4 255.0,281.0 C244.8,274.6 232.2,270.8 220.8,269.5 C209.4,268.2 195.4,270.8 186.7,273.0 C178.0,275.2 171.5,281.3 168.5,283.0 Z" fill="#bdbdbd" fill-opacity="0.6"/>
<circle cx="181.5" cy="239.9" r="1.75"/>
<circle cx="172.6" cy="256.7" r="1.75"/>
<circle cx="188.3" cy="256.0" r="1.75"/>
<circle cx="166.4" cy="258.8" r="1.75"/>
<circle cx="169.6" cy="267.0" r="1.75"/>
<circle cx="176.2" cy="272.0" r="1.75"/>
<circle cx="177.1" cy="246.8" r="1.75"/>
<circle cx="167.7" cy="252.8" r="1.75"/>
<circle cx="181.1" cy="266.7" r="1.75"/>
<circle cx="179.9" cy="249.3" r="1.75"/>
<circle cx="181.5" cy="243.1" r="1.75"/>
<circle cx="181.5" cy="249.2" r="1.75"/>
<circle cx="188.5" cy="264.9" r="1.75"/>
<circle cx="180.6" cy="246.8" r="1.75"/>
<circle cx="181.9" cy="259.3" r="1.75"/>
<circle cx="174.2" cy="250.4" r="1.75"/>
<circle cx="186.9" cy="252.4" r="1.75"/>
<circle cx="181.1" cy="268.5" r="1.75"/>
<circle cx="167.6" cy="272.1" r="1.75"/>
<circle cx="185.1" cy="250.2" r="1.75"/>
<circle cx="171.3" cy="245.0" r="1.75"/>
<circle cx="184.5" cy="232.9" r="1.75"/>
<circle cx="184.5" cy="257.5" r="1.75"/>
<circle cx="173.2" cy="251.4" r="1.75"/>
<circle cx="175.4" cy="253.9" r="1.75"/>
<circle cx="184.2" cy="248.5" r="1.75"/>
<circle cx="185.7" cy="264.9" r="1.75"/>
<circle cx="176.2" cy="261.5" r="1.75"/>
<circle cx="174.2" cy="256.5" r="1.75"/>
<circle cx="181.5" cy="273.5" r="1.75"/>
<circle cx="177.6" cy="254.6" r="1.75"/>
<circle cx="178.2" cy="254.4" r="1.75"/>
<circle cx="170.5" cy="272.9" r="1.75"/>
<circle cx="173.6" cy="250.7" r="1.75"/>
<circle cx="173.0" cy="262.2" r="1.75"/>
<circle cx="198.8" cy="283.3" r="1.75"/>
<circle cx="184.9" cy="259.1" r="1.75"/>
<circle cx="177.8" cy="246.9" r="1.75"/>
<circle cx="183.2" cy="255.2" r="1.75"/>
<circle cx="192.7" cy="253.5" r="1.75"/>
<circle cx="170.9" cy="239.4" r="1.75"/>
<circle cx="165.9" cy="261.5" r="1.75"/>
<circle cx="180.4" cy="245.6" r="1.75"/>
<circle cx="167.2" cy="258.6" r="1.75"/>
<circle cx="175.5" cy="258.1" r="1.75"/>
<circle cx="177.9" cy="248.9" r="1.75"/>
<circle cx="165.9" cy="257.2" r="1.75"/>
<circle cx="178.7" cy="257.7" r="1.75"/>
<circle cx="184.7" cy="264.4" r="1.75"/>
<circle cx="174.5" cy="261.3" r="1.75"/>
<circle cx="165.9" cy="262.2" r="1.75"/>
<circle cx="177.8" cy="265.2" r="1.75"/>
<circle cx="185.0" cy="247.5" r="1.75"/>
<circle cx="177.1" cy="266.1" r="1.75"/>
<circle cx="174.2" cy="256.7" r="1.75"/>
<circle cx="173.7" cy="261.4" r="1.75"/>
<circle cx="180.1" cy="248.5" r="1.75"/>
<circle cx="168.0" cy="235.9" r="1.75"/>
<circle cx="184.0" cy="251.9" r="1.75"/>
<circle cx="173.1" cy="251.2" r="1.75"/>
<circle cx="171.5" cy="262.2" r="1.75"/>
<circle cx="182.4" cy="235.6" r="1.75"/>
<circle cx="177.8" cy="257.0" r="1.75"/>
<circle cx="175.7" cy="257.0" r="1.75"/>
<circle cx="189.8" cy="258.9" r="1.75"/>
<circle cx="186.5" cy="265.3" r="1.75"/>
<circle cx="167.3" cy="272.2" r="1.75"/>
<circle cx="179.5" cy="253.4" r="1.75"/>
<circle cx="184.0" cy="276.4" r="1.75"/>
<circle cx="172.5" cy="249.8" r="1.75"/>
<circle cx="180.6" cy="239.8" r="1.75"/>
<circle cx="170.1" cy="256.5" r="1.75"/>
<circle cx="183.4" cy="261.0" r="1.75"/>
<circle cx="184.0" cy="266.0" r="1.75"/>
<circle cx="174.9" cy="252.9" r="1.75"/>
<circle cx="175.8" cy="253.1" r="1.75"/>
<circle cx="185.9" cy="264.0" r="1.75"/>
<circle cx="165.9" cy="260.5" r="1.75"/>
<circle cx="170.5" cy="245.8" r="1.75"/>
<circle cx="187.2" cy="268.2" r="1.75"/>
<circle cx="186.4" cy="262.3" r="1.75"/>
<circle cx="191.0" cy="245.6" r="1.75"/>
<circle cx="184.0" cy="249.9" r="1.75"/>
<circle cx="173.7" cy="241.1" r="1.75"/>
<circle cx="188.9" cy="272.4" r="1.75"/>
<circle cx="184.3" cy="250.7" r="1.75"/>
<circle cx="179.4" cy="246.4" r="1.75"/>
<circle cx="176.2" cy="270.0" r="1.75"/>
<circle cx="189.6" cy="262.3" r="1.75"/>
<circle cx="183.7" cy="255.0" r="1.75"/>
<circle cx="180.7" cy="254.6" r="1.75"/>
<circle cx="181.6" cy="250.3" r="1.75"/>
<circle cx="185.3" cy="254.0" r="1.75"/>
<circle cx="179.6" cy="254.9" r="1.75"/>
<circle cx="189.1" cy="264.5" r="1.75"/>
<circle cx="172.4" cy="247.5" r="1.75"/>
<circle cx="182.2" cy="257.1" r="1.75"/>
<circle cx="176.4" cy="258.1" r="1.75"/>
<circle cx="189.9" cy="255.3" r="1.75"/>
<circle cx="188.3" cy="251.7" r="1.75"/>
<circle cx="176.4" cy="259.0" r="1.75"/>
<circle cx="177.6" cy="251.6" r="1.75"/>
<circle cx="170.5" cy="253.1" r="1.75"/>
<circle cx="175.2" cy="256.1" r="1.75"/>
<circle cx="185.6" cy="260.9" r="1.75"/>
<circle cx="186.4" cy="258.1" r="1.75"/>
<circle cx="181.3" cy="261.9" r="1.75"/>
<circle cx="183.3" cy="265.5" r="1.75"/>
<circle cx="174.2" cy="260.1" r="1.75"/>
<circle cx="179.6" cy="267.4" r="1.75"/>
<circle cx="184.2" cy="251.0" r="1.75"/>
<circle cx="181.2" cy="262.7" r="1.75"/>
<circle cx="178.6" cy="267.7" r="1.75"/>
<circle cx="180.1" cy="244.6" r="1.75"/>
<circle cx="180.4" cy="263.4" r="1.75"/>
<circle cx="172.5" cy="262.6" r="1.75"/>
<circle cx="165.9" cy="274.7" r="1.75"/>
<circle cx="168.2" cy="251.8" r="1.75"/>
<circle cx="175.9" cy="243.3" r="1.75"/>
<circle cx="180.3" cy="247.8" r="1.75"/>
<circle cx="168.6" cy="235.1" r="1.75"/>
<circle cx="183.0" cy="266.8" r="1.75"/>
<circle cx="176.1" cy="258.1" r="1.75"/>
<circle cx="189.4" cy="259.8" r="1.75"/>
<circle cx="186.3" cy="265.4" r="1.75"/>
<circle cx="183.4" cy="261.1" r="1.75"/>
<circle cx="186.6" cy="258.3" r="1.75"/>
<circle cx="179.1" cy="249.7" r="1.75"/>
<circle cx="165.9" cy="247.9" r="1.75"/>
<circle cx="175.9" cy="265.8" r="1.75"/>
<circle cx="175.7" cy="238.3" r="1.75"/>
<circle cx="183.0" cy="267.6" r="1.75"/>
<circle cx="180.5" cy="259.0" r="1.75"/>
<circle cx="180.2" cy="255.7" r="1.75"/>
<circle cx="188.2" cy="248.8" r="1.75"/>
<circle cx="172.9" cy="243.0" r="1.75"/>
<circle cx="209.9" cy="247.2" r="1.75"/>
<circle cx="204.5" cy="245.1" r="1.75"/>
<circle cx="215.3" cy="259.5" r="1.75"/>
<circle cx="213.5" cy="245.3" r="1.75"/>
<circle cx="208.4" cy="246.4" r="1.75"/>
<circle cx="213.6" cy="258.6" r="1.75"/>
<circle cx="218.9" cy="257.7" r="1.75"/>
<circle cx="210.8" cy="259.4" r="1.75"/>
<circle cx="195.4" cy="254.9" r="1.75"/>
<circle cx="193.9" cy="249.2" r="1.75"/>
<circle cx="196.0" cy="263.7" r="1.75"/>
<circle cx="193.7" cy="263.0" r="1.75"/>
<circle cx="217.6" cy="250.9" r="1.75"/>
<circle cx="214.6" cy="241.3" r="1.75"/>
<circle cx="196.6" cy="240.2" r="1.75"/>
<circle cx="194.8" cy="240.1" r="1.75"/>
<circle cx="214.5" cy="242.2" r="1.75"/>
<circle cx="208.4" cy="246.8" r="1.75"/>
<circle cx="196.4" cy="250.5" r="1.75"/>
<circle cx="197.7" cy="264.4" r="1.75"/>
<circle cx="203.0" cy="254.8" r="1.75"/>
<circle cx="207.7" cy="255.7" r="1.75"/>
<circle cx="205.5" cy="246.8" r="1.75"/>
<circle cx="196.6" cy="262.2" r="1.75"/>
<circle cx="198.0" cy="251.2" r="1.75"/>
<circle cx="214.0" cy="254.4" r="1.75"/>
<circle cx="217.6" cy="260.2" r="1.75"/>
<circle cx="206.4" cy="243.0" r="1.75"/>
<circle cx="208.4" cy="251.8" r="1.75"/>
<circle cx="215.4" cy="253.3" r="1.75"/>
<circle cx="211.1" cy="260.3" r="1.75"/>
<circle cx="205.2" cy="261.0" r="1.75"/>
<circle cx="223.7" cy="240.7" r="1.75"/>
<circle cx="224.9" cy="276.5" r="1.75"/>
<circle cx="220.9" cy="249.9" r="1.75"/>
<circle cx="182.9" cy="239.6" r="1.75"/>
<circle cx="190.4" cy="275.8" r="1.75"/>
<circle cx="189.9" cy="233.3" r="1.75"/>
<circle cx="186.2" cy="237.1" r="1.75"/>
<circle cx="206.2" cy="271.4" r="1.75"/>
<circle cx="225.4" cy="237.5" r="1.75"/>
<circle cx="191.0" cy="239.3" r="1.75"/>
<circle cx="224.4" cy="274.8" r="1.75"/>
<circle cx="199.7" cy="280.7" r="1.75"/>
<circle cx="199.8" cy="271.8" r="1.75"/>
<circle cx="197.7" cy="251.2" r="1.75"/>
<circle cx="229.6" cy="275.1" r="1.75"/>
<circle cx="204.3" cy="276.4" r="1.75"/>
<circle cx="207.9" cy="272.9" r="1.75"/>
<circle cx="171.2" cy="239.6" r="1.75"/>
<circle cx="173.9" cy="263.2" r="1.75"/>
<circle cx="212.3" cy="240.8" r="1.75"/>
<circle cx="198.8" cy="238.7" r="1.75"/>
<circle cx="210.3" cy="272.0" r="1.75"/>
<circle cx="172.5" cy="282.0" r="1.75"/>
<circle cx="208.9" cy="239.2" r="1.75"/>
<circle cx="177.2" cy="319.3" r="1.75"/>
<circle cx="177.5" cy="295.1" r="1.75"/>
<circle cx="182.3" cy="320.1" r="1.75"/>
<circle cx="169.1" cy="302.1" r="1.75"/>
<circle cx="179.4" cy="305.1" r="1.75"/>
<circle cx="188.5" cy="322.9" r="1.75"/>
<circle cx="166.1" cy="319.5" r="1.75"/>
<circle cx="168.3" cy="308.6" r="1.75"/>
<circle cx="191.0" cy="312.7" r="1.75"/>
<circle cx="185.4" cy="311.2" r="1.75"/>
<circle cx="196.6" cy="315.2" r="1.75"/>
<circle cx="205.0" cy="320.3" r="1.75"/>
<circle cx="177.3" cy="315.9" r="1.75"/>
<circle cx="178.0" cy="329.2" r="1.75"/>
<circle cx="171.7" cy="323.4" r="1.75"/>
<circle cx="192.2" cy="325.2" r="1.75"/>
<circle cx="169.4" cy="327.2" r="1.75"/>
<circle cx="187.1" cy="325.7" r="1.75"/>
<circle cx="172.0" cy="316.8" r="1.75"/>
<circle cx="189.8" cy="316.3" r="1.75"/>
<circle cx="182.0" cy="311.4" r="1.75"/>
<circle cx="178.8" cy="315.5" r="1.75"/>
<circle cx="201.1" cy="314.1" r="1.75"/>
<circle cx="176.0" cy="305.7" r="1.75"/>
<circle cx="183.7" cy="317.0" r="1.75"/>
<circle cx="176.0" cy="299.6" r="1.75"/>
<circle cx="195.9" cy="313.8" r="1.75"/>
<circle cx="174.3" cy="317.6" r="1.75"/>
<circle cx="172.9" cy="312.8" r="1.75"/>
<circle cx="165.9" cy="309.8" r="1.75"/>
<circle cx="165.9" cy="322.4" r="1.75"/>
<circle cx="179.5" cy="312.3" r="1.75"/>
<circle cx="179.8" cy="301.8" r="1.75"/>
<circle cx="179.5" cy="314.5" r="1.75"/>
<circle cx="186.8" cy="307.7" r="1.75"/>
<circle cx="175.2" cy="313.7" r="1.75"/>
<circle cx="181.3" cy="315.3" r="1.75"/>
<circle cx="181.7" cy="322.4" r="1.75"/>
<circle cx="181.6" cy="317.6" r="1.75"/>
<circle cx="178.2" cy="301.1" r="1.75"/>
<circle cx="184.1" cy="310.7" r="1.75"/>
<circle cx="178.5" cy="303.0" r="1.75"/>
<circle cx="193.8" cy="324.8" r="1.75"/>
<circle cx="176.8" cy="319.5" r="1.75"/>
<circle cx="187.4" cy="333.7" r="1.75"/>
<circle cx="181.4" cy="323.7" r="1.75"/>
<circle cx="172.8" cy="312.5" r="1.75"/>
<circle cx="178.1" cy="311.8" r="1.75"/>
<circle cx="170.4" cy="320.1" r="1.75"/>
<circle cx="172.0" cy="306.6" r="1.75"/>
<circle cx="178.6" cy="327.7" r="1.75"/>
<circle cx="189.0" cy="313.2" r="1.75"/>
<circle cx="170.6" cy="301.5" r="1.75"/>
<circle cx="179.9" cy="322.1" r="1.75"/>
<circle cx="186.6" cy="313.6" r="1.75"/>
<circle cx="173.1" cy="318.9" r="1.75"/>
<circle cx="190.0" cy="314.5" r="1.75"/>
<circle cx="183.8" cy="311.7" r="1.75"/>
<circle cx="178.0" cy="327.8" r="1.75"/>
<circle cx="175.1" cy="327.1" r="1.75"/>
<circle cx="205.3" cy="282.2" r="1.75"/>
<circle cx="191.0" cy="297.0" r="1.75"/>
<circle cx="206.2" cy="286.2" r="1.75"/>
<circle cx="196.5" cy="279.0" r="1.75"/>
<circle cx="196.6" cy="291.7" r="1.75"/>
<circle cx="201.0" cy="303.3" r="1.75"/>
<circle cx="217.7" cy="308.4" r="1.75"/>
<circle cx="213.7" cy="290.6" r="1.75"/>
<circle cx="204.8" cy="308.8" r="1.75"/>
<circle cx="219.2" cy="288.9" r="1.75"/>
<circle cx="187.5" cy="281.1" r="1.75"/>
<circle cx="205.6" cy="314.8" r="1.75"/>
<circle cx="192.5" cy="311.1" r="1.75"/>
<circle cx="210.1" cy="314.4" r="1.75"/>
<circle cx="219.4" cy="283.4" r="1.75"/>
<circle cx="215.6" cy="284.5" r="1.75"/>
<circle cx="282.3" cy="270.1" r="1.75"/>
<circle cx="228.8" cy="254.8" r="1.75"/>
<circle cx="231.0" cy="253.5" r="1.75"/>
<circle cx="242.8" cy="248.4" r="1.75"/>
<circle cx="244.1" cy="257.4" r="1.75"/>
<circle cx="231.4" cy="268.8" r="1.75"/>
<circle cx="242.8" cy="268.8" r="1.75"/>
<circle cx="222.4" cy="284.1" r="1.75"/>
<circle cx="221.2" cy="312.1" r="1.75"/>
<circle cx="213.5" cy="304.4" r="1.75"/>
<circle cx="209.7" cy="293.0" r="1.75"/>
<circle cx="212.3" cy="317.2" r="1.75"/>
<circle cx="223.7" cy="285.4" r="1.75"/>
<circle cx="218.6" cy="304.4" r="1.75"/>
<circle cx="200.8" cy="314.6" r="1.75"/>
<circle cx="207.2" cy="299.4" r="1.75"/>
<circle cx="198.3" cy="322.3" r="1.75"/>
<path d="M168.5,281.0 C170.0,279.9 174.6,276.0 177.6,274.5 C180.6,273.0 179.5,273.1 186.7,271.8 C193.9,270.5 210.6,268.5 220.8,266.8 C231.0,265.1 240.4,262.5 248.0,261.6 C255.6,260.7 260.6,261.0 266.3,261.6 C272.0,262.2 279.4,264.9 282.0,265.5" fill="none" stroke="#3366ff" stroke-width="1.6" stroke-linecap="round"/>
<rect x="163.9" y="215.7" width="123.99999999999997" height="136.3" fill="none" stroke="#a8a8a8" stroke-width="1"/>
<text transform="translate(286.4 225.1) scale(0.87 1)" font-size="9" fill="#ff3d33" text-anchor="end">partial.cor = 0.147</text>
<text transform="translate(278.4 233.3) scale(0.87 1)" font-size="9" fill="#ff3d33" text-anchor="end" xml:space="preserve">p = <tspan font-weight="bold" font-size="7.8" letter-spacing="1.2" fill="#f8203a" stroke="#f8203a" stroke-width="0.3">0.012</tspan></text>
<text transform="translate(169.5 362.2) scale(0.8 1)" font-size="7.6" fill="#7a7a7a" text-anchor="middle">0.0</text>
<line x1="169.5" y1="352.0" x2="169.5" y2="353.6" stroke="#999" stroke-width="0.8"/>
<text transform="translate(198.3 362.2) scale(0.8 1)" font-size="7.6" fill="#7a7a7a" text-anchor="middle">0.1</text>
<line x1="198.3" y1="352.0" x2="198.3" y2="353.6" stroke="#999" stroke-width="0.8"/>
<text transform="translate(228.8 362.2) scale(0.8 1)" font-size="7.6" fill="#7a7a7a" text-anchor="middle">0.2</text>
<line x1="228.8" y1="352.0" x2="228.8" y2="353.6" stroke="#999" stroke-width="0.8"/>
<text transform="translate(258.0 362.2) scale(0.8 1)" font-size="7.6" fill="#7a7a7a" text-anchor="middle">0.3</text>
<line x1="258.0" y1="352.0" x2="258.0" y2="353.6" stroke="#999" stroke-width="0.8"/>
<text transform="translate(286.8 362.2) scale(0.8 1)" font-size="7.6" fill="#7a7a7a" text-anchor="middle">0.4</text>
<line x1="286.8" y1="352.0" x2="286.8" y2="353.6" stroke="#999" stroke-width="0.8"/>
<rect x="292.4" y="201.2" width="123.5" height="14.5" fill="#d9d9d9" stroke="#a6a6a6" stroke-width="1.1"/>
<text x="325.5" y="211.4" font-size="8.2" fill="#222" textLength="35.4" lengthAdjust="spacingAndGlyphs">Neutrophil</text>
<rect x="292.4" y="215.7" width="123.5" height="136.3" fill="#fff"/>
<line x1="312.5" y1="215.7" x2="312.5" y2="352.0" stroke="#f3f3f3" stroke-width="0.6"/>
<line x1="356.8" y1="215.7" x2="356.8" y2="352.0" stroke="#f3f3f3" stroke-width="0.6"/>
<line x1="401.1" y1="215.7" x2="401.1" y2="352.0" stroke="#f3f3f3" stroke-width="0.6"/>
<line x1="292.4" y1="231.2" x2="415.9" y2="231.2" stroke="#f3f3f3" stroke-width="0.6"/>
<line x1="292.4" y1="250.5" x2="415.9" y2="250.5" stroke="#f3f3f3" stroke-width="0.6"/>
<line x1="292.4" y1="269.8" x2="415.9" y2="269.8" stroke="#f3f3f3" stroke-width="0.6"/>
<line x1="292.4" y1="289.1" x2="415.9" y2="289.1" stroke="#f3f3f3" stroke-width="0.6"/>
<line x1="292.4" y1="308.4" x2="415.9" y2="308.4" stroke="#f3f3f3" stroke-width="0.6"/>
<line x1="292.4" y1="327.7" x2="415.9" y2="327.7" stroke="#f3f3f3" stroke-width="0.6"/>
<line x1="292.4" y1="347.0" x2="415.9" y2="347.0" stroke="#f3f3f3" stroke-width="0.6"/>
<line x1="334.7" y1="215.7" x2="334.7" y2="352.0" stroke="#e6e6e6" stroke-width="0.9"/>
<line x1="379.0" y1="215.7" x2="379.0" y2="352.0" stroke="#e6e6e6" stroke-width="0.9"/>
<line x1="292.4" y1="231.2" x2="415.9" y2="231.2" stroke="#e6e6e6" stroke-width="0.9"/>
<line x1="292.4" y1="269.8" x2="415.9" y2="269.8" stroke="#e6e6e6" stroke-width="0.9"/>
<line x1="292.4" y1="308.8" x2="415.9" y2="308.8" stroke="#e6e6e6" stroke-width="0.9"/>
<line x1="292.4" y1="348.0" x2="415.9" y2="348.0" stroke="#e6e6e6" stroke-width="0.9"/>
<path d="M296.5,267.3 C299.2,267.7 306.4,268.6 312.5,269.5 C318.6,270.4 325.1,273.9 333.0,273.0 C340.9,272.1 349.8,268.0 360.0,264.0 C370.2,260.0 386.0,253.4 394.3,249.0 C402.6,244.6 407.4,239.6 410.0,237.7 L410.0,283.0 C407.4,281.5 402.6,275.3 394.3,274.0 C386.0,272.7 370.2,274.4 360.0,275.0 C349.8,275.6 340.9,276.2 333.0,277.5 C325.1,278.8 317.4,276.8 312.5,283.0 C307.6,289.2 306.1,304.0 303.4,315.0 C300.7,326.0 297.6,343.3 296.5,349.0 Z" fill="#bdbdbd" fill-opacity="0.6"/>
<circle cx="330.7" cy="263.6" r="1.75"/>
<circle cx="331.0" cy="257.8" r="1.75"/>
<circle cx="324.6" cy="258.5" r="1.75"/>
<circle cx="343.0" cy="263.0" r="1.75"/>
<circle cx="342.3" cy="261.7" r="1.75"/>
<circle cx="336.6" cy="261.3" r="1.75"/>
<circle cx="318.0" cy="266.0" r="1.75"/>
<circle cx="337.6" cy="263.5" r="1.75"/>
<circle cx="317.8" cy="247.8" r="1.75"/>
<circle cx="325.0" cy="256.7" r="1.75"/>
<circle cx="335.7" cy="259.7" r="1.75"/>
<circle cx="337.7" cy="255.5" r="1.75"/>
<circle cx="335.8" cy="262.8" r="1.75"/>
<circle cx="327.0" cy="272.0" r="1.75"/>
<circle cx="338.0" cy="268.4" r="1.75"/>
<circle cx="327.4" cy="254.8" r="1.75"/>
<circle cx="329.9" cy="259.3" r="1.75"/>
<circle cx="338.7" cy="261.7" r="1.75"/>
<circle cx="329.0" cy="253.3" r="1.75"/>
<circle cx="328.3" cy="268.5" r="1.75"/>
<circle cx="325.7" cy="261.7" r="1.75"/>
<circle cx="336.8" cy="249.6" r="1.75"/>
<circle cx="333.4" cy="269.1" r="1.75"/>
<circle cx="314.9" cy="257.7" r="1.75"/>
<circle cx="332.0" cy="254.3" r="1.75"/>
<circle cx="337.5" cy="259.6" r="1.75"/>
<circle cx="319.8" cy="265.8" r="1.75"/>
<circle cx="339.0" cy="266.6" r="1.75"/>
<circle cx="346.0" cy="262.5" r="1.75"/>
<circle cx="334.1" cy="250.9" r="1.75"/>
<circle cx="338.5" cy="255.7" r="1.75"/>
<circle cx="328.9" cy="251.1" r="1.75"/>
<circle cx="324.3" cy="256.3" r="1.75"/>
<circle cx="344.6" cy="245.8" r="1.75"/>
<circle cx="319.9" cy="261.7" r="1.75"/>
<circle cx="346.0" cy="264.0" r="1.75"/>
<circle cx="315.9" cy="242.4" r="1.75"/>
<circle cx="336.2" cy="254.8" r="1.75"/>
<circle cx="322.9" cy="266.8" r="1.75"/>
<circle cx="342.9" cy="261.1" r="1.75"/>
<circle cx="335.2" cy="263.0" r="1.75"/>
<circle cx="347.3" cy="264.3" r="1.75"/>
<circle cx="337.7" cy="263.8" r="1.75"/>
<circle cx="318.9" cy="269.0" r="1.75"/>
<circle cx="341.6" cy="263.7" r="1.75"/>
<circle cx="315.2" cy="255.6" r="1.75"/>
<circle cx="340.6" cy="247.3" r="1.75"/>
<circle cx="331.3" cy="267.1" r="1.75"/>
<circle cx="321.2" cy="271.3" r="1.75"/>
<circle cx="338.0" cy="258.9" r="1.75"/>
<circle cx="335.9" cy="264.5" r="1.75"/>
<circle cx="334.1" cy="268.0" r="1.75"/>
<circle cx="327.0" cy="257.1" r="1.75"/>
<circle cx="342.4" cy="260.2" r="1.75"/>
<circle cx="325.1" cy="266.6" r="1.75"/>
<circle cx="346.2" cy="256.9" r="1.75"/>
<circle cx="320.6" cy="259.1" r="1.75"/>
<circle cx="331.7" cy="257.9" r="1.75"/>
<circle cx="345.6" cy="252.8" r="1.75"/>
<circle cx="344.3" cy="251.1" r="1.75"/>
<circle cx="325.9" cy="264.4" r="1.75"/>
<circle cx="343.2" cy="266.0" r="1.75"/>
<circle cx="336.1" cy="261.0" r="1.75"/>
<circle cx="334.4" cy="264.0" r="1.75"/>
<circle cx="331.4" cy="261.9" r="1.75"/>
<circle cx="338.2" cy="260.0" r="1.75"/>
<circle cx="339.9" cy="264.0" r="1.75"/>
<circle cx="351.1" cy="262.3" r="1.75"/>
<circle cx="329.2" cy="257.4" r="1.75"/>
<circle cx="332.9" cy="266.5" r="1.75"/>
<circle cx="330.0" cy="262.7" r="1.75"/>
<circle cx="349.5" cy="242.0" r="1.75"/>
<circle cx="322.9" cy="261.7" r="1.75"/>
<circle cx="336.6" cy="261.7" r="1.75"/>
<circle cx="329.1" cy="264.6" r="1.75"/>
<circle cx="335.5" cy="256.3" r="1.75"/>
<circle cx="354.9" cy="262.5" r="1.75"/>
<circle cx="328.0" cy="259.3" r="1.75"/>
<circle cx="331.0" cy="259.6" r="1.75"/>
<circle cx="308.4" cy="256.6" r="1.75"/>
<circle cx="342.1" cy="251.8" r="1.75"/>
<circle cx="332.4" cy="266.7" r="1.75"/>
<circle cx="340.7" cy="270.4" r="1.75"/>
<circle cx="317.7" cy="257.5" r="1.75"/>
<circle cx="329.9" cy="264.4" r="1.75"/>
<circle cx="342.8" cy="241.2" r="1.75"/>
<circle cx="342.8" cy="249.9" r="1.75"/>
<circle cx="339.1" cy="249.6" r="1.75"/>
<circle cx="334.6" cy="268.4" r="1.75"/>
<circle cx="331.7" cy="261.3" r="1.75"/>
<circle cx="340.2" cy="261.0" r="1.75"/>
<circle cx="332.2" cy="270.7" r="1.75"/>
<circle cx="342.4" cy="257.9" r="1.75"/>
<circle cx="357.7" cy="252.0" r="1.75"/>
<circle cx="341.2" cy="258.1" r="1.75"/>
<circle cx="334.2" cy="264.9" r="1.75"/>
<circle cx="335.0" cy="264.5" r="1.75"/>
<circle cx="319.3" cy="249.4" r="1.75"/>
<circle cx="338.5" cy="253.3" r="1.75"/>
<circle cx="323.8" cy="249.7" r="1.75"/>
<circle cx="344.4" cy="265.2" r="1.75"/>
<circle cx="346.3" cy="253.4" r="1.75"/>
<circle cx="333.0" cy="252.0" r="1.75"/>
<circle cx="339.9" cy="271.1" r="1.75"/>
<circle cx="325.0" cy="270.9" r="1.75"/>
<circle cx="341.9" cy="258.8" r="1.75"/>
<circle cx="315.3" cy="269.8" r="1.75"/>
<circle cx="332.1" cy="255.8" r="1.75"/>
<circle cx="336.6" cy="262.9" r="1.75"/>
<circle cx="346.5" cy="252.9" r="1.75"/>
<circle cx="343.2" cy="270.4" r="1.75"/>
<circle cx="346.1" cy="258.7" r="1.75"/>
<circle cx="326.3" cy="267.1" r="1.75"/>
<circle cx="334.0" cy="260.9" r="1.75"/>
<circle cx="345.8" cy="258.2" r="1.75"/>
<circle cx="312.3" cy="257.3" r="1.75"/>
<circle cx="316.3" cy="265.7" r="1.75"/>
<circle cx="335.9" cy="255.7" r="1.75"/>
<circle cx="332.9" cy="265.8" r="1.75"/>
<circle cx="333.7" cy="269.3" r="1.75"/>
<circle cx="332.4" cy="267.3" r="1.75"/>
<circle cx="346.4" cy="271.3" r="1.75"/>
<circle cx="327.0" cy="266.2" r="1.75"/>
<circle cx="316.1" cy="252.4" r="1.75"/>
<circle cx="315.3" cy="267.5" r="1.75"/>
<circle cx="321.9" cy="259.9" r="1.75"/>
<circle cx="331.3" cy="259.8" r="1.75"/>
<circle cx="327.7" cy="261.6" r="1.75"/>
<circle cx="349.1" cy="260.3" r="1.75"/>
<circle cx="337.8" cy="267.0" r="1.75"/>
<circle cx="331.2" cy="251.2" r="1.75"/>
<circle cx="328.0" cy="267.5" r="1.75"/>
<circle cx="318.2" cy="255.8" r="1.75"/>
<circle cx="342.1" cy="265.5" r="1.75"/>
<circle cx="333.1" cy="265.6" r="1.75"/>
<circle cx="334.5" cy="251.7" r="1.75"/>
<circle cx="318.9" cy="255.5" r="1.75"/>
<circle cx="341.3" cy="256.0" r="1.75"/>
<circle cx="324.9" cy="254.6" r="1.75"/>
<circle cx="319.2" cy="259.2" r="1.75"/>
<circle cx="322.4" cy="262.5" r="1.75"/>
<circle cx="311.8" cy="262.3" r="1.75"/>
<circle cx="327.2" cy="246.4" r="1.75"/>
<circle cx="339.5" cy="258.1" r="1.75"/>
<circle cx="338.0" cy="280.2" r="1.75"/>
<circle cx="352.0" cy="239.9" r="1.75"/>
<circle cx="316.1" cy="255.1" r="1.75"/>
<circle cx="313.6" cy="245.0" r="1.75"/>
<circle cx="313.7" cy="266.5" r="1.75"/>
<circle cx="349.2" cy="277.9" r="1.75"/>
<circle cx="317.7" cy="268.8" r="1.75"/>
<circle cx="343.0" cy="240.1" r="1.75"/>
<circle cx="354.1" cy="281.4" r="1.75"/>
<circle cx="321.0" cy="280.6" r="1.75"/>
<circle cx="329.9" cy="257.4" r="1.75"/>
<circle cx="359.5" cy="274.6" r="1.75"/>
<circle cx="318.1" cy="254.6" r="1.75"/>
<circle cx="335.8" cy="250.0" r="1.75"/>
<circle cx="319.8" cy="248.9" r="1.75"/>
<circle cx="346.1" cy="234.0" r="1.75"/>
<circle cx="337.7" cy="255.0" r="1.75"/>
<circle cx="310.9" cy="249.6" r="1.75"/>
<circle cx="341.2" cy="258.6" r="1.75"/>
<circle cx="313.2" cy="282.3" r="1.75"/>
<circle cx="349.4" cy="281.6" r="1.75"/>
<circle cx="315.2" cy="246.3" r="1.75"/>
<circle cx="312.0" cy="271.9" r="1.75"/>
<circle cx="323.5" cy="239.5" r="1.75"/>
<circle cx="315.4" cy="325.3" r="1.75"/>
<circle cx="333.6" cy="308.0" r="1.75"/>
<circle cx="341.6" cy="333.1" r="1.75"/>
<circle cx="319.8" cy="308.3" r="1.75"/>
<circle cx="333.3" cy="316.8" r="1.75"/>
<circle cx="327.8" cy="305.3" r="1.75"/>
<circle cx="348.0" cy="325.4" r="1.75"/>
<circle cx="321.4" cy="301.5" r="1.75"/>
<circle cx="344.6" cy="324.9" r="1.75"/>
<circle cx="345.6" cy="323.1" r="1.75"/>
<circle cx="324.0" cy="317.6" r="1.75"/>
<circle cx="313.7" cy="307.5" r="1.75"/>
<circle cx="330.5" cy="320.2" r="1.75"/>
<circle cx="325.2" cy="313.8" r="1.75"/>
<circle cx="334.7" cy="318.8" r="1.75"/>
<circle cx="336.1" cy="317.1" r="1.75"/>
<circle cx="328.4" cy="322.9" r="1.75"/>
<circle cx="331.4" cy="306.7" r="1.75"/>
<circle cx="326.0" cy="315.0" r="1.75"/>
<circle cx="330.1" cy="316.6" r="1.75"/>
<circle cx="331.0" cy="316.8" r="1.75"/>
<circle cx="329.9" cy="302.4" r="1.75"/>
<circle cx="334.4" cy="325.5" r="1.75"/>
<circle cx="334.5" cy="313.1" r="1.75"/>
<circle cx="334.6" cy="305.3" r="1.75"/>
<circle cx="315.8" cy="315.6" r="1.75"/>
<circle cx="323.6" cy="322.4" r="1.75"/>
<circle cx="322.3" cy="288.7" r="1.75"/>
<circle cx="322.7" cy="330.8" r="1.75"/>
<circle cx="327.9" cy="301.3" r="1.75"/>
<circle cx="324.9" cy="320.2" r="1.75"/>
<circle cx="335.0" cy="316.8" r="1.75"/>
<circle cx="342.9" cy="322.1" r="1.75"/>
<circle cx="330.8" cy="321.0" r="1.75"/>
<circle cx="344.2" cy="324.7" r="1.75"/>
<circle cx="339.2" cy="304.2" r="1.75"/>
<circle cx="329.8" cy="322.3" r="1.75"/>
<circle cx="328.6" cy="325.7" r="1.75"/>
<circle cx="335.8" cy="324.1" r="1.75"/>
<circle cx="329.3" cy="340.5" r="1.75"/>
<circle cx="340.9" cy="312.8" r="1.75"/>
<circle cx="331.7" cy="341.0" r="1.75"/>
<circle cx="328.3" cy="323.7" r="1.75"/>
<circle cx="338.8" cy="315.1" r="1.75"/>
<circle cx="321.7" cy="316.9" r="1.75"/>
<circle cx="333.9" cy="326.3" r="1.75"/>
<circle cx="337.3" cy="315.2" r="1.75"/>
<circle cx="337.8" cy="320.4" r="1.75"/>
<circle cx="332.6" cy="315.6" r="1.75"/>
<circle cx="329.1" cy="321.9" r="1.75"/>
<circle cx="322.6" cy="308.7" r="1.75"/>
<circle cx="331.0" cy="300.4" r="1.75"/>
<circle cx="327.5" cy="294.9" r="1.75"/>
<circle cx="325.5" cy="320.7" r="1.75"/>
<circle cx="335.5" cy="314.5" r="1.75"/>
<circle cx="329.1" cy="300.8" r="1.75"/>
<circle cx="345.6" cy="320.2" r="1.75"/>
<circle cx="339.7" cy="306.2" r="1.75"/>
<circle cx="329.5" cy="296.8" r="1.75"/>
<circle cx="337.2" cy="324.4" r="1.75"/>
<circle cx="315.8" cy="314.5" r="1.75"/>
<circle cx="336.0" cy="297.4" r="1.75"/>
<circle cx="316.4" cy="304.3" r="1.75"/>
<circle cx="326.0" cy="301.0" r="1.75"/>
<circle cx="325.3" cy="276.8" r="1.75"/>
<circle cx="321.0" cy="285.0" r="1.75"/>
<circle cx="319.7" cy="296.9" r="1.75"/>
<circle cx="340.1" cy="291.7" r="1.75"/>
<circle cx="343.2" cy="293.0" r="1.75"/>
<circle cx="337.0" cy="276.1" r="1.75"/>
<circle cx="350.9" cy="294.7" r="1.75"/>
<circle cx="337.6" cy="289.4" r="1.75"/>
<circle cx="378.4" cy="243.4" r="1.75"/>
<circle cx="389.7" cy="242.3" r="1.75"/>
<circle cx="400.0" cy="242.3" r="1.75"/>
<circle cx="395.4" cy="246.8" r="1.75"/>
<circle cx="376.1" cy="251.4" r="1.75"/>
<circle cx="370.4" cy="252.5" r="1.75"/>
<circle cx="364.7" cy="255.9" r="1.75"/>
<circle cx="360.2" cy="254.8" r="1.75"/>
<circle cx="355.6" cy="263.9" r="1.75"/>
<circle cx="367.0" cy="263.9" r="1.75"/>
<circle cx="372.7" cy="269.5" r="1.75"/>
<circle cx="373.8" cy="274.1" r="1.75"/>
<circle cx="360.2" cy="282.0" r="1.75"/>
<circle cx="387.5" cy="290.0" r="1.75"/>
<circle cx="405.6" cy="269.5" r="1.75"/>
<circle cx="410.2" cy="269.5" r="1.75"/>
<circle cx="351.1" cy="290.0" r="1.75"/>
<circle cx="357.9" cy="300.2" r="1.75"/>
<circle cx="363.6" cy="299.1" r="1.75"/>
<circle cx="367.0" cy="309.3" r="1.75"/>
<circle cx="370.4" cy="320.7" r="1.75"/>
<circle cx="352.2" cy="320.7" r="1.75"/>
<circle cx="297.7" cy="313.9" r="1.75"/>
<path d="M297.7,307.0 C299.0,303.8 302.8,293.0 305.6,287.7 C308.4,282.4 311.7,277.6 314.7,275.2 C317.7,272.8 320.6,272.8 323.8,273.0 C327.0,273.2 330.6,276.8 334.0,276.4 C337.4,276.0 340.0,272.7 344.3,270.7 C348.6,268.7 353.6,266.2 360.0,264.5 C366.4,262.8 374.7,261.5 383.0,260.5 C391.3,259.5 405.5,258.9 410.0,258.6" fill="none" stroke="#3366ff" stroke-width="1.6" stroke-linecap="round"/>
<rect x="292.4" y="215.7" width="123.5" height="136.3" fill="none" stroke="#a8a8a8" stroke-width="1"/>
<text transform="translate(414.4 225.1) scale(0.87 1)" font-size="9" fill="#ff3d33" text-anchor="end">partial.cor = 0.153</text>
<text transform="translate(412.2 233.3) scale(0.87 1)" font-size="9" fill="#ff3d33" text-anchor="end" xml:space="preserve">p = <tspan font-weight="bold" font-size="7.8" letter-spacing="1.2" fill="#f8203a" stroke="#f8203a" stroke-width="0.3">0.0087</tspan></text>
<text transform="translate(334.7 362.2) scale(0.8 1)" font-size="7.6" fill="#7a7a7a" text-anchor="middle">0.1</text>
<line x1="334.7" y1="352.0" x2="334.7" y2="353.6" stroke="#999" stroke-width="0.8"/>
<text transform="translate(379.0 362.2) scale(0.8 1)" font-size="7.6" fill="#7a7a7a" text-anchor="middle">0.2</text>
<line x1="379.0" y1="352.0" x2="379.0" y2="353.6" stroke="#999" stroke-width="0.8"/>
<rect x="420.2" y="201.2" width="123.90000000000003" height="14.5" fill="#d9d9d9" stroke="#a6a6a6" stroke-width="1.1"/>
<text x="453.1" y="211.4" font-size="8.2" fill="#222" textLength="49.7" lengthAdjust="spacingAndGlyphs">Dendritic Cell</text>
<rect x="420.2" y="215.7" width="123.90000000000003" height="136.3" fill="#fff"/>
<line x1="444.1" y1="215.7" x2="444.1" y2="352.0" stroke="#f3f3f3" stroke-width="0.6"/>
<line x1="471.5" y1="215.7" x2="471.5" y2="352.0" stroke="#f3f3f3" stroke-width="0.6"/>
<line x1="498.9" y1="215.7" x2="498.9" y2="352.0" stroke="#f3f3f3" stroke-width="0.6"/>
<line x1="526.3" y1="215.7" x2="526.3" y2="352.0" stroke="#f3f3f3" stroke-width="0.6"/>
<line x1="420.2" y1="231.2" x2="544.1" y2="231.2" stroke="#f3f3f3" stroke-width="0.6"/>
<line x1="420.2" y1="250.5" x2="544.1" y2="250.5" stroke="#f3f3f3" stroke-width="0.6"/>
<line x1="420.2" y1="269.8" x2="544.1" y2="269.8" stroke="#f3f3f3" stroke-width="0.6"/>
<line x1="420.2" y1="289.1" x2="544.1" y2="289.1" stroke="#f3f3f3" stroke-width="0.6"/>
<line x1="420.2" y1="308.4" x2="544.1" y2="308.4" stroke="#f3f3f3" stroke-width="0.6"/>
<line x1="420.2" y1="327.7" x2="544.1" y2="327.7" stroke="#f3f3f3" stroke-width="0.6"/>
<line x1="420.2" y1="347.0" x2="544.1" y2="347.0" stroke="#f3f3f3" stroke-width="0.6"/>
<line x1="430.4" y1="215.7" x2="430.4" y2="352.0" stroke="#e6e6e6" stroke-width="0.9"/>
<line x1="457.8" y1="215.7" x2="457.8" y2="352.0" stroke="#e6e6e6" stroke-width="0.9"/>
<line x1="483.8" y1="215.7" x2="483.8" y2="352.0" stroke="#e6e6e6" stroke-width="0.9"/>
<line x1="510.5" y1="215.7" x2="510.5" y2="352.0" stroke="#e6e6e6" stroke-width="0.9"/>
<line x1="537.3" y1="215.7" x2="537.3" y2="352.0" stroke="#e6e6e6" stroke-width="0.9"/>
<line x1="420.2" y1="231.2" x2="544.1" y2="231.2" stroke="#e6e6e6" stroke-width="0.9"/>
<line x1="420.2" y1="269.8" x2="544.1" y2="269.8" stroke="#e6e6e6" stroke-width="0.9"/>
<line x1="420.2" y1="308.8" x2="544.1" y2="308.8" stroke="#e6e6e6" stroke-width="0.9"/>
<line x1="420.2" y1="348.0" x2="544.1" y2="348.0" stroke="#e6e6e6" stroke-width="0.9"/>
<path d="M425.7,256.0 C429.7,257.9 441.0,265.6 449.5,267.3 C458.0,269.0 466.6,267.9 476.8,266.0 C487.1,264.1 500.8,260.7 511.0,256.0 C521.2,251.3 533.7,240.8 538.2,237.7 L538.2,304.8 C533.7,301.2 521.2,287.7 511.0,283.0 C500.8,278.3 487.1,277.7 476.8,276.4 C466.6,275.1 455.9,274.4 449.5,275.2 C443.1,276.0 442.2,276.6 438.2,281.0 C434.2,285.4 427.8,298.0 425.7,301.4 Z" fill="#bdbdbd" fill-opacity="0.6"/>
<circle cx="455.7" cy="274.7" r="1.75"/>
<circle cx="463.0" cy="264.8" r="1.75"/>
<circle cx="458.5" cy="259.7" r="1.75"/>
<circle cx="458.9" cy="257.0" r="1.75"/>
<circle cx="445.0" cy="251.0" r="1.75"/>
<circle cx="440.8" cy="259.4" r="1.75"/>
<circle cx="458.7" cy="269.3" r="1.75"/>
<circle cx="458.2" cy="259.7" r="1.75"/>
<circle cx="459.8" cy="257.7" r="1.75"/>
<circle cx="434.0" cy="265.3" r="1.75"/>
<circle cx="448.4" cy="259.4" r="1.75"/>
<circle cx="450.4" cy="278.6" r="1.75"/>
<circle cx="464.8" cy="260.8" r="1.75"/>
<circle cx="441.5" cy="264.2" r="1.75"/>
<circle cx="443.9" cy="266.1" r="1.75"/>
<circle cx="437.5" cy="257.2" r="1.75"/>
<circle cx="462.7" cy="251.6" r="1.75"/>
<circle cx="454.3" cy="259.0" r="1.75"/>
<circle cx="462.9" cy="254.3" r="1.75"/>
<circle cx="460.3" cy="272.9" r="1.75"/>
<circle cx="437.8" cy="251.6" r="1.75"/>
<circle cx="458.0" cy="253.1" r="1.75"/>
<circle cx="439.3" cy="268.3" r="1.75"/>
<circle cx="463.2" cy="265.9" r="1.75"/>
<circle cx="464.5" cy="263.2" r="1.75"/>
<circle cx="444.8" cy="240.6" r="1.75"/>
<circle cx="458.6" cy="250.1" r="1.75"/>
<circle cx="453.8" cy="260.8" r="1.75"/>
<circle cx="440.3" cy="255.5" r="1.75"/>
<circle cx="471.5" cy="263.6" r="1.75"/>
<circle cx="436.5" cy="256.5" r="1.75"/>
<circle cx="453.4" cy="262.1" r="1.75"/>
<circle cx="461.1" cy="257.5" r="1.75"/>
<circle cx="450.9" cy="264.3" r="1.75"/>
<circle cx="438.4" cy="266.3" r="1.75"/>
<circle cx="456.8" cy="254.3" r="1.75"/>
<circle cx="447.2" cy="259.6" r="1.75"/>
<circle cx="437.9" cy="240.8" r="1.75"/>
<circle cx="457.1" cy="268.4" r="1.75"/>
<circle cx="451.5" cy="258.1" r="1.75"/>
<circle cx="452.8" cy="250.6" r="1.75"/>
<circle cx="457.1" cy="263.6" r="1.75"/>
<circle cx="453.2" cy="264.1" r="1.75"/>
<circle cx="442.2" cy="259.4" r="1.75"/>
<circle cx="445.0" cy="253.9" r="1.75"/>
<circle cx="455.5" cy="258.7" r="1.75"/>
<circle cx="461.5" cy="262.3" r="1.75"/>
<circle cx="440.4" cy="266.8" r="1.75"/>
<circle cx="436.3" cy="256.7" r="1.75"/>
<circle cx="455.6" cy="256.7" r="1.75"/>
<circle cx="457.5" cy="257.4" r="1.75"/>
<circle cx="442.1" cy="263.0" r="1.75"/>
<circle cx="451.6" cy="250.5" r="1.75"/>
<circle cx="452.7" cy="256.9" r="1.75"/>
<circle cx="455.5" cy="252.9" r="1.75"/>
<circle cx="453.8" cy="255.7" r="1.75"/>
<circle cx="468.5" cy="254.4" r="1.75"/>
<circle cx="465.1" cy="256.4" r="1.75"/>
<circle cx="463.6" cy="273.7" r="1.75"/>
<circle cx="448.1" cy="258.0" r="1.75"/>
<circle cx="442.8" cy="252.0" r="1.75"/>
<circle cx="446.3" cy="257.7" r="1.75"/>
<circle cx="461.5" cy="263.4" r="1.75"/>
<circle cx="447.0" cy="258.1" r="1.75"/>
<circle cx="437.1" cy="261.2" r="1.75"/>
<circle cx="449.6" cy="249.3" r="1.75"/>
<circle cx="444.6" cy="261.1" r="1.75"/>
<circle cx="453.0" cy="261.6" r="1.75"/>
<circle cx="447.5" cy="258.1" r="1.75"/>
<circle cx="449.6" cy="246.1" r="1.75"/>
<circle cx="450.4" cy="256.0" r="1.75"/>
<circle cx="445.0" cy="262.6" r="1.75"/>
<circle cx="473.8" cy="267.2" r="1.75"/>
<circle cx="452.4" cy="248.7" r="1.75"/>
<circle cx="450.1" cy="252.5" r="1.75"/>
<circle cx="453.6" cy="265.5" r="1.75"/>
<circle cx="451.5" cy="246.9" r="1.75"/>
<circle cx="465.8" cy="257.4" r="1.75"/>
<circle cx="465.9" cy="250.7" r="1.75"/>
<circle cx="477.4" cy="248.3" r="1.75"/>
<circle cx="453.4" cy="262.8" r="1.75"/>
<circle cx="425.8" cy="251.4" r="1.75"/>
<circle cx="435.8" cy="269.2" r="1.75"/>
<circle cx="459.1" cy="250.2" r="1.75"/>
<circle cx="434.3" cy="244.6" r="1.75"/>
<circle cx="453.7" cy="251.3" r="1.75"/>
<circle cx="455.7" cy="253.2" r="1.75"/>
<circle cx="434.7" cy="269.9" r="1.75"/>
<circle cx="457.0" cy="252.0" r="1.75"/>
<circle cx="448.5" cy="266.3" r="1.75"/>
<circle cx="460.3" cy="248.1" r="1.75"/>
<circle cx="466.9" cy="252.6" r="1.75"/>
<circle cx="457.9" cy="248.4" r="1.75"/>
<circle cx="445.2" cy="262.6" r="1.75"/>
<circle cx="439.8" cy="257.5" r="1.75"/>
<circle cx="456.2" cy="252.3" r="1.75"/>
<circle cx="466.8" cy="261.8" r="1.75"/>
<circle cx="450.6" cy="264.2" r="1.75"/>
<circle cx="465.9" cy="265.8" r="1.75"/>
<circle cx="450.8" cy="262.7" r="1.75"/>
<circle cx="456.0" cy="249.2" r="1.75"/>
<circle cx="448.4" cy="271.4" r="1.75"/>
<circle cx="443.9" cy="260.5" r="1.75"/>
<circle cx="469.3" cy="254.3" r="1.75"/>
<circle cx="451.9" cy="251.7" r="1.75"/>
<circle cx="457.2" cy="248.3" r="1.75"/>
<circle cx="456.6" cy="251.1" r="1.75"/>
<circle cx="455.4" cy="244.8" r="1.75"/>
<circle cx="440.9" cy="263.6" r="1.75"/>
<circle cx="458.0" cy="235.3" r="1.75"/>
<circle cx="467.4" cy="251.1" r="1.75"/>
<circle cx="461.0" cy="264.3" r="1.75"/>
<circle cx="450.3" cy="254.3" r="1.75"/>
<circle cx="432.4" cy="260.3" r="1.75"/>
<circle cx="470.9" cy="248.1" r="1.75"/>
<circle cx="463.4" cy="262.3" r="1.75"/>
<circle cx="461.6" cy="249.4" r="1.75"/>
<circle cx="450.8" cy="258.8" r="1.75"/>
<circle cx="469.3" cy="250.3" r="1.75"/>
<circle cx="446.6" cy="251.5" r="1.75"/>
<circle cx="460.7" cy="245.7" r="1.75"/>
<circle cx="449.9" cy="247.6" r="1.75"/>
<circle cx="448.5" cy="262.3" r="1.75"/>
<circle cx="446.4" cy="261.9" r="1.75"/>
<circle cx="447.1" cy="256.6" r="1.75"/>
<circle cx="450.3" cy="250.6" r="1.75"/>
<circle cx="456.1" cy="261.5" r="1.75"/>
<circle cx="443.8" cy="261.8" r="1.75"/>
<circle cx="452.9" cy="253.9" r="1.75"/>
<circle cx="453.4" cy="262.7" r="1.75"/>
<circle cx="459.4" cy="267.4" r="1.75"/>
<circle cx="454.5" cy="258.4" r="1.75"/>
<circle cx="436.7" cy="253.1" r="1.75"/>
<circle cx="457.8" cy="249.0" r="1.75"/>
<circle cx="442.4" cy="269.8" r="1.75"/>
<circle cx="451.0" cy="249.0" r="1.75"/>
<circle cx="430.4" cy="250.7" r="1.75"/>
<circle cx="475.1" cy="256.7" r="1.75"/>
<circle cx="458.0" cy="261.6" r="1.75"/>
<circle cx="446.9" cy="259.3" r="1.75"/>
<circle cx="452.3" cy="254.5" r="1.75"/>
<circle cx="462.1" cy="251.0" r="1.75"/>
<circle cx="444.2" cy="252.3" r="1.75"/>
<circle cx="464.1" cy="253.4" r="1.75"/>
<circle cx="470.0" cy="247.4" r="1.75"/>
<circle cx="441.8" cy="238.3" r="1.75"/>
<circle cx="442.5" cy="257.4" r="1.75"/>
<circle cx="458.8" cy="249.9" r="1.75"/>
<circle cx="446.5" cy="266.9" r="1.75"/>
<circle cx="446.8" cy="257.6" r="1.75"/>
<circle cx="458.2" cy="250.0" r="1.75"/>
<circle cx="464.2" cy="255.5" r="1.75"/>
<circle cx="484.0" cy="246.3" r="1.75"/>
<circle cx="437.9" cy="257.2" r="1.75"/>
<circle cx="473.1" cy="270.9" r="1.75"/>
<circle cx="465.4" cy="238.7" r="1.75"/>
<circle cx="449.2" cy="234.6" r="1.75"/>
<circle cx="447.8" cy="276.5" r="1.75"/>
<circle cx="446.2" cy="265.2" r="1.75"/>
<circle cx="463.8" cy="239.6" r="1.75"/>
<circle cx="468.1" cy="236.7" r="1.75"/>
<circle cx="435.8" cy="259.7" r="1.75"/>
<circle cx="432.2" cy="277.4" r="1.75"/>
<circle cx="451.2" cy="262.0" r="1.75"/>
<circle cx="485.8" cy="238.0" r="1.75"/>
<circle cx="487.9" cy="234.8" r="1.75"/>
<circle cx="462.5" cy="263.2" r="1.75"/>
<circle cx="487.1" cy="249.5" r="1.75"/>
<circle cx="484.6" cy="262.9" r="1.75"/>
<circle cx="454.5" cy="240.8" r="1.75"/>
<circle cx="439.1" cy="249.8" r="1.75"/>
<circle cx="446.2" cy="250.1" r="1.75"/>
<circle cx="475.7" cy="250.2" r="1.75"/>
<circle cx="464.2" cy="234.8" r="1.75"/>
<circle cx="433.0" cy="265.7" r="1.75"/>
<circle cx="481.0" cy="247.4" r="1.75"/>
<circle cx="457.7" cy="314.5" r="1.75"/>
<circle cx="447.1" cy="320.3" r="1.75"/>
<circle cx="445.7" cy="309.8" r="1.75"/>
<circle cx="443.5" cy="299.0" r="1.75"/>
<circle cx="454.7" cy="296.9" r="1.75"/>
<circle cx="446.6" cy="309.1" r="1.75"/>
<circle cx="455.6" cy="306.1" r="1.75"/>
<circle cx="457.6" cy="304.6" r="1.75"/>
<circle cx="445.5" cy="304.5" r="1.75"/>
<circle cx="447.8" cy="305.5" r="1.75"/>
<circle cx="440.5" cy="305.3" r="1.75"/>
<circle cx="445.0" cy="323.4" r="1.75"/>
<circle cx="443.3" cy="316.0" r="1.75"/>
<circle cx="444.5" cy="321.4" r="1.75"/>
<circle cx="450.8" cy="307.0" r="1.75"/>
<circle cx="461.0" cy="327.8" r="1.75"/>
<circle cx="464.1" cy="322.4" r="1.75"/>
<circle cx="452.3" cy="306.0" r="1.75"/>
<circle cx="448.0" cy="307.2" r="1.75"/>
<circle cx="455.9" cy="308.5" r="1.75"/>
<circle cx="453.6" cy="314.8" r="1.75"/>
<circle cx="450.9" cy="306.2" r="1.75"/>
<circle cx="443.4" cy="338.3" r="1.75"/>
<circle cx="450.9" cy="296.7" r="1.75"/>
<circle cx="441.8" cy="306.4" r="1.75"/>
<circle cx="466.6" cy="314.3" r="1.75"/>
<circle cx="444.5" cy="330.3" r="1.75"/>
<circle cx="436.9" cy="324.3" r="1.75"/>
<circle cx="474.4" cy="313.1" r="1.75"/>
<circle cx="459.9" cy="319.8" r="1.75"/>
<circle cx="428.7" cy="316.4" r="1.75"/>
<circle cx="447.3" cy="285.3" r="1.75"/>
<circle cx="459.0" cy="307.1" r="1.75"/>
<circle cx="454.7" cy="317.5" r="1.75"/>
<circle cx="447.0" cy="289.2" r="1.75"/>
<circle cx="448.2" cy="305.1" r="1.75"/>
<circle cx="442.4" cy="304.6" r="1.75"/>
<circle cx="451.8" cy="328.4" r="1.75"/>
<circle cx="452.6" cy="315.3" r="1.75"/>
<circle cx="460.5" cy="317.5" r="1.75"/>
<circle cx="450.1" cy="306.3" r="1.75"/>
<circle cx="442.2" cy="322.3" r="1.75"/>
<circle cx="451.2" cy="325.1" r="1.75"/>
<circle cx="445.5" cy="306.9" r="1.75"/>
<circle cx="455.2" cy="327.8" r="1.75"/>
<circle cx="450.4" cy="306.8" r="1.75"/>
<circle cx="456.1" cy="299.3" r="1.75"/>
<circle cx="461.3" cy="300.0" r="1.75"/>
<circle cx="439.3" cy="313.6" r="1.75"/>
<circle cx="447.4" cy="326.4" r="1.75"/>
<circle cx="458.4" cy="317.6" r="1.75"/>
<circle cx="435.4" cy="312.2" r="1.75"/>
<circle cx="444.9" cy="293.0" r="1.75"/>
<circle cx="466.5" cy="293.5" r="1.75"/>
<circle cx="443.8" cy="303.7" r="1.75"/>
<circle cx="446.5" cy="314.4" r="1.75"/>
<circle cx="455.2" cy="299.9" r="1.75"/>
<circle cx="455.1" cy="319.3" r="1.75"/>
<circle cx="454.3" cy="328.7" r="1.75"/>
<circle cx="447.6" cy="309.2" r="1.75"/>
<circle cx="460.6" cy="285.0" r="1.75"/>
<circle cx="441.3" cy="283.1" r="1.75"/>
<circle cx="474.7" cy="278.3" r="1.75"/>
<circle cx="439.9" cy="285.5" r="1.75"/>
<circle cx="467.6" cy="290.7" r="1.75"/>
<circle cx="447.4" cy="288.3" r="1.75"/>
<circle cx="434.5" cy="282.2" r="1.75"/>
<circle cx="468.4" cy="286.6" r="1.75"/>
<circle cx="449.5" cy="285.6" r="1.75"/>
<circle cx="451.4" cy="284.8" r="1.75"/>
<circle cx="469.7" cy="291.6" r="1.75"/>
<circle cx="438.2" cy="288.1" r="1.75"/>
<circle cx="492.7" cy="241.1" r="1.75"/>
<circle cx="498.4" cy="246.8" r="1.75"/>
<circle cx="504.1" cy="251.4" r="1.75"/>
<circle cx="488.2" cy="249.1" r="1.75"/>
<circle cx="485.9" cy="254.8" r="1.75"/>
<circle cx="483.6" cy="261.6" r="1.75"/>
<circle cx="480.2" cy="267.3" r="1.75"/>
<circle cx="515.5" cy="259.3" r="1.75"/>
<circle cx="516.6" cy="290.0" r="1.75"/>
<circle cx="535.9" cy="269.5" r="1.75"/>
<circle cx="538.2" cy="269.5" r="1.75"/>
<circle cx="481.4" cy="284.3" r="1.75"/>
<circle cx="483.6" cy="294.5" r="1.75"/>
<circle cx="478.0" cy="301.4" r="1.75"/>
<circle cx="478.0" cy="308.2" r="1.75"/>
<circle cx="474.5" cy="315.0" r="1.75"/>
<circle cx="480.2" cy="328.6" r="1.75"/>
<circle cx="473.4" cy="321.8" r="1.75"/>
<path d="M425.7,277.5 C428.2,276.6 436.5,273.1 440.5,272.3 C444.5,271.6 447.2,272.4 449.5,273.0 C451.8,273.6 452.1,276.2 454.0,276.0 C455.9,275.8 455.3,273.2 461.0,271.8 C466.7,270.4 479.1,268.8 488.2,267.7 C497.3,266.6 506.8,265.0 515.5,265.5 C524.2,266.0 536.3,269.8 540.5,270.7" fill="none" stroke="#3366ff" stroke-width="1.6" stroke-linecap="round"/>
<rect x="420.2" y="215.7" width="123.90000000000003" height="136.3" fill="none" stroke="#a8a8a8" stroke-width="1"/>
<text transform="translate(542.6 225.1) scale(0.87 1)" font-size="9" fill="#ff3d33" text-anchor="end">partial.cor = 0.05</text>
<text transform="translate(539.2 233.3) scale(0.87 1)" font-size="9" fill="#ff3d33" text-anchor="end" xml:space="preserve">p =  <tspan font-weight="bold" font-size="7.8" letter-spacing="1.2" fill="#f8203a" stroke="#f8203a" stroke-width="0.3">0.396</tspan></text>
<text transform="translate(430.4 362.2) scale(0.8 1)" font-size="7.6" fill="#7a7a7a" text-anchor="middle">0.25</text>
<line x1="430.4" y1="352.0" x2="430.4" y2="353.6" stroke="#999" stroke-width="0.8"/>
<text transform="translate(457.8 362.2) scale(0.8 1)" font-size="7.6" fill="#7a7a7a" text-anchor="middle">0.50</text>
<line x1="457.8" y1="352.0" x2="457.8" y2="353.6" stroke="#999" stroke-width="0.8"/>
<text transform="translate(483.8 362.2) scale(0.8 1)" font-size="7.6" fill="#7a7a7a" text-anchor="middle">0.75</text>
<line x1="483.8" y1="352.0" x2="483.8" y2="353.6" stroke="#999" stroke-width="0.8"/>
<text transform="translate(510.5 362.2) scale(0.8 1)" font-size="7.6" fill="#7a7a7a" text-anchor="middle">1.00</text>
<line x1="510.5" y1="352.0" x2="510.5" y2="353.6" stroke="#999" stroke-width="0.8"/>
<text transform="translate(537.3 362.2) scale(0.8 1)" font-size="7.6" fill="#7a7a7a" text-anchor="middle">1.25</text>
<line x1="537.3" y1="352.0" x2="537.3" y2="353.6" stroke="#999" stroke-width="0.8"/>
<rect x="22.6" y="215.7" width="12.600000000000001" height="136.3" fill="#d9d9d9" stroke="#a6a6a6" stroke-width="1.1"/>
<text x="31.5" y="283.9" font-size="7.6" fill="#444" text-anchor="middle" transform="rotate(-90 31.5 283.9)">UCEC</text>
<line x1="20.8" y1="231.2" x2="22.6" y2="231.2" stroke="#999" stroke-width="0.8"/>
<text x="17.0" y="233.6" font-size="6.6" fill="#7a7a7a" text-anchor="middle" transform="translate(17.0 0) scale(0.8 1) translate(-17.0 0)">6</text>
<line x1="20.8" y1="269.8" x2="22.6" y2="269.8" stroke="#999" stroke-width="0.8"/>
<text x="17.0" y="272.2" font-size="6.6" fill="#7a7a7a" text-anchor="middle" transform="translate(17.0 0) scale(0.8 1) translate(-17.0 0)">4</text>
<line x1="20.8" y1="308.8" x2="22.6" y2="308.8" stroke="#999" stroke-width="0.8"/>
<text x="17.0" y="311.2" font-size="6.6" fill="#7a7a7a" text-anchor="middle" transform="translate(17.0 0) scale(0.8 1) translate(-17.0 0)">2</text>
<line x1="20.8" y1="348.0" x2="22.6" y2="348.0" stroke="#999" stroke-width="0.8"/>
<text x="17.0" y="350.4" font-size="6.6" fill="#7a7a7a" text-anchor="middle" transform="translate(17.0 0) scale(0.8 1) translate(-17.0 0)">0</text>
<text x="0" y="0" font-size="9.1" fill="#2a2a2a" text-anchor="middle" transform="translate(15.0,114.0) rotate(-90)">MLH1 Expression Level (log2 TPM)</text>
<text x="0" y="0" font-size="9.1" fill="#2a2a2a" text-anchor="middle" transform="translate(12.4,284.3) rotate(-90)">MLH1 Expression Level (log2 TPM)</text>
<text x="290" y="373" font-size="7.9" fill="#333" text-anchor="middle">Infiltration Level</text>
<text x="8.2" y="396.6" class="serif" font-size="13.35" fill="#1a1a1a">B. Commutative survival associated to immune cells</text>
<rect x="26.8" y="408.5" width="121.8" height="13.100000000000023" fill="#d9d9d9"/>
<text x="78.9" y="417.9" font-size="8.0" fill="#222" textLength="19.6" lengthAdjust="spacingAndGlyphs">B Cell</text>
<rect x="26.8" y="421.6" width="122.60000000000001" height="129.0" fill="#fff"/>
<line x1="31.3" y1="421.6" x2="31.3" y2="550.6" stroke="#ebebeb" stroke-width="0.9"/>
<line x1="43.6" y1="421.6" x2="43.6" y2="550.6" stroke="#f4f4f4" stroke-width="0.6"/>
<line x1="55.9" y1="421.6" x2="55.9" y2="550.6" stroke="#ebebeb" stroke-width="0.9"/>
<line x1="68.2" y1="421.6" x2="68.2" y2="550.6" stroke="#f4f4f4" stroke-width="0.6"/>
<line x1="80.5" y1="421.6" x2="80.5" y2="550.6" stroke="#ebebeb" stroke-width="0.9"/>
<line x1="92.9" y1="421.6" x2="92.9" y2="550.6" stroke="#f4f4f4" stroke-width="0.6"/>
<line x1="105.2" y1="421.6" x2="105.2" y2="550.6" stroke="#ebebeb" stroke-width="0.9"/>
<line x1="117.5" y1="421.6" x2="117.5" y2="550.6" stroke="#f4f4f4" stroke-width="0.6"/>
<line x1="129.8" y1="421.6" x2="129.8" y2="550.6" stroke="#ebebeb" stroke-width="0.9"/>
<line x1="142.1" y1="421.6" x2="142.1" y2="550.6" stroke="#f4f4f4" stroke-width="0.6"/>
<line x1="26.8" y1="427.0" x2="149.4" y2="427.0" stroke="#ebebeb" stroke-width="0.9"/>
<line x1="26.8" y1="446.8" x2="149.4" y2="446.8" stroke="#f4f4f4" stroke-width="0.6"/>
<line x1="26.8" y1="466.5" x2="149.4" y2="466.5" stroke="#ebebeb" stroke-width="0.9"/>
<line x1="26.8" y1="486.3" x2="149.4" y2="486.3" stroke="#f4f4f4" stroke-width="0.6"/>
<line x1="26.8" y1="506.1" x2="149.4" y2="506.1" stroke="#ebebeb" stroke-width="0.9"/>
<line x1="26.8" y1="525.8" x2="149.4" y2="525.8" stroke="#f4f4f4" stroke-width="0.6"/>
<line x1="26.8" y1="545.6" x2="149.4" y2="545.6" stroke="#ebebeb" stroke-width="0.9"/>
<polyline points="30.8,426.1 50.5,461.5 68.2,461.5 69.8,468.0 70.6,471.3 87.0,471.3 87.0,490.6 144.3,490.6" fill="none" stroke="#ee6464" stroke-width="1.2"/>
<polyline points="49.0,462.0 52.0,469.5 54.0,476.7 58.5,481.0 61.4,484.0 62.8,488.4 63.5,491.8 82.1,491.8 82.1,508.1 86.2,508.1 86.2,545.0 125.5,545.0" fill="none" stroke="#6464ee" stroke-width="1.2"/>
<polyline points="30.8,426.1 35.2,431.6 39.5,437.5 42.5,442.5 45.4,449.0 47.5,455.0 49.0,458.5 50.5,462.2" fill="none" stroke="#7c7c7c" stroke-width="5.20" stroke-linecap="round" stroke-linejoin="round"/>
<path d="M29.8,427.0h3.2M31.4,425.4v3.2M29.7,428.1h3.2M31.3,426.5v3.2M31.1,429.7h3.2M32.7,428.1v3.2M31.7,430.9h3.2M33.3,429.3v3.2M32.0,431.6h3.2M33.6,430.0v3.2M34.9,431.9h3.2M36.5,430.3v3.2M35.4,432.4h3.2M37.0,430.8v3.2M36.9,434.5h3.2M38.5,432.9v3.2M35.7,437.1h3.2M37.3,435.5v3.2M38.5,436.2h3.2M40.1,434.6v3.2M37.0,438.7h3.2M38.6,437.1v3.2M39.0,438.5h3.2M40.6,436.9v3.2M38.7,441.0h3.2M40.3,439.4v3.2M40.1,441.8h3.2M41.7,440.2v3.2M41.8,442.2h3.2M43.4,440.6v3.2M41.1,445.0h3.2M42.7,443.4v3.2M40.8,446.0h3.2M42.4,444.4v3.2M41.5,447.2h3.2M43.1,445.6v3.2M43.3,447.9h3.2M44.9,446.3v3.2M44.6,449.7h3.2M46.2,448.1v3.2M44.2,451.2h3.2M45.8,449.6v3.2M43.8,453.2h3.2M45.4,451.6v3.2M45.4,454.2h3.2M47.0,452.6v3.2M47.3,455.6h3.2M48.9,454.0v3.2M47.1,457.0h3.2M48.7,455.4v3.2M46.5,460.0h3.2M48.1,458.4v3.2M49.3,459.5h3.2M50.9,457.9v3.2M49.6,461.3h3.2M51.2,459.7v3.2" stroke="#5a5a5a" stroke-width="0.9" fill="none"/>
<polyline points="50.5,461.5 68.6,461.5" fill="none" stroke="#7c7c7c" stroke-width="3.60" stroke-linecap="round" stroke-linejoin="round"/>
<path d="M49.5,461.7h3.2M51.1,460.1v3.2M51.4,462.1h3.2M53.0,460.5v3.2M52.2,462.0h3.2M53.8,460.4v3.2M53.8,461.1h3.2M55.4,459.5v3.2M54.9,461.0h3.2M56.5,459.4v3.2M56.4,462.0h3.2M58.0,460.4v3.2M58.4,461.5h3.2M60.0,459.9v3.2M59.7,461.7h3.2M61.3,460.1v3.2M60.7,461.2h3.2M62.3,459.6v3.2M62.7,461.1h3.2M64.3,459.5v3.2M63.0,461.9h3.2M64.6,460.3v3.2M65.5,460.9h3.2M67.1,459.3v3.2M66.7,462.3h3.2M68.3,460.7v3.2" stroke="#5a5a5a" stroke-width="0.9" fill="none"/>
<polyline points="70.6,471.3 81.3,471.3" fill="none" stroke="#7c7c7c" stroke-width="3.40" stroke-linecap="round" stroke-linejoin="round"/>
<path d="M70.0,471.2h3.2M71.6,469.6v3.2M70.4,471.9h3.2M72.0,470.3v3.2M72.3,471.1h3.2M73.9,469.5v3.2M74.0,470.6h3.2M75.6,469.0v3.2M74.6,470.8h3.2M76.2,469.2v3.2M76.0,470.6h3.2M77.6,469.0v3.2M78.3,471.7h3.2M79.9,470.1v3.2M78.9,471.2h3.2M80.5,469.6v3.2" stroke="#5a5a5a" stroke-width="0.9" fill="none"/>
<polyline points="49.0,462.0 52.0,469.5 54.0,476.7 58.5,481.0 61.4,484.0 62.8,488.4 63.5,491.5 80.3,491.5" fill="none" stroke="#7c7c7c" stroke-width="3.60" stroke-linecap="round" stroke-linejoin="round"/>
<path d="M47.2,462.8h3.2M48.8,461.2v3.2M47.6,463.5h3.2M49.2,461.9v3.2M49.4,464.8h3.2M51.0,463.2v3.2M49.1,466.5h3.2M50.7,464.9v3.2M50.1,467.8h3.2M51.7,466.2v3.2M50.3,468.2h3.2M51.9,466.6v3.2M50.1,470.1h3.2M51.7,468.5v3.2M51.7,472.2h3.2M53.3,470.6v3.2M51.7,472.3h3.2M53.3,470.7v3.2M52.3,474.0h3.2M53.9,472.4v3.2M52.4,475.9h3.2M54.0,474.3v3.2M52.2,477.1h3.2M53.8,475.5v3.2M54.1,478.0h3.2M55.7,476.4v3.2M55.5,479.5h3.2M57.1,477.9v3.2M55.7,480.1h3.2M57.3,478.5v3.2M57.2,481.6h3.2M58.8,480.0v3.2M58.5,482.6h3.2M60.1,481.0v3.2M59.6,484.1h3.2M61.2,482.5v3.2M59.5,484.6h3.2M61.1,483.0v3.2M60.5,485.8h3.2M62.1,484.2v3.2M61.0,487.1h3.2M62.6,485.5v3.2M61.4,489.8h3.2M63.0,488.2v3.2M61.1,490.1h3.2M62.7,488.5v3.2M62.2,491.6h3.2M63.8,490.0v3.2M63.6,492.3h3.2M65.2,490.7v3.2M65.6,492.1h3.2M67.2,490.5v3.2M66.3,492.2h3.2M67.9,490.6v3.2M67.6,491.9h3.2M69.2,490.3v3.2M70.1,491.4h3.2M71.7,489.8v3.2M70.6,491.2h3.2M72.2,489.6v3.2M71.7,491.4h3.2M73.3,489.8v3.2M73.9,492.0h3.2M75.5,490.4v3.2M74.8,492.1h3.2M76.4,490.5v3.2M76.5,492.1h3.2M78.1,490.5v3.2M78.5,492.3h3.2M80.1,490.7v3.2" stroke="#5a5a5a" stroke-width="0.9" fill="none"/>
<path d="M87.0,490.6h3.2M88.6,489.0v3.2" stroke="#888" stroke-width="0.8"/>
<path d="M91.9,490.6h3.2M93.5,489.0v3.2" stroke="#888" stroke-width="0.8"/>
<path d="M93.6,490.6h3.2M95.2,489.0v3.2" stroke="#888" stroke-width="0.8"/>
<path d="M104.2,490.6h3.2M105.8,489.0v3.2" stroke="#888" stroke-width="0.8"/>
<path d="M141.9,490.6h3.2M143.5,489.0v3.2" stroke="#888" stroke-width="0.8"/>
<path d="M88.7,545.0h3.2M90.3,543.4v3.2" stroke="#888" stroke-width="0.8"/>
<path d="M97.7,545.0h3.2M99.3,543.4v3.2" stroke="#888" stroke-width="0.8"/>
<path d="M122.2,545.0h3.2M123.8,543.4v3.2" stroke="#888" stroke-width="0.8"/>
<path d="M84.6,525.3h3.2M86.2,523.7v3.2" stroke="#888" stroke-width="0.8"/>
<rect x="26.8" y="421.6" width="122.60000000000001" height="129.0" fill="none" stroke="#c8c8c8" stroke-width="0.9"/>
<rect x="79.2" y="422.4" width="69.2" height="13" fill="#fff"/>
<text x="85.2" y="431.6" font-size="7.6" font-weight="bold" fill="#111">Log-rank = 0.019</text>
<text x="23.8" y="429.2" font-size="6.3" fill="#8a8a8a" text-anchor="end">1.0</text>
<line x1="25.0" y1="427.0" x2="26.8" y2="427.0" stroke="#999" stroke-width="0.7"/>
<text x="23.8" y="468.7" font-size="6.3" fill="#8a8a8a" text-anchor="end">0.8</text>
<line x1="25.0" y1="466.5" x2="26.8" y2="466.5" stroke="#999" stroke-width="0.7"/>
<text x="23.8" y="508.3" font-size="6.3" fill="#8a8a8a" text-anchor="end">0.6</text>
<line x1="25.0" y1="506.1" x2="26.8" y2="506.1" stroke="#999" stroke-width="0.7"/>
<text x="23.8" y="547.8" font-size="6.3" fill="#8a8a8a" text-anchor="end">0.4</text>
<line x1="25.0" y1="545.6" x2="26.8" y2="545.6" stroke="#999" stroke-width="0.7"/>
<line x1="31.3" y1="550.6" x2="31.3" y2="552.1" stroke="#aaa" stroke-width="0.7"/>
<line x1="55.9" y1="550.6" x2="55.9" y2="552.1" stroke="#aaa" stroke-width="0.7"/>
<line x1="80.5" y1="550.6" x2="80.5" y2="552.1" stroke="#aaa" stroke-width="0.7"/>
<line x1="105.2" y1="550.6" x2="105.2" y2="552.1" stroke="#aaa" stroke-width="0.7"/>
<line x1="129.8" y1="550.6" x2="129.8" y2="552.1" stroke="#aaa" stroke-width="0.7"/>
<text transform="translate(32.0 563.5) scale(0.8 1)" font-size="9.2" font-weight="bold" fill="#111" text-anchor="middle">0</text>
<text transform="translate(57.8 563.5) scale(0.8 1)" font-size="9.2" font-weight="bold" fill="#111" text-anchor="middle">50</text>
<text transform="translate(82.0 563.5) scale(0.8 1)" font-size="9.2" font-weight="bold" fill="#111" text-anchor="middle">100</text>
<text transform="translate(108.0 563.5) scale(0.8 1)" font-size="9.2" font-weight="bold" fill="#111" text-anchor="middle">150</text>
<text transform="translate(134.2 563.5) scale(0.8 1)" font-size="9.2" font-weight="bold" fill="#111" text-anchor="middle">200</text>
<rect x="24.3" y="555.6" width="2.5" height="10.799999999999955" fill="#e2e2e2"/>
<rect x="153.3" y="408.5" width="122.59999999999997" height="13.100000000000023" fill="#d9d9d9"/>
<text x="196.7" y="417.9" font-size="8.0" fill="#222" textLength="39.3" lengthAdjust="spacingAndGlyphs">CD8+ T cell</text>
<rect x="153.3" y="421.6" width="122.59999999999997" height="129.0" fill="#fff"/>
<line x1="157.8" y1="421.6" x2="157.8" y2="550.6" stroke="#ebebeb" stroke-width="0.9"/>
<line x1="170.1" y1="421.6" x2="170.1" y2="550.6" stroke="#f4f4f4" stroke-width="0.6"/>
<line x1="182.4" y1="421.6" x2="182.4" y2="550.6" stroke="#ebebeb" stroke-width="0.9"/>
<line x1="194.7" y1="421.6" x2="194.7" y2="550.6" stroke="#f4f4f4" stroke-width="0.6"/>
<line x1="207.1" y1="421.6" x2="207.1" y2="550.6" stroke="#ebebeb" stroke-width="0.9"/>
<line x1="219.4" y1="421.6" x2="219.4" y2="550.6" stroke="#f4f4f4" stroke-width="0.6"/>
<line x1="231.7" y1="421.6" x2="231.7" y2="550.6" stroke="#ebebeb" stroke-width="0.9"/>
<line x1="244.0" y1="421.6" x2="244.0" y2="550.6" stroke="#f4f4f4" stroke-width="0.6"/>
<line x1="256.3" y1="421.6" x2="256.3" y2="550.6" stroke="#ebebeb" stroke-width="0.9"/>
<line x1="268.6" y1="421.6" x2="268.6" y2="550.6" stroke="#f4f4f4" stroke-width="0.6"/>
<line x1="153.3" y1="427.0" x2="275.9" y2="427.0" stroke="#ebebeb" stroke-width="0.9"/>
<line x1="153.3" y1="446.8" x2="275.9" y2="446.8" stroke="#f4f4f4" stroke-width="0.6"/>
<line x1="153.3" y1="466.5" x2="275.9" y2="466.5" stroke="#ebebeb" stroke-width="0.9"/>
<line x1="153.3" y1="486.3" x2="275.9" y2="486.3" stroke="#f4f4f4" stroke-width="0.6"/>
<line x1="153.3" y1="506.1" x2="275.9" y2="506.1" stroke="#ebebeb" stroke-width="0.9"/>
<line x1="153.3" y1="525.8" x2="275.9" y2="525.8" stroke="#f4f4f4" stroke-width="0.6"/>
<line x1="153.3" y1="545.6" x2="275.9" y2="545.6" stroke="#ebebeb" stroke-width="0.9"/>
<polyline points="157.9,426.5 174.3,450.0 181.4,454.8 188.0,458.0 194.5,460.8 200.0,463.6 209.1,464.4 209.1,474.5 270.9,474.5" fill="none" stroke="#ee6464" stroke-width="1.2"/>
<polyline points="173.7,455.9 180.3,465.7 191.2,474.5 202.0,478.8 207.3,480.0 212.7,480.0 212.7,521.8 214.5,521.8 214.5,544.5 221.8,544.5" fill="none" stroke="#6464ee" stroke-width="1.2"/>
<polyline points="157.9,426.5 161.0,430.5 165.0,435.5 168.0,440.0 170.5,444.0 172.5,447.5 174.3,450.5" fill="none" stroke="#7c7c7c" stroke-width="6.20" stroke-linecap="round" stroke-linejoin="round"/>
<path d="M156.8,427.9h3.2M158.4,426.3v3.2M156.1,429.2h3.2M157.7,427.6v3.2M157.7,430.0h3.2M159.3,428.4v3.2M161.4,430.8h3.2M163.0,429.2v3.2M161.4,431.1h3.2M163.0,429.5v3.2M160.2,434.7h3.2M161.8,433.1v3.2M161.4,435.5h3.2M163.0,433.9v3.2M163.3,437.0h3.2M164.9,435.4v3.2M164.3,437.9h3.2M165.9,436.3v3.2M164.6,438.2h3.2M166.2,436.6v3.2M167.0,438.2h3.2M168.6,436.6v3.2M168.7,439.8h3.2M170.3,438.2v3.2M166.9,441.7h3.2M168.5,440.1v3.2M168.8,443.3h3.2M170.4,441.7v3.2M168.6,444.7h3.2M170.2,443.1v3.2M168.5,445.8h3.2M170.1,444.2v3.2M170.0,447.2h3.2M171.6,445.6v3.2M171.2,449.0h3.2M172.8,447.4v3.2M170.2,450.3h3.2M171.8,448.7v3.2" stroke="#5a5a5a" stroke-width="0.9" fill="none"/>
<polyline points="174.3,450.0 181.4,454.8 188.0,458.0 194.5,460.8 200.0,463.6 207.3,464.4" fill="none" stroke="#7c7c7c" stroke-width="3.80" stroke-linecap="round" stroke-linejoin="round"/>
<path d="M173.0,450.3h3.2M174.6,448.7v3.2M174.9,450.9h3.2M176.5,449.3v3.2M175.9,452.2h3.2M177.5,450.6v3.2M177.3,452.8h3.2M178.9,451.2v3.2M177.9,453.5h3.2M179.5,451.9v3.2M179.4,453.5h3.2M181.0,451.9v3.2M180.2,455.3h3.2M181.8,453.7v3.2M182.5,455.5h3.2M184.1,453.9v3.2M182.5,456.7h3.2M184.1,455.1v3.2M183.8,457.7h3.2M185.4,456.1v3.2M186.1,456.9h3.2M187.7,455.3v3.2M186.8,458.8h3.2M188.4,457.2v3.2M187.9,459.0h3.2M189.5,457.4v3.2M189.1,459.4h3.2M190.7,457.8v3.2M190.6,460.2h3.2M192.2,458.6v3.2M191.6,460.8h3.2M193.2,459.2v3.2M193.9,460.8h3.2M195.5,459.2v3.2M195.5,462.4h3.2M197.1,460.8v3.2M196.6,462.5h3.2M198.2,460.9v3.2M197.2,462.6h3.2M198.8,461.0v3.2M198.8,464.5h3.2M200.4,462.9v3.2M200.1,463.8h3.2M201.7,462.2v3.2M201.5,464.3h3.2M203.1,462.7v3.2M203.1,463.3h3.2M204.7,461.7v3.2M205.2,464.1h3.2M206.8,462.5v3.2" stroke="#5a5a5a" stroke-width="0.9" fill="none"/>
<polyline points="172.5,449.0 173.7,455.9 175.9,461.4 180.3,465.7 185.7,471.2 191.2,474.5 196.6,476.6 202.0,478.8 207.3,480.0" fill="none" stroke="#7c7c7c" stroke-width="3.80" stroke-linecap="round" stroke-linejoin="round"/>
<path d="M171.4,450.2h3.2M173.0,448.6v3.2M171.4,451.3h3.2M173.0,449.7v3.2M171.1,452.7h3.2M172.7,451.1v3.2M172.3,454.0h3.2M173.9,452.4v3.2M172.6,455.4h3.2M174.2,453.8v3.2M172.5,457.3h3.2M174.1,455.7v3.2M173.3,457.9h3.2M174.9,456.3v3.2M172.7,459.7h3.2M174.3,458.1v3.2M174.5,460.8h3.2M176.1,459.2v3.2M175.5,461.6h3.2M177.1,460.0v3.2M176.2,463.7h3.2M177.8,462.1v3.2M176.6,464.2h3.2M178.2,462.6v3.2M178.4,464.4h3.2M180.0,462.8v3.2M179.1,465.8h3.2M180.7,464.2v3.2M180.5,468.1h3.2M182.1,466.5v3.2M180.6,468.2h3.2M182.2,466.6v3.2M182.0,470.2h3.2M183.6,468.6v3.2M183.6,469.6h3.2M185.2,468.0v3.2M184.8,470.6h3.2M186.4,469.0v3.2M185.9,471.5h3.2M187.5,469.9v3.2M187.5,472.4h3.2M189.1,470.8v3.2M188.7,473.9h3.2M190.3,472.3v3.2M190.5,474.7h3.2M192.1,473.1v3.2M192.0,474.5h3.2M193.6,472.9v3.2M193.1,475.2h3.2M194.7,473.6v3.2M194.4,475.5h3.2M196.0,473.9v3.2M196.0,476.0h3.2M197.6,474.4v3.2M196.4,477.4h3.2M198.0,475.8v3.2M198.7,478.4h3.2M200.3,476.8v3.2M199.7,478.7h3.2M201.3,477.1v3.2M200.6,479.4h3.2M202.2,477.8v3.2M201.8,479.4h3.2M203.4,477.8v3.2M204.4,479.3h3.2M206.0,477.7v3.2M205.2,479.3h3.2M206.8,477.7v3.2" stroke="#5a5a5a" stroke-width="0.9" fill="none"/>
<path d="M210.2,474.5h3.2M211.8,472.9v3.2" stroke="#888" stroke-width="0.8"/>
<path d="M212.9,474.5h3.2M214.5,472.9v3.2" stroke="#888" stroke-width="0.8"/>
<path d="M215.7,474.5h3.2M217.3,472.9v3.2" stroke="#888" stroke-width="0.8"/>
<path d="M218.4,474.5h3.2M220.0,472.9v3.2" stroke="#888" stroke-width="0.8"/>
<path d="M222.0,474.5h3.2M223.6,472.9v3.2" stroke="#888" stroke-width="0.8"/>
<path d="M224.8,474.5h3.2M226.4,472.9v3.2" stroke="#888" stroke-width="0.8"/>
<path d="M231.1,474.5h3.2M232.7,472.9v3.2" stroke="#888" stroke-width="0.8"/>
<path d="M249.3,474.5h3.2M250.9,472.9v3.2" stroke="#888" stroke-width="0.8"/>
<path d="M269.3,474.5h3.2M270.9,472.9v3.2" stroke="#888" stroke-width="0.8"/>
<path d="M214.8,544.5h3.2M216.4,542.9v3.2" stroke="#888" stroke-width="0.8"/>
<path d="M219.3,544.5h3.2M220.9,542.9v3.2" stroke="#888" stroke-width="0.8"/>
<path d="M211.7,498.7h3.2M213.3,497.1v3.2" stroke="#888" stroke-width="0.8"/>
<rect x="153.3" y="421.6" width="122.59999999999997" height="129.0" fill="none" stroke="#c8c8c8" stroke-width="0.9"/>
<rect x="202.4" y="422.4" width="72.5" height="13" fill="#fff"/>
<text x="208.4" y="431.6" font-size="7.6" font-weight="bold" fill="#111">Log-rank = 0.022</text>
<line x1="157.8" y1="550.6" x2="157.8" y2="552.1" stroke="#aaa" stroke-width="0.7"/>
<line x1="182.4" y1="550.6" x2="182.4" y2="552.1" stroke="#aaa" stroke-width="0.7"/>
<line x1="207.1" y1="550.6" x2="207.1" y2="552.1" stroke="#aaa" stroke-width="0.7"/>
<line x1="231.7" y1="550.6" x2="231.7" y2="552.1" stroke="#aaa" stroke-width="0.7"/>
<line x1="256.3" y1="550.6" x2="256.3" y2="552.1" stroke="#aaa" stroke-width="0.7"/>
<text transform="translate(158.9 563.5) scale(0.8 1)" font-size="9.2" font-weight="bold" fill="#111" text-anchor="middle">0</text>
<text transform="translate(185.1 563.5) scale(0.8 1)" font-size="9.2" font-weight="bold" fill="#111" text-anchor="middle">50</text>
<text transform="translate(209.2 563.5) scale(0.8 1)" font-size="9.2" font-weight="bold" fill="#111" text-anchor="middle">100</text>
<text transform="translate(235.4 563.5) scale(0.8 1)" font-size="9.2" font-weight="bold" fill="#111" text-anchor="middle">150</text>
<text transform="translate(260.7 563.5) scale(0.8 1)" font-size="9.2" font-weight="bold" fill="#111" text-anchor="middle">200</text>
<rect x="151" y="555.6" width="2.3000000000000114" height="10.799999999999955" fill="#e2e2e2"/>
<rect x="280.2" y="408.5" width="122.80000000000001" height="13.100000000000023" fill="#d9d9d9"/>
<text x="319.1" y="417.9" font-size="8.0" fill="#222" textLength="41.7" lengthAdjust="spacingAndGlyphs">CD4+ T Cell</text>
<rect x="280.2" y="421.6" width="122.80000000000001" height="129.0" fill="#fff"/>
<line x1="284.7" y1="421.6" x2="284.7" y2="550.6" stroke="#ebebeb" stroke-width="0.9"/>
<line x1="297.0" y1="421.6" x2="297.0" y2="550.6" stroke="#f4f4f4" stroke-width="0.6"/>
<line x1="309.3" y1="421.6" x2="309.3" y2="550.6" stroke="#ebebeb" stroke-width="0.9"/>
<line x1="321.6" y1="421.6" x2="321.6" y2="550.6" stroke="#f4f4f4" stroke-width="0.6"/>
<line x1="333.9" y1="421.6" x2="333.9" y2="550.6" stroke="#ebebeb" stroke-width="0.9"/>
<line x1="346.3" y1="421.6" x2="346.3" y2="550.6" stroke="#f4f4f4" stroke-width="0.6"/>
<line x1="358.6" y1="421.6" x2="358.6" y2="550.6" stroke="#ebebeb" stroke-width="0.9"/>
<line x1="370.9" y1="421.6" x2="370.9" y2="550.6" stroke="#f4f4f4" stroke-width="0.6"/>
<line x1="383.2" y1="421.6" x2="383.2" y2="550.6" stroke="#ebebeb" stroke-width="0.9"/>
<line x1="395.5" y1="421.6" x2="395.5" y2="550.6" stroke="#f4f4f4" stroke-width="0.6"/>
<line x1="280.2" y1="427.0" x2="403.0" y2="427.0" stroke="#ebebeb" stroke-width="0.9"/>
<line x1="280.2" y1="446.8" x2="403.0" y2="446.8" stroke="#f4f4f4" stroke-width="0.6"/>
<line x1="280.2" y1="466.5" x2="403.0" y2="466.5" stroke="#ebebeb" stroke-width="0.9"/>
<line x1="280.2" y1="486.3" x2="403.0" y2="486.3" stroke="#f4f4f4" stroke-width="0.6"/>
<line x1="280.2" y1="506.1" x2="403.0" y2="506.1" stroke="#ebebeb" stroke-width="0.9"/>
<line x1="280.2" y1="525.8" x2="403.0" y2="525.8" stroke="#f4f4f4" stroke-width="0.6"/>
<line x1="280.2" y1="545.6" x2="403.0" y2="545.6" stroke="#ebebeb" stroke-width="0.9"/>
<polyline points="285.1,426.1 308.0,471.9 323.6,472.7 323.6,478.2 338.2,478.2 338.2,496.4 340.9,496.4 340.9,517.8 398.2,517.8" fill="none" stroke="#ee6464" stroke-width="1.2"/>
<polyline points="308.0,475.7 313.0,480.8 316.9,485.9 321.8,491.8 335.5,492.4 335.5,506.4 339.1,506.4 339.1,544.5 378.2,544.5" fill="none" stroke="#6464ee" stroke-width="1.2"/>
<polyline points="285.1,426.1 290.2,432.5 294.0,440.1 297.8,447.7 301.0,456.6 303.5,464.3 306.1,469.4 308.0,471.9" fill="none" stroke="#7c7c7c" stroke-width="6.40" stroke-linecap="round" stroke-linejoin="round"/>
<path d="M283.3,426.8h3.2M284.9,425.2v3.2M282.7,428.5h3.2M284.3,426.9v3.2M286.0,429.1h3.2M287.6,427.5v3.2M285.7,429.9h3.2M287.3,428.3v3.2M287.4,431.0h3.2M289.0,429.4v3.2M287.7,432.1h3.2M289.3,430.5v3.2M288.5,433.2h3.2M290.1,431.6v3.2M287.5,435.0h3.2M289.1,433.4v3.2M290.0,436.0h3.2M291.6,434.4v3.2M289.8,438.2h3.2M291.4,436.6v3.2M289.9,438.3h3.2M291.5,436.7v3.2M292.3,438.9h3.2M293.9,437.3v3.2M292.0,441.2h3.2M293.6,439.6v3.2M291.8,442.7h3.2M293.4,441.1v3.2M296.2,442.9h3.2M297.8,441.3v3.2M294.4,444.3h3.2M296.0,442.7v3.2M295.5,444.9h3.2M297.1,443.3v3.2M294.9,446.9h3.2M296.5,445.3v3.2M297.7,448.1h3.2M299.3,446.5v3.2M296.0,450.3h3.2M297.6,448.7v3.2M296.8,451.1h3.2M298.4,449.5v3.2M298.1,452.7h3.2M299.7,451.1v3.2M298.2,453.9h3.2M299.8,452.3v3.2M296.7,454.8h3.2M298.3,453.2v3.2M299.8,456.3h3.2M301.4,454.7v3.2M298.2,457.9h3.2M299.8,456.3v3.2M301.4,458.5h3.2M303.0,456.9v3.2M301.6,459.4h3.2M303.2,457.8v3.2M302.1,461.4h3.2M303.7,459.8v3.2M302.3,461.6h3.2M303.9,460.0v3.2M301.8,463.0h3.2M303.4,461.4v3.2M300.6,466.4h3.2M302.2,464.8v3.2M304.6,464.8h3.2M306.2,463.2v3.2M303.7,467.0h3.2M305.3,465.4v3.2M302.9,469.2h3.2M304.5,467.6v3.2M302.9,470.8h3.2M304.5,469.2v3.2M307.0,469.9h3.2M308.6,468.3v3.2" stroke="#5a5a5a" stroke-width="0.9" fill="none"/>
<polyline points="308.0,471.9 311.8,472.5 322.0,472.5" fill="none" stroke="#7c7c7c" stroke-width="3.60" stroke-linecap="round" stroke-linejoin="round"/>
<path d="M307.3,472.7h3.2M308.9,471.1v3.2M308.7,472.6h3.2M310.3,471.0v3.2M311.1,472.8h3.2M312.7,471.2v3.2M312.1,471.9h3.2M313.7,470.3v3.2M313.8,471.7h3.2M315.4,470.1v3.2M315.7,472.0h3.2M317.3,470.4v3.2M316.9,472.6h3.2M318.5,471.0v3.2M318.2,472.0h3.2M319.8,470.4v3.2M320.2,472.1h3.2M321.8,470.5v3.2" stroke="#5a5a5a" stroke-width="0.9" fill="none"/>
<polyline points="324.5,478.2 335.5,478.2" fill="none" stroke="#7c7c7c" stroke-width="3.60" stroke-linecap="round" stroke-linejoin="round"/>
<path d="M323.1,478.4h3.2M324.7,476.8v3.2M324.7,478.6h3.2M326.3,477.0v3.2M326.1,477.8h3.2M327.7,476.2v3.2M328.0,477.8h3.2M329.6,476.2v3.2M329.7,479.0h3.2M331.3,477.4v3.2M330.7,478.6h3.2M332.3,477.0v3.2M331.8,477.5h3.2M333.4,475.9v3.2M333.7,478.0h3.2M335.3,476.4v3.2" stroke="#5a5a5a" stroke-width="0.9" fill="none"/>
<polyline points="306.1,469.4 308.0,475.7 313.0,480.8 316.9,485.9 319.5,487.3 321.8,491.8 333.6,492.4" fill="none" stroke="#7c7c7c" stroke-width="3.60" stroke-linecap="round" stroke-linejoin="round"/>
<path d="M305.3,470.1h3.2M306.9,468.5v3.2M305.7,470.8h3.2M307.3,469.2v3.2M305.1,473.0h3.2M306.7,471.4v3.2M305.4,474.4h3.2M307.0,472.8v3.2M305.9,475.4h3.2M307.5,473.8v3.2M307.1,477.0h3.2M308.7,475.4v3.2M307.8,476.8h3.2M309.4,475.2v3.2M309.1,478.5h3.2M310.7,476.9v3.2M309.5,479.5h3.2M311.1,477.9v3.2M310.5,480.0h3.2M312.1,478.4v3.2M311.9,481.4h3.2M313.5,479.8v3.2M313.4,482.4h3.2M315.0,480.8v3.2M314.1,483.1h3.2M315.7,481.5v3.2M315.4,485.6h3.2M317.0,484.0v3.2M315.6,486.3h3.2M317.2,484.7v3.2M317.7,487.6h3.2M319.3,486.0v3.2M318.8,488.3h3.2M320.4,486.7v3.2M318.9,488.8h3.2M320.5,487.2v3.2M319.2,491.6h3.2M320.8,490.0v3.2M321.1,492.6h3.2M322.7,491.0v3.2M322.6,492.6h3.2M324.2,491.0v3.2M323.4,491.5h3.2M325.0,489.9v3.2M324.2,491.9h3.2M325.8,490.3v3.2M326.2,491.6h3.2M327.8,490.0v3.2M327.7,492.8h3.2M329.3,491.2v3.2M328.4,491.8h3.2M330.0,490.2v3.2M330.1,493.0h3.2M331.7,491.4v3.2M331.0,491.9h3.2M332.6,490.3v3.2" stroke="#5a5a5a" stroke-width="0.9" fill="none"/>
<path d="M341.1,517.8h3.2M342.7,516.2v3.2" stroke="#888" stroke-width="0.8"/>
<path d="M345.7,517.8h3.2M347.3,516.2v3.2" stroke="#888" stroke-width="0.8"/>
<path d="M347.4,517.8h3.2M349.0,516.2v3.2" stroke="#888" stroke-width="0.8"/>
<path d="M396.6,517.8h3.2M398.2,516.2v3.2" stroke="#888" stroke-width="0.8"/>
<path d="M341.1,544.5h3.2M342.7,542.9v3.2" stroke="#888" stroke-width="0.8"/>
<path d="M351.1,544.5h3.2M352.7,542.9v3.2" stroke="#888" stroke-width="0.8"/>
<path d="M357.4,544.5h3.2M359.0,542.9v3.2" stroke="#888" stroke-width="0.8"/>
<path d="M376.6,544.5h3.2M378.2,542.9v3.2" stroke="#888" stroke-width="0.8"/>
<rect x="280.2" y="421.6" width="122.80000000000001" height="129.0" fill="none" stroke="#c8c8c8" stroke-width="0.9"/>
<rect x="333.0" y="422.4" width="69.0" height="13" fill="#fff"/>
<text x="339.0" y="431.6" font-size="7.6" font-weight="bold" fill="#111">Log-rank = 0.2</text>
<line x1="284.7" y1="550.6" x2="284.7" y2="552.1" stroke="#aaa" stroke-width="0.7"/>
<line x1="309.3" y1="550.6" x2="309.3" y2="552.1" stroke="#aaa" stroke-width="0.7"/>
<line x1="333.9" y1="550.6" x2="333.9" y2="552.1" stroke="#aaa" stroke-width="0.7"/>
<line x1="358.6" y1="550.6" x2="358.6" y2="552.1" stroke="#aaa" stroke-width="0.7"/>
<line x1="383.2" y1="550.6" x2="383.2" y2="552.1" stroke="#aaa" stroke-width="0.7"/>
<text transform="translate(285.1 563.5) scale(0.8 1)" font-size="9.2" font-weight="bold" fill="#111" text-anchor="middle">0</text>
<text transform="translate(310.7 563.5) scale(0.8 1)" font-size="9.2" font-weight="bold" fill="#111" text-anchor="middle">50</text>
<text transform="translate(334.6 563.5) scale(0.8 1)" font-size="9.2" font-weight="bold" fill="#111" text-anchor="middle">100</text>
<text transform="translate(361.6 563.5) scale(0.8 1)" font-size="9.2" font-weight="bold" fill="#111" text-anchor="middle">150</text>
<text transform="translate(387.2 563.5) scale(0.8 1)" font-size="9.2" font-weight="bold" fill="#111" text-anchor="middle">200</text>
<rect x="278" y="555.6" width="2.1999999999999886" height="10.799999999999955" fill="#e2e2e2"/>
<rect x="406.8" y="408.5" width="122.09999999999997" height="13.100000000000023" fill="#d9d9d9"/>
<text x="451.7" y="417.9" font-size="8.0" fill="#222" textLength="17.2" lengthAdjust="spacingAndGlyphs">MLH1</text>
<rect x="406.8" y="421.6" width="122.80000000000001" height="129.0" fill="#fff"/>
<line x1="411.3" y1="421.6" x2="411.3" y2="550.6" stroke="#ebebeb" stroke-width="0.9"/>
<line x1="423.6" y1="421.6" x2="423.6" y2="550.6" stroke="#f4f4f4" stroke-width="0.6"/>
<line x1="435.9" y1="421.6" x2="435.9" y2="550.6" stroke="#ebebeb" stroke-width="0.9"/>
<line x1="448.2" y1="421.6" x2="448.2" y2="550.6" stroke="#f4f4f4" stroke-width="0.6"/>
<line x1="460.6" y1="421.6" x2="460.6" y2="550.6" stroke="#ebebeb" stroke-width="0.9"/>
<line x1="472.9" y1="421.6" x2="472.9" y2="550.6" stroke="#f4f4f4" stroke-width="0.6"/>
<line x1="485.2" y1="421.6" x2="485.2" y2="550.6" stroke="#ebebeb" stroke-width="0.9"/>
<line x1="497.5" y1="421.6" x2="497.5" y2="550.6" stroke="#f4f4f4" stroke-width="0.6"/>
<line x1="509.8" y1="421.6" x2="509.8" y2="550.6" stroke="#ebebeb" stroke-width="0.9"/>
<line x1="522.1" y1="421.6" x2="522.1" y2="550.6" stroke="#f4f4f4" stroke-width="0.6"/>
<line x1="406.8" y1="427.0" x2="529.6" y2="427.0" stroke="#ebebeb" stroke-width="0.9"/>
<line x1="406.8" y1="446.8" x2="529.6" y2="446.8" stroke="#f4f4f4" stroke-width="0.6"/>
<line x1="406.8" y1="466.5" x2="529.6" y2="466.5" stroke="#ebebeb" stroke-width="0.9"/>
<line x1="406.8" y1="486.3" x2="529.6" y2="486.3" stroke="#f4f4f4" stroke-width="0.6"/>
<line x1="406.8" y1="506.1" x2="529.6" y2="506.1" stroke="#ebebeb" stroke-width="0.9"/>
<line x1="406.8" y1="525.8" x2="529.6" y2="525.8" stroke="#f4f4f4" stroke-width="0.6"/>
<line x1="406.8" y1="545.6" x2="529.6" y2="545.6" stroke="#ebebeb" stroke-width="0.9"/>
<polyline points="411.7,426.7 436.5,472.5 462.7,473.6 462.7,488.2 464.9,488.2 464.9,505.5 467.3,505.5 467.3,544.5 524.5,544.5" fill="none" stroke="#ee6464" stroke-width="1.2"/>
<polyline points="441.6,475.7 448.0,480.8 451.8,486.0 468.2,486.0 468.2,503.0 487.3,503.0" fill="none" stroke="#6464ee" stroke-width="1.2"/>
<polyline points="411.7,426.7 416.2,433.7 420.0,440.1 423.8,446.5 427.6,454.1 430.2,461.7 432.7,466.8 436.5,470.6" fill="none" stroke="#7c7c7c" stroke-width="5.60" stroke-linecap="round" stroke-linejoin="round"/>
<path d="M410.4,426.9h3.2M412.0,425.3v3.2M411.5,428.1h3.2M413.1,426.5v3.2M410.7,429.9h3.2M412.3,428.3v3.2M411.9,431.0h3.2M413.5,429.4v3.2M413.4,432.1h3.2M415.0,430.5v3.2M413.8,433.0h3.2M415.4,431.4v3.2M415.6,434.2h3.2M417.2,432.6v3.2M415.6,436.3h3.2M417.2,434.7v3.2M416.8,437.4h3.2M418.4,435.8v3.2M418.7,437.8h3.2M420.3,436.2v3.2M417.6,439.8h3.2M419.2,438.2v3.2M417.9,440.7h3.2M419.5,439.1v3.2M418.9,441.6h3.2M420.5,440.0v3.2M419.3,444.2h3.2M420.9,442.6v3.2M420.1,445.1h3.2M421.7,443.5v3.2M421.6,446.9h3.2M423.2,445.3v3.2M421.0,447.6h3.2M422.6,446.0v3.2M423.5,448.2h3.2M425.1,446.6v3.2M424.3,449.0h3.2M425.9,447.4v3.2M423.4,451.6h3.2M425.0,450.0v3.2M425.6,452.2h3.2M427.2,450.6v3.2M425.3,454.4h3.2M426.9,452.8v3.2M428.0,454.5h3.2M429.6,452.9v3.2M426.0,456.4h3.2M427.6,454.8v3.2M427.7,457.5h3.2M429.3,455.9v3.2M426.3,459.0h3.2M427.9,457.4v3.2M428.2,459.6h3.2M429.8,458.0v3.2M428.3,461.2h3.2M429.9,459.6v3.2M428.1,462.4h3.2M429.7,460.8v3.2M430.5,463.2h3.2M432.1,461.6v3.2M431.0,463.9h3.2M432.6,462.3v3.2M431.6,465.3h3.2M433.2,463.7v3.2M429.9,468.1h3.2M431.5,466.5v3.2M433.0,467.1h3.2M434.6,465.5v3.2M435.1,468.4h3.2M436.7,466.8v3.2M435.5,468.9h3.2M437.1,467.3v3.2" stroke="#5a5a5a" stroke-width="0.9" fill="none"/>
<polyline points="436.5,472.5 462.0,473.4" fill="none" stroke="#7c7c7c" stroke-width="3.80" stroke-linecap="round" stroke-linejoin="round"/>
<path d="M436.2,471.9h3.2M437.8,470.3v3.2M437.4,473.4h3.2M439.0,471.8v3.2M438.1,472.5h3.2M439.7,470.9v3.2M439.4,472.1h3.2M441.0,470.5v3.2M441.0,471.8h3.2M442.6,470.2v3.2M441.8,472.4h3.2M443.4,470.8v3.2M443.4,473.3h3.2M445.0,471.7v3.2M445.1,472.3h3.2M446.7,470.7v3.2M446.3,472.2h3.2M447.9,470.6v3.2M447.7,472.8h3.2M449.3,471.2v3.2M448.3,472.7h3.2M449.9,471.1v3.2M451.0,472.4h3.2M452.6,470.8v3.2M451.9,473.0h3.2M453.5,471.4v3.2M452.9,473.4h3.2M454.5,471.8v3.2M453.8,473.8h3.2M455.4,472.2v3.2M456.3,473.7h3.2M457.9,472.1v3.2M456.9,473.3h3.2M458.5,471.7v3.2M458.7,473.7h3.2M460.3,472.1v3.2M459.4,473.2h3.2M461.0,471.6v3.2" stroke="#5a5a5a" stroke-width="0.9" fill="none"/>
<polyline points="432.7,466.8 436.5,470.6 441.6,475.7 448.0,480.8 451.8,485.9 456.9,486.0" fill="none" stroke="#7c7c7c" stroke-width="3.80" stroke-linecap="round" stroke-linejoin="round"/>
<path d="M431.6,466.9h3.2M433.2,465.3v3.2M432.3,468.9h3.2M433.9,467.3v3.2M434.0,468.5h3.2M435.6,466.9v3.2M433.9,469.7h3.2M435.5,468.1v3.2M435.0,472.0h3.2M436.6,470.4v3.2M436.9,471.7h3.2M438.5,470.1v3.2M437.5,473.1h3.2M439.1,471.5v3.2M439.1,474.3h3.2M440.7,472.7v3.2M439.3,475.5h3.2M440.9,473.9v3.2M441.0,475.5h3.2M442.6,473.9v3.2M442.6,476.7h3.2M444.2,475.1v3.2M442.6,477.8h3.2M444.2,476.2v3.2M443.6,479.0h3.2M445.2,477.4v3.2M444.6,479.2h3.2M446.2,477.6v3.2M446.2,480.3h3.2M447.8,478.7v3.2M446.5,482.2h3.2M448.1,480.6v3.2M447.4,483.0h3.2M449.0,481.4v3.2M448.4,484.5h3.2M450.0,482.9v3.2M449.4,484.6h3.2M451.0,483.0v3.2M450.5,486.4h3.2M452.1,484.8v3.2M452.6,485.8h3.2M454.2,484.2v3.2M453.9,485.5h3.2M455.5,483.9v3.2" stroke="#5a5a5a" stroke-width="0.9" fill="none"/>
<path d="M469.3,544.5h3.2M470.9,542.9v3.2" stroke="#888" stroke-width="0.8"/>
<path d="M478.4,544.5h3.2M480.0,542.9v3.2" stroke="#888" stroke-width="0.8"/>
<path d="M502.9,544.5h3.2M504.5,542.9v3.2" stroke="#888" stroke-width="0.8"/>
<path d="M522.9,544.5h3.2M524.5,542.9v3.2" stroke="#888" stroke-width="0.8"/>
<path d="M469.3,503.0h3.2M470.9,501.4v3.2" stroke="#888" stroke-width="0.8"/>
<path d="M472.9,503.0h3.2M474.5,501.4v3.2" stroke="#888" stroke-width="0.8"/>
<path d="M485.7,503.0h3.2M487.3,501.4v3.2" stroke="#888" stroke-width="0.8"/>
<rect x="406.8" y="421.6" width="122.80000000000001" height="129.0" fill="none" stroke="#c8c8c8" stroke-width="0.9"/>
<rect x="458.0" y="422.4" width="70.6" height="13" fill="#fff"/>
<text x="464.0" y="431.6" font-size="7.6" font-weight="bold" fill="#111">Log-rank = 0.976</text>
<line x1="411.3" y1="550.6" x2="411.3" y2="552.1" stroke="#aaa" stroke-width="0.7"/>
<line x1="435.9" y1="550.6" x2="435.9" y2="552.1" stroke="#aaa" stroke-width="0.7"/>
<line x1="460.6" y1="550.6" x2="460.6" y2="552.1" stroke="#aaa" stroke-width="0.7"/>
<line x1="485.2" y1="550.6" x2="485.2" y2="552.1" stroke="#aaa" stroke-width="0.7"/>
<line x1="509.8" y1="550.6" x2="509.8" y2="552.1" stroke="#aaa" stroke-width="0.7"/>
<text transform="translate(412.5 564.2) scale(0.8 1)" font-size="9.2" font-weight="bold" fill="#111" text-anchor="middle">0</text>
<text transform="translate(438.1 564.2) scale(0.8 1)" font-size="9.2" font-weight="bold" fill="#111" text-anchor="middle">50</text>
<text transform="translate(462.6 564.2) scale(0.8 1)" font-size="9.2" font-weight="bold" fill="#111" text-anchor="middle">100</text>
<text transform="translate(488.0 564.2) scale(0.8 1)" font-size="9.2" font-weight="bold" fill="#111" text-anchor="middle">150</text>
<text transform="translate(514.8 564.2) scale(0.8 1)" font-size="9.2" font-weight="bold" fill="#111" text-anchor="middle">200</text>
<rect x="404.3" y="557.8" width="2.5" height="8.5" fill="#e2e2e2"/>
<rect x="529.7" y="421.6" width="12.4" height="129.0" fill="#d9d9d9"/>
<text x="0" y="0" font-size="6.6" fill="#444" text-anchor="middle" transform="translate(533.4,486.1) rotate(90)">UCEC</text>
<rect x="29.5" y="567.8" width="122.4" height="11.100000000000023" fill="#d9d9d9"/>
<text x="70.0" y="576.2" font-size="8.0" fill="#222" textLength="44.9" lengthAdjust="spacingAndGlyphs">Macrophage</text>
<rect x="29.5" y="578.9" width="122.69999999999999" height="129.5" fill="#fff"/>
<line x1="34.1" y1="578.9" x2="34.1" y2="708.4" stroke="#ebebeb" stroke-width="0.9"/>
<line x1="46.4" y1="578.9" x2="46.4" y2="708.4" stroke="#f4f4f4" stroke-width="0.6"/>
<line x1="58.7" y1="578.9" x2="58.7" y2="708.4" stroke="#ebebeb" stroke-width="0.9"/>
<line x1="71.0" y1="578.9" x2="71.0" y2="708.4" stroke="#f4f4f4" stroke-width="0.6"/>
<line x1="83.3" y1="578.9" x2="83.3" y2="708.4" stroke="#ebebeb" stroke-width="0.9"/>
<line x1="95.7" y1="578.9" x2="95.7" y2="708.4" stroke="#f4f4f4" stroke-width="0.6"/>
<line x1="108.0" y1="578.9" x2="108.0" y2="708.4" stroke="#ebebeb" stroke-width="0.9"/>
<line x1="120.3" y1="578.9" x2="120.3" y2="708.4" stroke="#f4f4f4" stroke-width="0.6"/>
<line x1="132.6" y1="578.9" x2="132.6" y2="708.4" stroke="#ebebeb" stroke-width="0.9"/>
<line x1="144.9" y1="578.9" x2="144.9" y2="708.4" stroke="#f4f4f4" stroke-width="0.6"/>
<line x1="29.5" y1="585.6" x2="152.2" y2="585.6" stroke="#ebebeb" stroke-width="0.9"/>
<line x1="29.5" y1="606.0" x2="152.2" y2="606.0" stroke="#f4f4f4" stroke-width="0.6"/>
<line x1="29.5" y1="626.3" x2="152.2" y2="626.3" stroke="#ebebeb" stroke-width="0.9"/>
<line x1="29.5" y1="646.7" x2="152.2" y2="646.7" stroke="#f4f4f4" stroke-width="0.6"/>
<line x1="29.5" y1="667.1" x2="152.2" y2="667.1" stroke="#ebebeb" stroke-width="0.9"/>
<line x1="29.5" y1="687.4" x2="152.2" y2="687.4" stroke="#f4f4f4" stroke-width="0.6"/>
<line x1="29.5" y1="707.8" x2="152.2" y2="707.8" stroke="#ebebeb" stroke-width="0.9"/>
<polyline points="34.1,584.7 55.1,617.2 57.6,627.4 72.3,627.4 72.3,633.2 85.0,633.2 85.0,648.6 90.5,648.6 90.5,666.8 146.8,666.8" fill="none" stroke="#ee6464" stroke-width="1.2"/>
<polyline points="58.3,632.5 63.4,637.5 68.5,642.6 71.4,646.8 87.7,646.8 87.7,663.2 89.5,663.2 89.5,702.8 109.5,702.8" fill="none" stroke="#6464ee" stroke-width="1.2"/>
<polyline points="34.1,584.7 39.2,591.7 44.3,599.4 48.1,607.0 51.3,614.6 53.8,621.0 55.7,624.8 57.6,627.4" fill="none" stroke="#7c7c7c" stroke-width="5.80" stroke-linecap="round" stroke-linejoin="round"/>
<path d="M33.9,585.2h3.2M35.5,583.6v3.2M34.5,586.3h3.2M36.1,584.7v3.2M34.5,588.5h3.2M36.1,586.9v3.2M33.6,589.4h3.2M35.2,587.8v3.2M34.8,590.6h3.2M36.4,589.0v3.2M35.9,591.3h3.2M37.5,589.7v3.2M38.9,592.0h3.2M40.5,590.4v3.2M37.9,594.2h3.2M39.5,592.6v3.2M39.2,594.1h3.2M40.8,592.5v3.2M40.3,594.9h3.2M41.9,593.3v3.2M40.0,596.5h3.2M41.6,594.9v3.2M40.4,598.3h3.2M42.0,596.7v3.2M40.8,599.5h3.2M42.4,597.9v3.2M42.3,601.1h3.2M43.9,599.5v3.2M43.0,602.2h3.2M44.6,600.6v3.2M44.4,602.6h3.2M46.0,601.0v3.2M46.0,603.0h3.2M47.6,601.4v3.2M46.8,604.5h3.2M48.4,602.9v3.2M48.0,605.9h3.2M49.6,604.3v3.2M46.0,608.0h3.2M47.6,606.4v3.2M48.2,608.6h3.2M49.8,607.0v3.2M49.0,609.7h3.2M50.6,608.1v3.2M48.1,611.5h3.2M49.7,609.9v3.2M48.0,613.4h3.2M49.6,611.8v3.2M50.7,612.8h3.2M52.3,611.2v3.2M48.2,615.3h3.2M49.8,613.7v3.2M49.6,616.4h3.2M51.2,614.8v3.2M50.2,618.6h3.2M51.8,617.0v3.2M52.8,617.9h3.2M54.4,616.3v3.2M52.0,621.0h3.2M53.6,619.4v3.2M52.3,621.9h3.2M53.9,620.3v3.2M52.1,623.7h3.2M53.7,622.1v3.2M54.8,624.4h3.2M56.4,622.8v3.2M52.7,625.8h3.2M54.3,624.2v3.2M55.9,627.3h3.2M57.5,625.7v3.2" stroke="#5a5a5a" stroke-width="0.9" fill="none"/>
<polyline points="57.6,627.4 72.3,627.4" fill="none" stroke="#7c7c7c" stroke-width="3.60" stroke-linecap="round" stroke-linejoin="round"/>
<path d="M57.1,628.1h3.2M58.7,626.5v3.2M58.0,627.6h3.2M59.6,626.0v3.2M60.0,626.8h3.2M61.6,625.2v3.2M60.4,627.4h3.2M62.0,625.8v3.2M62.4,626.9h3.2M64.0,625.3v3.2M63.5,627.0h3.2M65.1,625.4v3.2M65.0,627.3h3.2M66.6,625.7v3.2M66.3,628.1h3.2M67.9,626.5v3.2M67.4,627.0h3.2M69.0,625.4v3.2M68.3,627.0h3.2M69.9,625.4v3.2M70.4,627.1h3.2M72.0,625.5v3.2" stroke="#5a5a5a" stroke-width="0.9" fill="none"/>
<polyline points="73.2,633.2 80.5,633.2" fill="none" stroke="#7c7c7c" stroke-width="3.40" stroke-linecap="round" stroke-linejoin="round"/>
<path d="M71.8,632.6h3.2M73.4,631.0v3.2M74.3,633.5h3.2M75.9,631.9v3.2M74.8,632.8h3.2M76.4,631.2v3.2M76.8,633.3h3.2M78.4,631.7v3.2M78.6,633.1h3.2M80.2,631.5v3.2" stroke="#5a5a5a" stroke-width="0.9" fill="none"/>
<polyline points="55.7,624.8 58.3,632.5 63.4,637.5 68.5,642.6 71.4,646.5 82.5,646.5" fill="none" stroke="#7c7c7c" stroke-width="3.60" stroke-linecap="round" stroke-linejoin="round"/>
<path d="M55.1,625.9h3.2M56.7,624.3v3.2M55.1,626.0h3.2M56.7,624.4v3.2M55.4,627.5h3.2M57.0,625.9v3.2M55.0,629.3h3.2M56.6,627.7v3.2M56.3,630.8h3.2M57.9,629.2v3.2M56.6,631.7h3.2M58.2,630.1v3.2M57.5,633.7h3.2M59.1,632.1v3.2M58.1,634.2h3.2M59.7,632.6v3.2M59.6,635.0h3.2M61.2,633.4v3.2M60.1,635.2h3.2M61.7,633.6v3.2M62.3,636.9h3.2M63.9,635.3v3.2M62.6,637.3h3.2M64.2,635.7v3.2M63.3,639.5h3.2M64.9,637.9v3.2M64.7,640.4h3.2M66.3,638.8v3.2M65.0,641.6h3.2M66.6,640.0v3.2M66.3,642.3h3.2M67.9,640.7v3.2M67.5,642.7h3.2M69.1,641.1v3.2M68.8,644.7h3.2M70.4,643.1v3.2M69.8,645.8h3.2M71.4,644.2v3.2M70.2,646.4h3.2M71.8,644.8v3.2M71.4,646.2h3.2M73.0,644.6v3.2M72.7,646.7h3.2M74.3,645.1v3.2M74.9,647.1h3.2M76.5,645.5v3.2M75.8,647.2h3.2M77.4,645.6v3.2M77.0,645.9h3.2M78.6,644.3v3.2M79.4,646.1h3.2M81.0,644.5v3.2M79.8,646.6h3.2M81.4,645.0v3.2" stroke="#5a5a5a" stroke-width="0.9" fill="none"/>
<path d="M90.7,666.8h3.2M92.3,665.2v3.2" stroke="#888" stroke-width="0.8"/>
<path d="M94.3,666.8h3.2M95.9,665.2v3.2" stroke="#888" stroke-width="0.8"/>
<path d="M97.9,666.8h3.2M99.5,665.2v3.2" stroke="#888" stroke-width="0.8"/>
<path d="M101.0,666.8h3.2M102.6,665.2v3.2" stroke="#888" stroke-width="0.8"/>
<path d="M125.8,666.8h3.2M127.4,665.2v3.2" stroke="#888" stroke-width="0.8"/>
<path d="M145.2,666.8h3.2M146.8,665.2v3.2" stroke="#888" stroke-width="0.8"/>
<path d="M91.6,702.8h3.2M93.2,701.2v3.2" stroke="#888" stroke-width="0.8"/>
<path d="M95.2,702.8h3.2M96.8,701.2v3.2" stroke="#888" stroke-width="0.8"/>
<path d="M107.0,702.8h3.2M108.6,701.2v3.2" stroke="#888" stroke-width="0.8"/>
<path d="M87.9,681.4h3.2M89.5,679.8v3.2" stroke="#888" stroke-width="0.8"/>
<rect x="29.5" y="578.9" width="122.69999999999999" height="129.5" fill="none" stroke="#c8c8c8" stroke-width="0.9"/>
<rect x="79.2" y="579.7" width="72.0" height="13" fill="#fff"/>
<text x="85.2" y="588.9" font-size="7.6" font-weight="bold" fill="#111">Log-rank = 0.239</text>
<text x="26.5" y="587.8" font-size="6.3" fill="#8a8a8a" text-anchor="end">1.0</text>
<line x1="27.7" y1="585.6" x2="29.5" y2="585.6" stroke="#999" stroke-width="0.7"/>
<text x="26.5" y="628.5" font-size="6.3" fill="#8a8a8a" text-anchor="end">0.8</text>
<line x1="27.7" y1="626.3" x2="29.5" y2="626.3" stroke="#999" stroke-width="0.7"/>
<text x="26.5" y="669.3" font-size="6.3" fill="#8a8a8a" text-anchor="end">0.6</text>
<line x1="27.7" y1="667.1" x2="29.5" y2="667.1" stroke="#999" stroke-width="0.7"/>
<text x="26.5" y="710.0" font-size="6.3" fill="#8a8a8a" text-anchor="end">0.4</text>
<line x1="27.7" y1="707.8" x2="29.5" y2="707.8" stroke="#999" stroke-width="0.7"/>
<line x1="34.1" y1="708.4" x2="34.1" y2="709.9" stroke="#aaa" stroke-width="0.7"/>
<line x1="58.7" y1="708.4" x2="58.7" y2="709.9" stroke="#aaa" stroke-width="0.7"/>
<line x1="83.3" y1="708.4" x2="83.3" y2="709.9" stroke="#aaa" stroke-width="0.7"/>
<line x1="108.0" y1="708.4" x2="108.0" y2="709.9" stroke="#aaa" stroke-width="0.7"/>
<line x1="132.6" y1="708.4" x2="132.6" y2="709.9" stroke="#aaa" stroke-width="0.7"/>
<text transform="translate(31.9 721.3) scale(0.8 1)" font-size="9.2" font-weight="bold" fill="#111" text-anchor="middle">0</text>
<text transform="translate(57.8 721.3) scale(0.8 1)" font-size="9.2" font-weight="bold" fill="#111" text-anchor="middle">50</text>
<text transform="translate(82.4 721.3) scale(0.8 1)" font-size="9.2" font-weight="bold" fill="#111" text-anchor="middle">100</text>
<text transform="translate(107.7 721.3) scale(0.8 1)" font-size="9.2" font-weight="bold" fill="#111" text-anchor="middle">150</text>
<text transform="translate(133.6 721.3) scale(0.8 1)" font-size="9.2" font-weight="bold" fill="#111" text-anchor="middle">200</text>
<rect x="25" y="714.5" width="2.8000000000000007" height="11.0" fill="#e2e2e2"/>
<rect x="156.0" y="567.8" width="122.19999999999999" height="11.100000000000023" fill="#d9d9d9"/>
<text x="195.2" y="576.2" font-size="8.0" fill="#222" textLength="40.2" lengthAdjust="spacingAndGlyphs">Neutrophil</text>
<rect x="156.0" y="578.9" width="122.19999999999999" height="129.5" fill="#fff"/>
<line x1="160.5" y1="578.9" x2="160.5" y2="708.4" stroke="#ebebeb" stroke-width="0.9"/>
<line x1="172.8" y1="578.9" x2="172.8" y2="708.4" stroke="#f4f4f4" stroke-width="0.6"/>
<line x1="185.1" y1="578.9" x2="185.1" y2="708.4" stroke="#ebebeb" stroke-width="0.9"/>
<line x1="197.4" y1="578.9" x2="197.4" y2="708.4" stroke="#f4f4f4" stroke-width="0.6"/>
<line x1="209.8" y1="578.9" x2="209.8" y2="708.4" stroke="#ebebeb" stroke-width="0.9"/>
<line x1="222.1" y1="578.9" x2="222.1" y2="708.4" stroke="#f4f4f4" stroke-width="0.6"/>
<line x1="234.4" y1="578.9" x2="234.4" y2="708.4" stroke="#ebebeb" stroke-width="0.9"/>
<line x1="246.7" y1="578.9" x2="246.7" y2="708.4" stroke="#f4f4f4" stroke-width="0.6"/>
<line x1="259.0" y1="578.9" x2="259.0" y2="708.4" stroke="#ebebeb" stroke-width="0.9"/>
<line x1="271.3" y1="578.9" x2="271.3" y2="708.4" stroke="#f4f4f4" stroke-width="0.6"/>
<line x1="156.0" y1="585.6" x2="278.2" y2="585.6" stroke="#ebebeb" stroke-width="0.9"/>
<line x1="156.0" y1="606.0" x2="278.2" y2="606.0" stroke="#f4f4f4" stroke-width="0.6"/>
<line x1="156.0" y1="626.3" x2="278.2" y2="626.3" stroke="#ebebeb" stroke-width="0.9"/>
<line x1="156.0" y1="646.7" x2="278.2" y2="646.7" stroke="#f4f4f4" stroke-width="0.6"/>
<line x1="156.0" y1="667.1" x2="278.2" y2="667.1" stroke="#ebebeb" stroke-width="0.9"/>
<line x1="156.0" y1="687.4" x2="278.2" y2="687.4" stroke="#f4f4f4" stroke-width="0.6"/>
<line x1="156.0" y1="707.8" x2="278.2" y2="707.8" stroke="#ebebeb" stroke-width="0.9"/>
<polyline points="161.1,584.1 186.5,622.6 198.0,622.9 198.0,627.8 214.5,628.1 214.5,644.5 273.6,644.5" fill="none" stroke="#ee6464" stroke-width="1.2"/>
<polyline points="185.3,626.1 190.4,631.2 196.7,636.3 203.1,640.5 211.8,640.8 211.8,653.2 216.4,653.2 216.4,685.9 217.8,685.9 217.8,702.8 254.5,702.8" fill="none" stroke="#6464ee" stroke-width="1.2"/>
<polyline points="161.1,584.1 166.2,590.5 171.3,599.4 176.4,608.3 178.9,615.9 181.5,619.7 186.5,622.3" fill="none" stroke="#7c7c7c" stroke-width="5.80" stroke-linecap="round" stroke-linejoin="round"/>
<path d="M160.4,585.0h3.2M162.0,583.4v3.2M162.0,585.1h3.2M163.6,583.5v3.2M162.8,585.3h3.2M164.4,583.7v3.2M162.1,588.9h3.2M163.7,587.3v3.2M163.6,588.4h3.2M165.2,586.8v3.2M165.2,589.6h3.2M166.8,588.0v3.2M163.6,591.6h3.2M165.2,590.0v3.2M164.4,593.3h3.2M166.0,591.7v3.2M165.7,594.3h3.2M167.3,592.7v3.2M168.4,594.2h3.2M170.0,592.6v3.2M167.4,596.1h3.2M169.0,594.5v3.2M169.3,596.3h3.2M170.9,594.7v3.2M168.5,600.1h3.2M170.1,598.5v3.2M170.7,599.5h3.2M172.3,597.9v3.2M171.8,600.4h3.2M173.4,598.8v3.2M171.2,602.1h3.2M172.8,600.5v3.2M172.1,604.5h3.2M173.7,602.9v3.2M173.8,605.2h3.2M175.4,603.6v3.2M173.4,607.3h3.2M175.0,605.7v3.2M174.8,607.2h3.2M176.4,605.6v3.2M175.6,609.4h3.2M177.2,607.8v3.2M173.7,610.1h3.2M175.3,608.5v3.2M176.3,610.7h3.2M177.9,609.1v3.2M175.5,612.8h3.2M177.1,611.2v3.2M174.7,614.0h3.2M176.3,612.4v3.2M178.8,614.6h3.2M180.4,613.0v3.2M176.5,616.8h3.2M178.1,615.2v3.2M177.2,618.9h3.2M178.8,617.3v3.2M179.3,618.9h3.2M180.9,617.3v3.2M180.8,618.4h3.2M182.4,616.8v3.2M182.1,620.4h3.2M183.7,618.8v3.2M183.6,621.5h3.2M185.2,619.9v3.2M183.3,622.9h3.2M184.9,621.3v3.2" stroke="#5a5a5a" stroke-width="0.9" fill="none"/>
<polyline points="186.5,622.6 198.0,622.9" fill="none" stroke="#7c7c7c" stroke-width="3.60" stroke-linecap="round" stroke-linejoin="round"/>
<path d="M185.6,622.4h3.2M187.2,620.8v3.2M186.8,622.2h3.2M188.4,620.6v3.2M188.2,622.2h3.2M189.8,620.6v3.2M189.9,623.1h3.2M191.5,621.5v3.2M191.0,622.0h3.2M192.6,620.4v3.2M192.1,623.2h3.2M193.7,621.6v3.2M194.0,622.9h3.2M195.6,621.3v3.2M196.1,623.0h3.2M197.7,621.4v3.2" stroke="#5a5a5a" stroke-width="0.9" fill="none"/>
<polyline points="199.9,628.0 210.7,628.0" fill="none" stroke="#7c7c7c" stroke-width="3.40" stroke-linecap="round" stroke-linejoin="round"/>
<path d="M199.6,628.3h3.2M201.2,626.7v3.2M200.2,627.9h3.2M201.8,626.3v3.2M201.1,628.6h3.2M202.7,627.0v3.2M203.4,628.6h3.2M205.0,627.0v3.2M205.0,627.6h3.2M206.6,626.0v3.2M206.2,628.0h3.2M207.8,626.4v3.2M206.5,628.4h3.2M208.1,626.8v3.2M208.3,628.1h3.2M209.9,626.5v3.2" stroke="#5a5a5a" stroke-width="0.9" fill="none"/>
<polyline points="181.5,619.7 185.3,626.1 190.4,631.2 196.7,636.3 203.1,640.1 210.7,640.7" fill="none" stroke="#7c7c7c" stroke-width="3.60" stroke-linecap="round" stroke-linejoin="round"/>
<path d="M179.8,620.1h3.2M181.4,618.5v3.2M180.4,621.3h3.2M182.0,619.7v3.2M182.3,622.1h3.2M183.9,620.5v3.2M182.5,624.6h3.2M184.1,623.0v3.2M182.5,625.6h3.2M184.1,624.0v3.2M183.7,626.3h3.2M185.3,624.7v3.2M185.2,627.1h3.2M186.8,625.5v3.2M186.6,628.0h3.2M188.2,626.4v3.2M187.4,629.8h3.2M189.0,628.2v3.2M188.7,631.2h3.2M190.3,629.6v3.2M188.9,631.8h3.2M190.5,630.2v3.2M190.6,632.3h3.2M192.2,630.7v3.2M192.2,633.0h3.2M193.8,631.4v3.2M193.1,634.4h3.2M194.7,632.8v3.2M194.3,634.8h3.2M195.9,633.2v3.2M195.1,635.4h3.2M196.7,633.8v3.2M195.5,637.0h3.2M197.1,635.4v3.2M196.3,637.2h3.2M197.9,635.6v3.2M198.6,638.2h3.2M200.2,636.6v3.2M200.1,638.8h3.2M201.7,637.2v3.2M200.7,638.9h3.2M202.3,637.3v3.2M201.8,639.9h3.2M203.4,638.3v3.2M204.1,640.8h3.2M205.7,639.2v3.2M205.5,640.7h3.2M207.1,639.1v3.2M206.1,641.3h3.2M207.7,639.7v3.2M208.5,640.3h3.2M210.1,638.7v3.2" stroke="#5a5a5a" stroke-width="0.9" fill="none"/>
<path d="M214.8,644.5h3.2M216.4,642.9v3.2" stroke="#888" stroke-width="0.8"/>
<path d="M217.5,644.5h3.2M219.1,642.9v3.2" stroke="#888" stroke-width="0.8"/>
<path d="M221.1,644.5h3.2M222.7,642.9v3.2" stroke="#888" stroke-width="0.8"/>
<path d="M223.9,644.5h3.2M225.5,642.9v3.2" stroke="#888" stroke-width="0.8"/>
<path d="M227.9,644.5h3.2M229.5,642.9v3.2" stroke="#888" stroke-width="0.8"/>
<path d="M233.9,644.5h3.2M235.5,642.9v3.2" stroke="#888" stroke-width="0.8"/>
<path d="M272.0,644.5h3.2M273.6,642.9v3.2" stroke="#888" stroke-width="0.8"/>
<path d="M217.5,702.8h3.2M219.1,701.2v3.2" stroke="#888" stroke-width="0.8"/>
<path d="M220.2,702.8h3.2M221.8,701.2v3.2" stroke="#888" stroke-width="0.8"/>
<path d="M252.9,702.8h3.2M254.5,701.2v3.2" stroke="#888" stroke-width="0.8"/>
<path d="M214.8,668.6h3.2M216.4,667.0v3.2" stroke="#888" stroke-width="0.8"/>
<rect x="156.0" y="578.9" width="122.19999999999999" height="129.5" fill="none" stroke="#c8c8c8" stroke-width="0.9"/>
<rect x="210.2" y="579.7" width="67.0" height="13" fill="#fff"/>
<text x="216.2" y="588.9" font-size="7.6" font-weight="bold" fill="#111">Log-rank = 0.442</text>
<line x1="160.5" y1="708.4" x2="160.5" y2="709.9" stroke="#aaa" stroke-width="0.7"/>
<line x1="185.1" y1="708.4" x2="185.1" y2="709.9" stroke="#aaa" stroke-width="0.7"/>
<line x1="209.8" y1="708.4" x2="209.8" y2="709.9" stroke="#aaa" stroke-width="0.7"/>
<line x1="234.4" y1="708.4" x2="234.4" y2="709.9" stroke="#aaa" stroke-width="0.7"/>
<line x1="259.0" y1="708.4" x2="259.0" y2="709.9" stroke="#aaa" stroke-width="0.7"/>
<text transform="translate(160.4 722.6) scale(0.8 1)" font-size="9.2" font-weight="bold" fill="#111" text-anchor="middle">0</text>
<text transform="translate(186.5 722.6) scale(0.8 1)" font-size="9.2" font-weight="bold" fill="#111" text-anchor="middle">50</text>
<text transform="translate(210.4 722.6) scale(0.8 1)" font-size="9.2" font-weight="bold" fill="#111" text-anchor="middle">100</text>
<text transform="translate(237.5 722.6) scale(0.8 1)" font-size="9.2" font-weight="bold" fill="#111" text-anchor="middle">150</text>
<text transform="translate(262.8 722.6) scale(0.8 1)" font-size="9.2" font-weight="bold" fill="#111" text-anchor="middle">200</text>
<rect x="153" y="715.6" width="3" height="8.799999999999955" fill="#e2e2e2"/>
<rect x="283.7" y="567.8" width="118.10000000000002" height="11.100000000000023" fill="#d9d9d9"/>
<text x="322.1" y="576.2" font-size="8.0" fill="#222" textLength="45.8" lengthAdjust="spacingAndGlyphs">Dendritic Cell</text>
<rect x="283.7" y="578.9" width="122.0" height="129.5" fill="#fff"/>
<line x1="288.2" y1="578.9" x2="288.2" y2="708.4" stroke="#ebebeb" stroke-width="0.9"/>
<line x1="300.5" y1="578.9" x2="300.5" y2="708.4" stroke="#f4f4f4" stroke-width="0.6"/>
<line x1="312.8" y1="578.9" x2="312.8" y2="708.4" stroke="#ebebeb" stroke-width="0.9"/>
<line x1="325.1" y1="578.9" x2="325.1" y2="708.4" stroke="#f4f4f4" stroke-width="0.6"/>
<line x1="337.4" y1="578.9" x2="337.4" y2="708.4" stroke="#ebebeb" stroke-width="0.9"/>
<line x1="349.8" y1="578.9" x2="349.8" y2="708.4" stroke="#f4f4f4" stroke-width="0.6"/>
<line x1="362.1" y1="578.9" x2="362.1" y2="708.4" stroke="#ebebeb" stroke-width="0.9"/>
<line x1="374.4" y1="578.9" x2="374.4" y2="708.4" stroke="#f4f4f4" stroke-width="0.6"/>
<line x1="386.7" y1="578.9" x2="386.7" y2="708.4" stroke="#ebebeb" stroke-width="0.9"/>
<line x1="399.0" y1="578.9" x2="399.0" y2="708.4" stroke="#f4f4f4" stroke-width="0.6"/>
<line x1="283.7" y1="585.6" x2="405.7" y2="585.6" stroke="#ebebeb" stroke-width="0.9"/>
<line x1="283.7" y1="606.0" x2="405.7" y2="606.0" stroke="#f4f4f4" stroke-width="0.6"/>
<line x1="283.7" y1="626.3" x2="405.7" y2="626.3" stroke="#ebebeb" stroke-width="0.9"/>
<line x1="283.7" y1="646.7" x2="405.7" y2="646.7" stroke="#f4f4f4" stroke-width="0.6"/>
<line x1="283.7" y1="667.1" x2="405.7" y2="667.1" stroke="#ebebeb" stroke-width="0.9"/>
<line x1="283.7" y1="687.4" x2="405.7" y2="687.4" stroke="#f4f4f4" stroke-width="0.6"/>
<line x1="283.7" y1="707.8" x2="405.7" y2="707.8" stroke="#ebebeb" stroke-width="0.9"/>
<polyline points="288.1,584.1 293.2,591.7 298.3,600.6 302.1,609.5 304.6,617.2 305.9,621.0 308.5,623.5 313.5,627.4 319.9,631.2 325.0,633.7 325.9,634.0 325.9,645.9 326.8,646.8 344.1,646.8 344.1,675.0 400.5,675.0" fill="none" stroke="#ee6464" stroke-width="1.2"/>
<polyline points="321.4,652.3 338.6,652.3 338.6,666.8 343.2,666.8 343.2,702.3 381.4,702.3" fill="none" stroke="#6464ee" stroke-width="1.2"/>
<polyline points="288.1,584.1 293.2,591.7 298.3,600.6 302.1,609.5 304.6,617.2 305.9,621.0" fill="none" stroke="#7c7c7c" stroke-width="5.80" stroke-linecap="round" stroke-linejoin="round"/>
<path d="M285.4,585.3h3.2M287.0,583.7v3.2M286.6,586.9h3.2M288.2,585.3v3.2M288.4,586.7h3.2M290.0,585.1v3.2M290.6,587.4h3.2M292.2,585.8v3.2M290.7,587.9h3.2M292.3,586.3v3.2M291.3,589.8h3.2M292.9,588.2v3.2M292.5,590.2h3.2M294.1,588.6v3.2M291.5,591.8h3.2M293.1,590.2v3.2M292.6,593.9h3.2M294.2,592.3v3.2M294.2,594.0h3.2M295.8,592.4v3.2M294.2,596.4h3.2M295.8,594.8v3.2M295.8,596.3h3.2M297.4,594.7v3.2M296.0,598.6h3.2M297.6,597.0v3.2M297.3,600.1h3.2M298.9,598.5v3.2M296.3,602.0h3.2M297.9,600.4v3.2M298.7,601.6h3.2M300.3,600.0v3.2M296.8,604.7h3.2M298.4,603.1v3.2M299.0,605.2h3.2M300.6,603.6v3.2M300.0,605.9h3.2M301.6,604.3v3.2M300.5,607.7h3.2M302.1,606.1v3.2M298.7,609.3h3.2M300.3,607.7v3.2M300.0,609.8h3.2M301.6,608.2v3.2M301.6,611.2h3.2M303.2,609.6v3.2M300.1,613.6h3.2M301.7,612.0v3.2M302.7,613.3h3.2M304.3,611.7v3.2M304.0,614.3h3.2M305.6,612.7v3.2M304.3,616.4h3.2M305.9,614.8v3.2M303.0,618.0h3.2M304.6,616.4v3.2M302.5,619.8h3.2M304.1,618.2v3.2M302.3,620.6h3.2M303.9,619.0v3.2" stroke="#5a5a5a" stroke-width="0.9" fill="none"/>
<polyline points="305.9,621.0 308.5,623.5 313.5,627.4 319.9,631.2 325.0,633.7" fill="none" stroke="#7c7c7c" stroke-width="3.60" stroke-linecap="round" stroke-linejoin="round"/>
<path d="M304.5,622.2h3.2M306.1,620.6v3.2M307.0,623.2h3.2M308.6,621.6v3.2M307.6,623.6h3.2M309.2,622.0v3.2M307.9,624.9h3.2M309.5,623.3v3.2M310.5,626.5h3.2M312.1,624.9v3.2M310.7,626.8h3.2M312.3,625.2v3.2M312.2,628.3h3.2M313.8,626.7v3.2M314.3,628.9h3.2M315.9,627.3v3.2M315.4,630.0h3.2M317.0,628.4v3.2M316.4,630.4h3.2M318.0,628.8v3.2M317.3,631.0h3.2M318.9,629.4v3.2M318.6,630.9h3.2M320.2,629.3v3.2M319.8,632.2h3.2M321.4,630.6v3.2M321.6,633.3h3.2M323.2,631.7v3.2M323.0,633.8h3.2M324.6,632.2v3.2" stroke="#5a5a5a" stroke-width="0.9" fill="none"/>
<polyline points="327.5,646.6 342.0,646.6" fill="none" stroke="#7c7c7c" stroke-width="3.00" stroke-linecap="round" stroke-linejoin="round"/>
<path d="M326.0,646.9h3.2M327.6,645.3v3.2M327.5,646.9h3.2M329.1,645.3v3.2M329.8,646.9h3.2M331.4,645.3v3.2M330.1,646.8h3.2M331.7,645.2v3.2M332.2,647.0h3.2M333.8,645.4v3.2M333.6,646.7h3.2M335.2,645.1v3.2M334.3,646.8h3.2M335.9,645.2v3.2M335.9,646.7h3.2M337.5,645.1v3.2M337.5,646.7h3.2M339.1,645.1v3.2M337.9,646.6h3.2M339.5,645.0v3.2M339.5,646.7h3.2M341.1,645.1v3.2" stroke="#5a5a5a" stroke-width="0.9" fill="none"/>
<polyline points="305.9,621.0 306.8,629.0 308.5,636.3 311.0,641.4 316.1,645.2 321.2,649.5 321.4,652.3 338.6,652.3" fill="none" stroke="#7c7c7c" stroke-width="3.80" stroke-linecap="round" stroke-linejoin="round"/>
<path d="M303.9,622.1h3.2M305.5,620.5v3.2M304.5,622.7h3.2M306.1,621.1v3.2M305.3,623.9h3.2M306.9,622.3v3.2M305.5,626.2h3.2M307.1,624.6v3.2M305.8,626.4h3.2M307.4,624.8v3.2M305.8,628.3h3.2M307.4,626.7v3.2M306.2,629.6h3.2M307.8,628.0v3.2M305.2,630.6h3.2M306.8,629.0v3.2M306.5,632.3h3.2M308.1,630.7v3.2M306.6,634.6h3.2M308.2,633.0v3.2M306.7,634.9h3.2M308.3,633.3v3.2M306.6,636.6h3.2M308.2,635.0v3.2M307.5,637.9h3.2M309.1,636.3v3.2M308.8,638.5h3.2M310.4,636.9v3.2M309.3,640.1h3.2M310.9,638.5v3.2M309.6,642.6h3.2M311.2,641.0v3.2M312.1,642.7h3.2M313.7,641.1v3.2M313.0,643.3h3.2M314.6,641.7v3.2M313.4,644.5h3.2M315.0,642.9v3.2M315.1,646.0h3.2M316.7,644.4v3.2M316.4,646.0h3.2M318.0,644.4v3.2M317.7,646.8h3.2M319.3,645.2v3.2M318.1,647.5h3.2M319.7,645.9v3.2M318.8,649.3h3.2M320.4,647.7v3.2M320.4,649.8h3.2M322.0,648.2v3.2M320.6,651.4h3.2M322.2,649.8v3.2M320.5,652.0h3.2M322.1,650.4v3.2M321.3,652.1h3.2M322.9,650.5v3.2M322.5,653.0h3.2M324.1,651.4v3.2M324.3,652.0h3.2M325.9,650.4v3.2M325.6,651.4h3.2M327.2,649.8v3.2M327.3,651.9h3.2M328.9,650.3v3.2M328.1,652.7h3.2M329.7,651.1v3.2M330.3,652.7h3.2M331.9,651.1v3.2M330.7,653.0h3.2M332.3,651.4v3.2M332.6,651.4h3.2M334.2,649.8v3.2M334.2,651.9h3.2M335.8,650.3v3.2M335.0,652.3h3.2M336.6,650.7v3.2M335.7,652.6h3.2M337.3,651.0v3.2" stroke="#5a5a5a" stroke-width="0.9" fill="none"/>
<path d="M345.2,675.0h3.2M346.8,673.4v3.2" stroke="#888" stroke-width="0.8"/>
<path d="M348.9,675.0h3.2M350.5,673.4v3.2" stroke="#888" stroke-width="0.8"/>
<path d="M351.6,675.0h3.2M353.2,673.4v3.2" stroke="#888" stroke-width="0.8"/>
<path d="M361.6,675.0h3.2M363.2,673.4v3.2" stroke="#888" stroke-width="0.8"/>
<path d="M398.9,675.0h3.2M400.5,673.4v3.2" stroke="#888" stroke-width="0.8"/>
<path d="M344.3,702.3h3.2M345.9,700.7v3.2" stroke="#888" stroke-width="0.8"/>
<path d="M347.0,702.3h3.2M348.6,700.7v3.2" stroke="#888" stroke-width="0.8"/>
<path d="M349.8,702.3h3.2M351.4,700.7v3.2" stroke="#888" stroke-width="0.8"/>
<path d="M355.2,702.3h3.2M356.8,700.7v3.2" stroke="#888" stroke-width="0.8"/>
<path d="M379.8,702.3h3.2M381.4,700.7v3.2" stroke="#888" stroke-width="0.8"/>
<path d="M341.6,683.7h3.2M343.2,682.1v3.2" stroke="#888" stroke-width="0.8"/>
<rect x="283.7" y="578.9" width="122.0" height="129.5" fill="none" stroke="#c8c8c8" stroke-width="0.9"/>
<rect x="333.8" y="579.7" width="70.9" height="13" fill="#fff"/>
<text x="339.8" y="588.9" font-size="7.6" font-weight="bold" fill="#111">Log-rank = 0.256</text>
<line x1="288.2" y1="708.4" x2="288.2" y2="709.9" stroke="#aaa" stroke-width="0.7"/>
<line x1="312.8" y1="708.4" x2="312.8" y2="709.9" stroke="#aaa" stroke-width="0.7"/>
<line x1="337.4" y1="708.4" x2="337.4" y2="709.9" stroke="#aaa" stroke-width="0.7"/>
<line x1="362.1" y1="708.4" x2="362.1" y2="709.9" stroke="#aaa" stroke-width="0.7"/>
<line x1="386.7" y1="708.4" x2="386.7" y2="709.9" stroke="#aaa" stroke-width="0.7"/>
<text transform="translate(286.6 723.8) scale(0.8 1)" font-size="9.2" font-weight="bold" fill="#111" text-anchor="middle">0</text>
<text transform="translate(313.0 723.8) scale(0.8 1)" font-size="9.2" font-weight="bold" fill="#111" text-anchor="middle">50</text>
<text transform="translate(337.8 723.8) scale(0.8 1)" font-size="9.2" font-weight="bold" fill="#111" text-anchor="middle">100</text>
<text transform="translate(363.0 723.8) scale(0.8 1)" font-size="9.2" font-weight="bold" fill="#111" text-anchor="middle">150</text>
<text transform="translate(389.3 723.8) scale(0.8 1)" font-size="9.2" font-weight="bold" fill="#111" text-anchor="middle">200</text>
<rect x="280.5" y="715.8" width="3.0" height="8.700000000000045" fill="#e2e2e2"/>
<rect x="406.2" y="578.9" width="11.8" height="129.5" fill="#d9d9d9"/>
<text x="0" y="0" font-size="6.6" fill="#444" text-anchor="middle" transform="translate(409.8,643.6) rotate(90)">UCEC</text>
<text x="0" y="0" font-size="8.2" fill="#444" text-anchor="middle" transform="translate(10.3,485.4) rotate(-90)">Cumulative Survival</text>
<text x="0" y="0" font-size="8.2" fill="#444" text-anchor="middle" transform="translate(14.5,644.4) rotate(-90)">Cumulative Survival</text>
<text x="430.8" y="607.4" font-size="9.8" fill="#222">Level</text>
<line x1="430" y1="619.1" x2="438.2" y2="619.1" stroke="#ee6464" stroke-width="1.3"/>
<text x="445" y="622.4" font-size="10.9" fill="#222">High (Top 50%)</text>
<line x1="430" y1="631.4" x2="438.2" y2="631.4" stroke="#6464ee" stroke-width="1.3"/>
<text x="445" y="636.8" font-size="10.8" fill="#222">Low (Bottom 50%)</text>
<text x="157" y="744.9" font-size="12.9" fill="#111">Time to Follow-Up (months</text>
</svg></body></html>
